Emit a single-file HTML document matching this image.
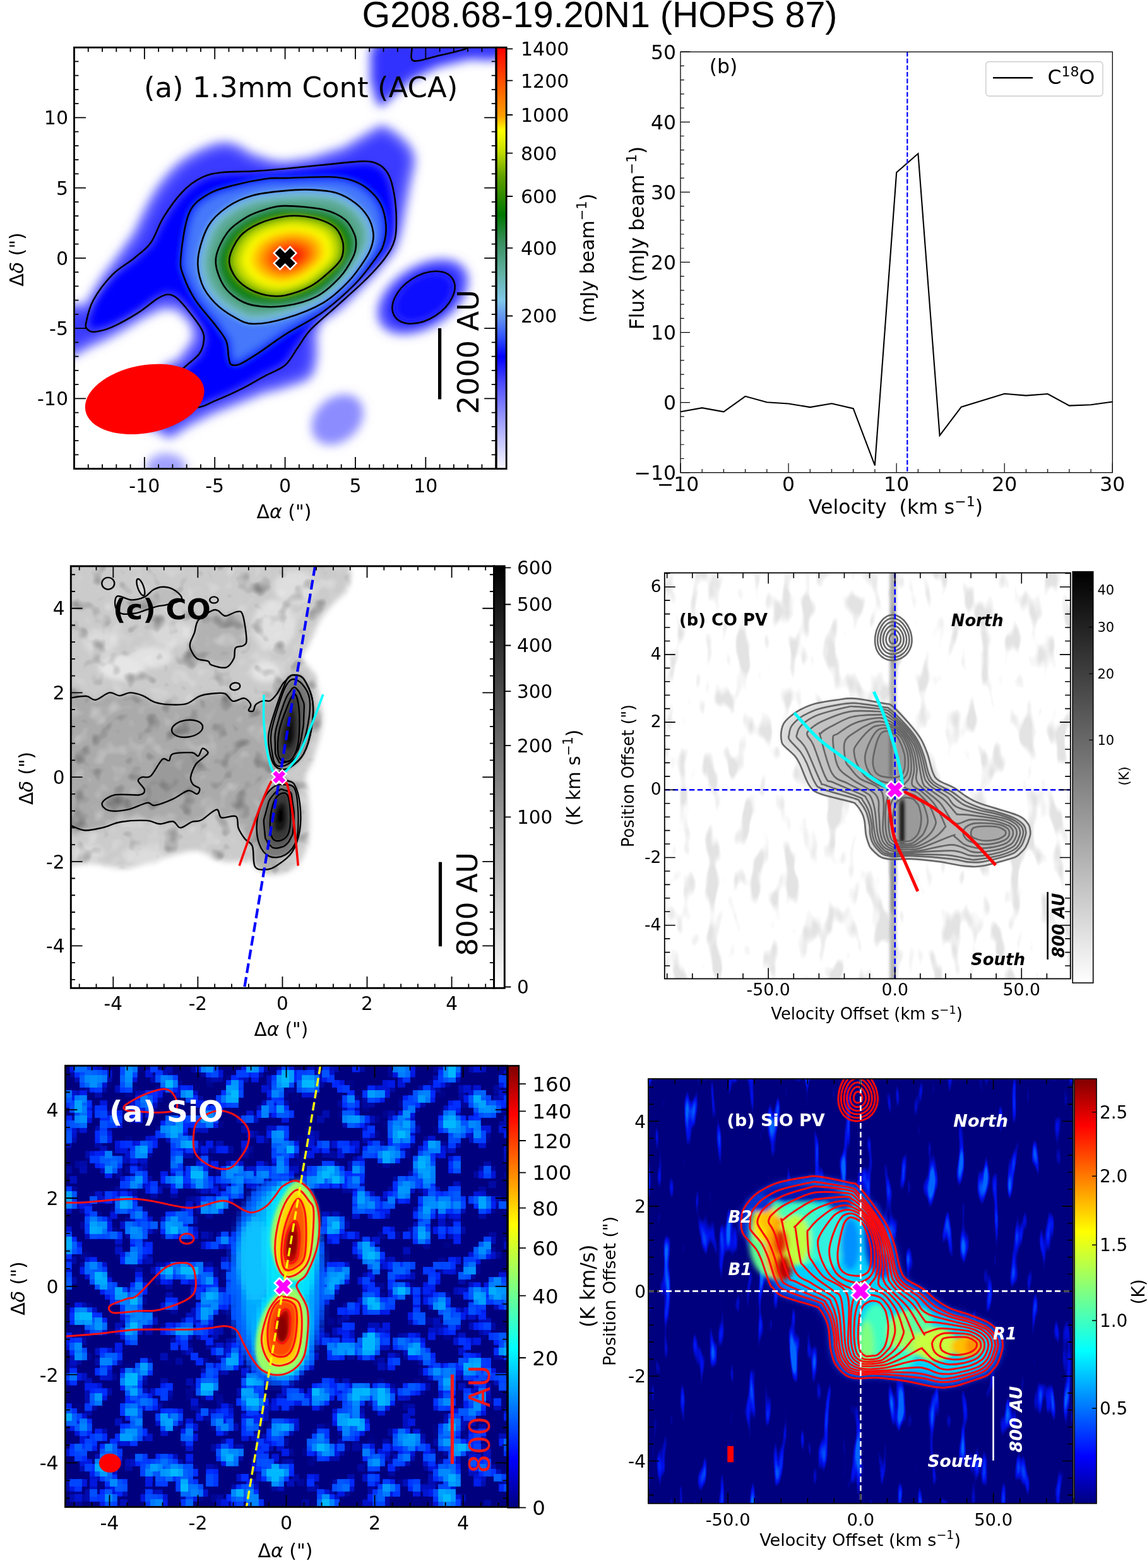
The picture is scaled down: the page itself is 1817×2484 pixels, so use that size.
<!DOCTYPE html>
<html><head><meta charset="utf-8"><title>G208.68-19.20N1 (HOPS 87)</title>
<style>html,body{margin:0;padding:0;background:#fff;} svg{display:block;}</style></head>
<body><svg width="1817" height="2484" viewBox="0 0 1817 2484">
<defs><linearGradient id="cmapA" x1="0" y1="0" x2="0" y2="1"><stop offset="0" stop-color="#ff0000"/><stop offset="0.08" stop-color="#ff5000"/><stop offset="0.163" stop-color="#ffa000"/><stop offset="0.197" stop-color="#ffff00"/><stop offset="0.244" stop-color="#c8e000"/><stop offset="0.307" stop-color="#60a000"/><stop offset="0.397" stop-color="#007800"/><stop offset="0.464" stop-color="#3a9060"/><stop offset="0.532" stop-color="#60b0a0"/><stop offset="0.6" stop-color="#80c8e8"/><stop offset="0.644" stop-color="#6090f0"/><stop offset="0.689" stop-color="#3050ff"/><stop offset="0.734" stop-color="#0000ff"/><stop offset="0.8" stop-color="#5050ff"/><stop offset="0.87" stop-color="#9090ff"/><stop offset="0.937" stop-color="#c8c8ff"/><stop offset="1" stop-color="#f8f8ff"/></linearGradient><linearGradient id="cmapC" x1="0" y1="0" x2="0" y2="1"><stop offset="0" stop-color="#000000"/><stop offset="1" stop-color="#ffffff"/></linearGradient><linearGradient id="cmapD" x1="0" y1="0" x2="0" y2="1"><stop offset="0" stop-color="#000000"/><stop offset="1" stop-color="#ffffff"/></linearGradient><linearGradient id="jet" x1="0" y1="0" x2="0" y2="1"><stop offset="0" stop-color="#7f0000"/><stop offset="0.11" stop-color="#ff0000"/><stop offset="0.36" stop-color="#ffff00"/><stop offset="0.5" stop-color="#7fff7f"/><stop offset="0.64" stop-color="#00ffff"/><stop offset="0.89" stop-color="#0000ff"/><stop offset="1" stop-color="#00007f"/></linearGradient><linearGradient id="jetF" x1="0" y1="0" x2="0" y2="1"><stop offset="0" stop-color="#800000"/><stop offset="0.11" stop-color="#ff0000"/><stop offset="0.36" stop-color="#ffff00"/><stop offset="0.5" stop-color="#80ff80"/><stop offset="0.64" stop-color="#00ffff"/><stop offset="0.89" stop-color="#0000ff"/><stop offset="1" stop-color="#000080"/></linearGradient><filter id="blurA" x="-10%" y="-10%" width="120%" height="120%"><feGaussianBlur stdDeviation="5.5"/></filter><filter id="blurA2" x="-10%" y="-10%" width="120%" height="120%"><feGaussianBlur stdDeviation="3.2"/></filter><clipPath id="clipA"><rect x="117.5" y="75.2" width="668.2" height="667.4"/></clipPath><filter id="blurA0" x="-10%" y="-10%" width="120%" height="120%"><feGaussianBlur stdDeviation="8"/></filter><clipPath id="clipB"><rect x="1078.0" y="82.2" width="684.3" height="666.5"/></clipPath><clipPath id="clipC"><rect x="112.3" y="896.9" width="670.3000000000001" height="668.4"/></clipPath><filter id="blurC" x="-10%" y="-10%" width="120%" height="120%"><feGaussianBlur stdDeviation="4"/></filter><filter id="blurC2" x="-20%" y="-20%" width="140%" height="140%"><feGaussianBlur stdDeviation="2.5"/></filter><filter id="mottleC" x="0" y="0" width="100%" height="100%" color-interpolation-filters="sRGB">
<feTurbulence type="fractalNoise" baseFrequency="0.035" numOctaves="2" seed="21" result="t"/>
<feColorMatrix in="t" type="matrix" values="0 0 0 0 1  0 0 0 0 1  0 0 0 0 1  1.0 0 0 0 -0.56" result="w"/>
<feColorMatrix in="t" type="matrix" values="0 0 0 0 0  0 0 0 0 0  0 0 0 0 0  -1.0 0 0 0 0.44" result="k"/>
<feMerge><feMergeNode in="w"/><feMergeNode in="k"/></feMerge>
</filter><mask id="maskC"><g filter="url(#blurC)"><path d="M72.1 856.8C112.3 816.7 233.0 856.8 313.4 856.8C393.8 856.8 514.5 853.5 554.7 856.8C594.9 860.1 555.3 864.8 554.7 876.8C554.1 888.9 556.0 915.5 551.3 929.0C546.7 942.5 533.9 948.8 526.5 957.7C519.2 966.6 513.6 971.4 507.1 982.5C500.6 993.5 492.6 1013.8 487.7 1023.9C482.8 1034.0 476.0 1035.9 477.6 1043.3C479.2 1050.6 491.7 1054.5 497.1 1068.0C502.4 1081.5 507.7 1110.0 509.8 1124.2C511.9 1138.3 512.2 1139.3 509.8 1152.9C507.3 1166.5 499.3 1192.7 495.0 1205.7C490.8 1218.7 485.3 1220.2 484.3 1231.1C483.3 1242.0 488.2 1255.6 489.0 1271.2C489.8 1286.8 490.9 1309.6 489.0 1324.7C487.1 1339.7 483.4 1352.0 477.6 1361.4C471.8 1370.9 463.6 1377.6 454.2 1381.5C444.7 1385.4 429.8 1387.6 420.6 1384.8C411.5 1382.0 410.4 1368.1 399.2 1364.8C388.0 1361.4 367.9 1367.6 353.6 1364.8C339.3 1362.0 326.8 1349.7 313.4 1348.1C300.0 1346.4 286.6 1351.4 273.2 1354.8C259.8 1358.1 246.4 1364.8 233.0 1368.1C219.5 1371.5 207.3 1374.8 192.7 1374.8C178.2 1374.8 159.2 1368.7 145.8 1368.1C132.4 1367.6 124.6 1370.9 112.3 1371.5C100.0 1372.0 78.8 1383.7 72.1 1371.5C65.4 1359.2 72.1 1343.6 72.1 1297.9C72.1 1252.3 72.1 1170.9 72.1 1097.4C72.1 1023.9 31.9 896.9 72.1 856.8Z" fill="#fff"/></g></mask><clipPath id="clipD"><rect x="1052.8" y="907.5" width="643.0" height="643.0"/></clipPath><filter id="noiseD" x="0" y="0" width="100%" height="100%" color-interpolation-filters="sRGB">
<feTurbulence type="fractalNoise" baseFrequency="0.042 0.016" numOctaves="2" seed="7" result="t"/>
<feColorMatrix in="t" type="matrix" values="0 0 0 0 0.89  0 0 0 0 0.89  0 0 0 0 0.89  7 0 0 0 -3.85"/>
</filter><filter id="blurD" x="-10%" y="-10%" width="120%" height="120%"><feGaussianBlur stdDeviation="2.5"/></filter><filter id="blurD2" x="-50%" y="-10%" width="200%" height="120%"><feGaussianBlur stdDeviation="2.2 5"/></filter><clipPath id="clipE"><rect x="103.5" y="1688.3" width="700.1" height="699.0000000000002"/></clipPath><filter id="noiseE" x="0" y="0" width="100%" height="100%" color-interpolation-filters="sRGB">
<feTurbulence type="fractalNoise" baseFrequency="0.026" numOctaves="3" seed="11" result="t"/>
<feColorMatrix in="t" type="matrix" values="0 0 0 0 0  0 0 0 0 0.12  0 0 0 0 1  14 0 0 0 -7.12" result="l1"/>
<feColorMatrix in="t" type="matrix" values="0 0 0 0 0  0 0 0 0 0.45  0 0 0 0 1  8 0 0 0 -4.5" result="l2"/>
<feColorMatrix in="t" type="matrix" values="0 0 0 0 0  0 0 0 0 0.72  0 0 0 0 1  8 0 0 0 -5.3" result="l3"/>
<feMerge result="m"><feMergeNode in="l1"/><feMergeNode in="l2"/><feMergeNode in="l3"/></feMerge>
<feFlood x="107.7" y="1692.5" width="1" height="1" flood-color="#000"/>
<feComposite x="103.5" y="1688.3" width="9.4" height="9.4"/>
<feTile result="grid"/>
<feComposite in="m" in2="grid" operator="in"/>
<feMorphology operator="dilate" radius="4.7"/>
</filter><filter id="blurE" filterUnits="userSpaceOnUse" x="103.5" y="1688.3" width="700.1" height="699.0000000000002">
<feGaussianBlur stdDeviation="4" result="b"/>
<feFlood x="107.7" y="1692.5" width="1" height="1" flood-color="#000"/>
<feComposite x="103.5" y="1688.3" width="9.4" height="9.4"/>
<feTile result="grid"/>
<feComposite in="b" in2="grid" operator="in"/>
<feMorphology operator="dilate" radius="4.7"/>
</filter><filter id="blurE2" x="-20%" y="-20%" width="140%" height="140%"><feGaussianBlur stdDeviation="2.6"/></filter><clipPath id="clipF"><rect x="1027" y="1709" width="672.8" height="672.8000000000002"/></clipPath><filter id="noiseF" x="0" y="0" width="100%" height="100%" color-interpolation-filters="sRGB">
<feTurbulence type="fractalNoise" baseFrequency="0.06 0.011" numOctaves="2" seed="5" result="t"/>
<feColorMatrix in="t" type="matrix" values="0 0 0 0 0  0 0 0 0 0.06  0 0 0 0 0.93  12 0 0 0 -7.5" result="l1"/>
<feColorMatrix in="t" type="matrix" values="0 0 0 0 0  0 0 0 0 0.4  0 0 0 0 1  12 0 0 0 -8.6" result="l2"/>
<feMerge><feMergeNode in="l1"/><feMergeNode in="l2"/></feMerge>
</filter><filter id="blurF" x="-20%" y="-20%" width="140%" height="140%"><feGaussianBlur stdDeviation="6 4"/></filter><filter id="blurF2" x="-20%" y="-20%" width="140%" height="140%"><feGaussianBlur stdDeviation="4 3"/></filter></defs>
<text x="950" y="42.6" font-size="57.4" text-anchor="middle" fill="#000" font-family="'Liberation Sans', Arial, sans-serif">G208.68-19.20N1 (HOPS 87)</text><g clip-path="url(#clipA)"><g filter="url(#blurA0)"><path d="M181.9 410.1C178.2 415.1 167.4 428.5 159.7 440.3C152.0 452.0 139.5 473.9 135.5 480.7C131.4 487.4 135.4 480.8 135.4 480.8C135.3 480.9 135.3 480.9 135.2 481.0C135.2 481.0 135.1 481.1 135.1 481.1C135.0 481.2 135.0 481.2 134.9 481.3C134.9 481.3 134.8 481.3 134.8 481.4C134.7 481.4 134.7 481.4 134.6 481.5C134.5 481.5 134.5 481.5 134.4 481.5C134.4 481.6 140.4 480.1 134.2 481.6C128.0 483.1 103.4 476.5 97.2 490.6C91.1 504.7 88.9 556.6 97.2 566.2C105.5 575.9 132.0 554.9 147.0 548.5C162.0 542.2 173.9 535.8 187.4 528.4C200.8 521.0 221.1 508.2 227.8 504.2C234.6 500.1 222.9 506.5 228.0 504.1C233.1 501.7 253.2 492.2 258.3 489.8C263.4 487.5 258.4 489.8 258.5 489.8C258.6 489.7 258.6 489.7 258.7 489.7C258.8 489.7 258.9 489.7 258.9 489.7C259.0 489.7 259.1 489.7 259.1 489.7C259.2 489.7 255.9 489.3 259.4 489.7C262.8 490.0 276.2 491.3 279.6 491.7C283.0 492.0 279.8 491.7 279.8 491.7C279.9 491.7 279.9 491.7 280.0 491.7C280.1 491.8 280.1 491.8 280.2 491.8C280.3 491.8 280.3 491.9 280.4 491.9C280.4 491.9 280.5 492.0 280.5 492.0C280.6 492.0 280.7 492.1 280.7 492.1C280.8 492.2 277.5 488.9 280.8 492.3C284.2 495.6 297.5 509.1 300.9 512.5C304.3 515.9 301.0 512.6 301.0 512.6C301.1 512.7 301.1 512.7 301.1 512.8C301.2 512.8 301.2 512.9 301.2 513.0C301.3 513.0 301.3 513.1 301.3 513.1C301.3 513.2 301.4 513.2 301.4 513.3C301.4 513.4 300.7 510.1 301.4 513.5C302.1 516.9 305.0 530.3 305.7 533.7C306.4 537.1 305.7 533.9 305.7 533.9C305.7 534.0 305.7 534.1 305.7 534.1C305.7 534.2 305.7 534.2 305.7 534.3C305.7 534.4 305.7 534.4 305.7 534.5C305.7 534.6 305.6 534.6 305.6 534.7C305.6 534.8 305.6 534.8 305.6 534.9C305.5 534.9 305.5 535.0 305.5 535.0C305.5 535.1 307.1 532.5 305.4 535.2C303.7 538.0 296.9 548.7 295.2 551.5C293.4 554.2 297.4 548.6 295.0 551.6C292.7 554.6 283.4 566.6 281.0 569.6C278.6 572.7 280.9 569.8 280.9 569.8C280.8 569.9 280.8 569.9 280.7 570.0C280.6 570.0 285.2 567.0 280.5 570.1C275.9 573.1 262.8 572.6 252.7 588.2C242.7 603.9 220.7 648.0 220.2 664.0C219.8 680.0 241.8 679.0 249.9 683.9C258.1 688.9 261.0 694.9 269.1 693.6C277.2 692.3 293.5 678.9 298.4 675.9C303.4 673.0 291.8 679.2 298.6 675.8C305.4 672.5 332.5 659.0 339.3 655.6C346.2 652.2 332.8 658.2 339.5 655.5C346.2 652.9 366.4 644.9 379.8 639.5C393.2 634.1 413.4 626.0 420.1 623.3C426.9 620.6 415.2 624.5 420.4 623.2C425.5 621.9 439.3 619.2 451.0 615.2C462.7 611.3 482.1 606.8 490.6 599.4C499.1 591.9 500.2 581.8 502.2 570.3C504.1 558.7 502.2 536.9 502.2 530.1C502.2 523.4 502.2 530.0 502.2 530.0C502.2 529.9 502.2 529.8 502.2 529.8C502.2 529.7 502.2 529.6 502.2 529.6C502.3 529.5 501.0 532.8 502.3 529.4C503.7 526.0 509.0 512.6 510.3 509.2C511.7 505.8 510.4 509.0 510.4 509.0C510.4 508.9 510.5 508.9 510.5 508.8C510.5 508.7 510.6 508.7 510.6 508.6C510.7 508.6 510.7 508.5 510.8 508.5C510.8 508.4 510.9 508.4 510.9 508.4C511.0 508.3 506.0 511.6 511.1 508.2C516.2 504.9 528.0 499.8 541.4 488.1C554.9 476.4 579.0 451.2 591.8 437.8C604.6 424.4 612.3 414.4 618.0 407.6C623.7 400.9 622.8 404.1 625.8 397.5C628.8 390.8 632.9 379.4 635.9 367.7C638.9 356.0 642.5 334.0 643.9 327.3C645.2 320.6 642.5 334.0 643.9 327.3C645.2 320.6 650.5 293.8 651.9 287.0C653.2 280.3 650.9 292.0 651.9 287.0C652.9 282.0 657.7 265.2 658.0 257.0C658.4 248.8 656.6 243.6 654.0 237.8C651.4 232.0 647.6 227.4 642.4 222.1C637.1 216.8 629.0 210.1 622.5 206.2C616.0 202.3 611.5 197.3 603.4 198.6C595.3 200.0 583.9 208.8 574.0 214.4C564.0 220.1 548.8 229.6 543.7 232.6C538.7 235.7 543.6 232.7 543.5 232.7C543.5 232.8 551.8 230.1 543.3 232.8C534.8 235.5 501.2 246.2 492.7 248.9C484.3 251.5 492.6 248.9 492.6 248.9C492.5 248.9 499.2 247.9 492.4 248.9C485.7 250.0 458.7 254.1 451.9 255.2C445.1 256.2 451.8 255.2 451.7 255.2C451.7 255.2 451.6 255.2 451.6 255.2C451.5 255.2 454.8 255.5 451.4 255.2C447.9 254.8 434.3 253.3 430.9 252.9C427.4 252.6 430.8 252.9 430.7 252.9C430.6 252.9 435.6 254.5 430.5 252.8C425.4 251.2 405.3 244.5 400.2 242.8C395.1 241.2 400.1 242.8 400.0 242.8C400.0 242.8 404.9 245.4 399.9 242.7C394.8 240.0 379.7 229.4 369.8 226.7C359.9 224.0 352.2 223.7 340.7 226.7C329.1 229.7 312.2 237.7 300.5 244.7C288.9 251.6 280.6 258.0 270.6 268.6C260.6 279.2 250.6 291.8 240.6 308.5C230.6 325.3 215.6 359.0 210.6 369.1C205.6 379.2 210.6 369.2 210.5 369.2C210.5 369.3 215.2 362.5 210.5 369.3C205.7 376.1 186.7 403.3 181.9 410.0C177.2 416.8 185.6 405.0 181.9 410.1Z" fill="#6a6aff"/><path d="M191.6 417.2C187.9 422.2 177.3 435.3 169.7 446.9C162.1 458.5 149.9 480.0 145.8 486.8C141.6 493.7 145.3 487.6 145.0 488.0C144.7 488.4 144.4 488.7 144.1 489.1C143.8 489.4 143.5 489.7 143.1 490.0C142.8 490.4 142.4 490.6 142.1 490.9C141.7 491.2 141.3 491.5 140.9 491.7C140.5 491.9 140.1 492.1 139.7 492.3C139.3 492.5 138.8 492.7 138.4 492.9C138.0 493.0 141.9 492.1 137.1 493.3C132.2 494.4 113.9 490.7 109.2 500.0C104.6 509.3 103.7 543.0 109.2 549.2C114.7 555.5 130.2 542.7 142.3 537.5C154.4 532.3 168.4 525.1 181.6 517.9C194.8 510.6 214.8 498.0 221.7 493.9C228.6 489.8 217.7 495.7 222.9 493.2C228.2 490.7 247.9 481.5 253.2 479.0C258.5 476.5 254.1 478.6 254.6 478.4C255.1 478.3 255.6 478.1 256.0 478.0C256.5 477.9 257.0 477.8 257.5 477.8C258.0 477.7 258.5 477.7 259.0 477.7C259.5 477.7 256.9 477.4 260.5 477.7C264.2 478.1 277.2 479.4 280.8 479.7C284.4 480.1 281.7 479.8 282.2 479.9C282.6 480.0 283.1 480.1 283.5 480.3C284.0 480.4 284.4 480.6 284.8 480.7C285.2 480.9 285.7 481.1 286.1 481.3C286.5 481.6 286.9 481.8 287.2 482.0C287.6 482.3 288.0 482.6 288.4 482.9C288.7 483.2 285.9 480.3 289.4 483.8C292.9 487.3 305.9 500.5 309.4 504.1C312.9 507.6 310.0 504.7 310.3 505.0C310.6 505.4 310.9 505.8 311.1 506.1C311.4 506.5 311.6 506.9 311.8 507.3C312.0 507.7 312.2 508.1 312.4 508.5C312.6 508.9 312.7 509.3 312.8 509.7C313.0 510.2 312.4 507.4 313.2 511.0C313.9 514.6 316.7 527.7 317.4 531.3C318.1 534.9 317.6 532.2 317.6 532.6C317.7 533.1 317.7 533.5 317.7 534.0C317.7 534.4 317.7 534.9 317.7 535.3C317.6 535.7 317.6 536.2 317.5 536.6C317.4 537.1 317.3 537.5 317.2 537.9C317.1 538.4 316.9 538.8 316.8 539.2C316.6 539.6 316.4 540.0 316.2 540.4C316.0 540.8 317.4 538.7 315.5 541.6C313.7 544.5 307.1 555.0 305.3 557.9C303.5 560.8 307.0 555.8 304.5 559.0C302.0 562.2 293.0 573.8 290.5 577.0C288.0 580.2 289.8 577.8 289.5 578.2C289.1 578.5 288.7 578.9 288.3 579.2C287.9 579.5 291.4 577.3 287.1 580.1C282.7 583.0 271.0 583.0 262.3 596.3C253.7 609.5 236.2 646.7 235.2 659.6C234.1 672.5 250.4 670.2 256.0 673.5C261.6 676.9 262.5 681.2 268.6 679.9C274.6 678.6 288.1 668.1 292.3 665.6C296.4 663.2 286.3 668.6 293.2 665.1C300.2 661.6 327.0 648.3 334.0 644.9C341.0 641.4 328.2 647.1 335.1 644.4C342.0 641.6 361.9 633.8 375.3 628.4C388.8 623.0 408.6 614.9 415.6 612.2C422.6 609.4 412.1 613.0 417.3 611.6C422.6 610.2 436.5 607.4 447.2 603.8C457.9 600.2 474.2 596.1 481.3 590.1C488.5 584.2 488.7 578.0 490.2 568.0C491.6 558.0 490.2 536.7 490.2 530.1C490.2 523.6 490.2 529.3 490.2 528.8C490.3 528.4 490.3 528.0 490.4 527.5C490.5 527.1 490.6 526.7 490.7 526.2C490.8 525.8 489.7 528.6 491.1 525.0C492.6 521.4 497.7 508.3 499.2 504.7C500.6 501.2 499.5 503.9 499.8 503.5C500.0 503.0 500.2 502.6 500.5 502.2C500.7 501.8 501.0 501.5 501.3 501.1C501.6 500.7 501.9 500.4 502.3 500.0C502.6 499.7 502.9 499.4 503.3 499.1C503.7 498.8 499.4 501.6 504.4 498.2C509.5 494.8 520.7 490.2 533.8 478.8C546.9 467.3 570.5 442.7 583.0 429.6C595.5 416.5 603.4 406.3 608.7 400.0C614.0 393.7 612.4 397.7 615.0 391.8C617.6 385.8 621.4 375.7 624.3 364.6C627.1 353.4 630.8 331.6 632.1 325.0C633.4 318.4 630.8 331.7 632.1 325.0C633.4 318.3 638.8 291.4 640.1 284.7C641.5 278.0 639.2 289.2 640.1 284.6C641.1 280.0 645.3 264.0 645.8 257.0C646.2 250.0 644.8 247.2 642.8 242.8C640.8 238.4 638.0 234.8 633.6 230.5C629.3 226.1 621.4 219.8 616.4 216.7C611.5 213.6 610.3 210.5 604.2 211.9C598.1 213.2 589.0 219.7 579.9 224.9C570.9 230.0 555.2 239.8 549.9 242.9C544.7 246.1 549.0 243.5 548.5 243.7C548.0 243.9 555.6 241.5 546.9 244.3C538.2 247.0 505.0 257.6 496.4 260.3C487.8 263.0 495.7 260.5 495.3 260.6C495.0 260.7 501.2 259.7 494.3 260.8C487.3 261.9 460.7 266.0 453.7 267.0C446.8 268.1 452.9 267.1 452.5 267.1C452.1 267.2 451.7 267.2 451.3 267.2C450.9 267.2 453.7 267.5 450.1 267.1C446.5 266.7 433.3 265.3 429.6 264.9C425.9 264.5 428.6 264.7 428.1 264.6C427.7 264.5 432.0 266.0 426.7 264.2C421.4 262.5 401.7 256.0 396.4 254.2C391.2 252.5 395.7 254.0 395.3 253.8C394.9 253.7 399.0 255.8 394.2 253.3C389.5 250.8 375.3 241.1 366.8 238.7C358.3 236.3 353.2 236.0 343.2 238.7C333.2 241.4 317.5 248.6 306.8 255.0C296.2 261.4 288.6 267.0 279.3 277.0C270.0 287.0 260.5 298.6 250.9 314.8C241.2 331.1 226.4 364.3 221.4 374.4C216.4 384.5 221.0 375.0 220.9 375.3C220.7 375.6 225.1 369.3 220.3 376.2C215.4 383.2 196.6 410.1 191.8 416.9C187.0 423.8 195.3 412.2 191.6 417.2Z" fill="#3a3aff"/><path d="M586.0 120.2C582.1 131.8 584.4 118.6 586.0 125.3C587.7 132.0 592.7 153.1 595.9 160.3C599.1 167.4 601.0 169.3 605.2 168.2C609.5 167.1 618.8 156.1 621.6 153.7C624.3 151.3 616.5 158.1 621.6 153.7C626.6 149.3 646.8 131.8 651.9 127.4C657.0 123.0 652.0 127.3 652.1 127.3C652.1 127.2 652.2 127.2 652.3 127.1C652.4 127.1 645.7 130.4 652.5 127.0C659.3 123.6 686.2 110.2 693.0 106.8C699.8 103.4 693.2 106.7 693.4 106.6C693.5 106.6 685.2 108.6 693.7 106.5C702.2 104.5 735.8 96.5 744.2 94.5C752.7 92.5 744.4 94.5 744.5 94.5C744.6 94.5 736.6 94.8 744.8 94.4C753.0 94.1 785.7 99.0 793.8 92.6C802.0 86.1 824.5 62.1 793.8 56.0C763.1 49.9 644.2 45.2 609.6 56.0C575.0 66.7 589.9 108.7 586.0 120.2Z" fill="#4a4aff"/><path d="M595.0 121.8C591.5 131.7 593.5 118.5 595.0 124.0C596.5 129.6 602.1 149.8 603.8 155.2C605.5 160.6 603.2 157.7 605.1 156.3C607.1 154.9 613.8 148.6 615.6 147.0C617.3 145.4 610.6 151.3 615.7 146.9C620.8 142.5 640.8 125.1 646.0 120.6C651.2 116.2 646.5 120.2 646.8 120.0C647.0 119.8 647.3 119.6 647.6 119.5C647.9 119.3 641.6 122.4 648.5 119.0C655.4 115.5 682.1 102.2 689.0 98.7C696.0 95.3 689.9 98.3 690.3 98.2C690.7 98.0 683.0 99.9 691.6 97.8C700.3 95.7 733.5 87.8 742.2 85.8C750.8 83.7 742.9 85.6 743.3 85.6C743.7 85.5 737.6 85.7 744.5 85.5C751.4 85.2 778.1 87.3 784.8 83.9C791.6 80.5 813.0 68.1 784.8 65.0C756.7 61.8 647.5 55.5 615.9 65.0C584.3 74.4 598.5 112.0 595.0 121.8Z" fill="#3030ff"/><ellipse cx="669.9" cy="470.1" rx="80.2" ry="49.0" transform="rotate(-33 669.9 470.1)" fill="#5a5aff"/><ellipse cx="669.9" cy="470.1" rx="66.8" ry="40.1" transform="rotate(-33 669.9 470.1)" fill="#2a2aff"/><ellipse cx="534.5" cy="664.7" rx="45.7" ry="34.5" transform="rotate(-42 534.5 664.7)" fill="#8c8cff"/><ellipse cx="263.2" cy="742.6" rx="32.3" ry="24.5" transform="rotate(0 263.2 742.6)" fill="#a0a0ff"/></g><g filter="url(#blurA)"><path d="M216.2 413.7C210.5 418.0 192.9 428.6 182.4 439.4C171.9 450.2 159.8 466.6 153.2 478.4C146.6 490.3 144.4 504.2 142.8 510.6C141.1 516.9 142.1 515.3 143.4 516.8C144.6 518.2 144.7 520.1 150.1 519.4C155.5 518.6 164.9 517.1 175.8 512.3C186.7 507.5 203.8 497.9 215.4 490.6C227.0 483.3 240.3 472.3 245.4 468.6C250.5 464.8 245.7 468.3 245.9 468.2C246.1 468.1 243.8 469.1 246.6 467.9C249.4 466.7 260.0 462.2 262.8 461.0C265.6 459.8 263.2 460.9 263.4 460.8C263.5 460.7 263.7 460.7 263.9 460.7C264.1 460.6 264.3 460.6 264.4 460.6C264.6 460.5 264.8 460.5 265.0 460.5C265.2 460.5 265.4 460.5 265.6 460.5C265.7 460.5 265.9 460.6 266.1 460.6C266.3 460.6 266.5 460.7 266.7 460.7C266.8 460.8 264.7 460.0 267.2 460.9C269.7 461.8 279.0 465.1 281.5 466.0C283.9 466.9 281.8 466.1 282.0 466.2C282.2 466.3 282.3 466.4 282.5 466.5C282.7 466.6 282.8 466.7 283.0 466.8C283.2 466.9 283.3 467.1 283.4 467.2C283.6 467.3 280.5 463.9 283.9 467.6C287.3 471.3 300.5 485.9 303.9 489.6C307.3 493.4 300.9 485.3 304.4 490.2C307.8 495.0 321.2 513.8 324.6 518.7C328.1 523.5 324.8 519.0 324.9 519.1C325.0 519.3 325.1 519.4 325.2 519.6C325.2 519.7 325.3 519.9 325.4 520.1C325.4 520.2 325.5 520.4 325.5 520.6C325.6 520.8 325.1 518.0 325.7 521.1C326.2 524.2 328.2 536.0 328.8 539.1C329.3 542.2 328.8 539.5 328.8 539.7C328.9 539.9 328.9 540.1 328.9 540.4C328.9 540.6 328.8 540.8 328.8 541.0C328.8 541.2 328.7 541.4 328.7 541.6C328.6 541.8 329.7 538.7 328.5 542.1C327.3 545.6 322.6 558.9 321.4 562.4C320.2 565.9 321.3 562.8 321.2 562.9C321.1 563.1 321.0 563.3 320.9 563.5C320.8 563.6 320.7 563.8 320.6 564.0C320.4 564.1 320.3 564.3 320.2 564.4C320.1 564.6 323.5 561.4 319.8 564.8C316.0 568.3 305.0 578.0 297.6 585.0C290.2 592.0 278.5 599.2 275.3 606.8C272.2 614.5 272.8 625.6 278.8 631.0C284.8 636.4 301.5 639.4 311.4 639.1C321.3 638.9 326.9 634.1 338.0 629.6C349.1 625.0 364.5 618.4 377.9 611.8C391.2 605.1 411.3 593.3 418.0 589.6C424.7 585.9 413.1 592.2 418.1 589.6C423.0 587.0 439.4 581.1 447.5 574.0C455.7 566.9 460.4 556.1 467.0 546.9C473.6 537.7 483.8 523.4 487.3 518.6C490.7 513.8 487.5 518.3 487.7 518.1C487.8 518.0 481.3 523.8 488.1 517.7C494.9 511.5 514.3 494.0 528.4 481.2C542.5 468.4 560.0 453.5 572.7 440.9C585.5 428.3 597.0 416.2 604.8 405.5C612.6 394.7 616.8 387.8 619.6 376.6C622.4 365.4 622.1 351.1 621.5 338.2C621.0 325.2 618.8 309.1 616.6 298.9C614.4 288.6 612.1 282.4 608.4 276.7C604.8 271.1 600.6 267.4 594.7 264.9C588.7 262.4 586.5 261.3 572.8 261.7C559.2 262.0 532.9 265.2 512.8 267.2C492.6 269.1 462.3 272.2 452.2 273.2C442.1 274.2 460.6 272.5 452.1 273.2C443.6 273.8 409.8 276.5 401.3 277.2C392.8 277.8 409.4 276.9 401.1 277.2C392.7 277.5 364.3 277.6 351.1 279.2C338.0 280.8 331.9 282.0 322.4 286.7C312.8 291.5 303.4 297.7 293.7 307.8C284.0 317.8 272.5 333.9 264.3 347.1C256.0 360.3 247.6 380.4 244.3 387.1C240.9 393.9 244.1 387.4 244.0 387.6C243.9 387.7 243.8 387.9 243.7 388.0C243.6 388.2 243.5 388.3 243.4 388.4C243.2 388.6 247.4 384.7 243.0 388.8C238.5 393.0 221.2 409.1 216.7 413.3C212.2 417.4 222.0 409.3 216.2 413.7Z" fill="#0000ff"/><ellipse cx="671.0" cy="471.2" rx="49.0" ry="30.1" transform="rotate(-33 671.0 471.2)" fill="#0808ff"/><path d="M287.3 408.9C286.0 425.7 288.5 427.8 292.4 438.8C296.3 449.9 302.5 462.7 310.6 475.1C318.7 487.5 335.9 506.9 341.0 513.3C346.1 519.7 338.0 509.0 341.1 513.3C344.1 517.7 356.1 535.2 359.1 539.6C362.1 544.0 359.1 539.6 359.1 539.7C359.2 539.7 359.2 539.7 359.2 539.7C359.2 539.8 359.2 539.8 359.2 539.8C359.2 539.9 359.2 539.9 359.2 539.9C359.3 539.9 358.6 535.6 359.3 540.0C359.9 544.4 362.0 560.1 363.3 566.2C364.5 572.2 364.1 574.9 367.0 576.5C369.8 578.1 373.0 578.8 380.2 575.7C387.5 572.5 398.5 565.3 410.3 557.6C422.1 549.8 444.2 534.0 451.0 529.3C457.8 524.6 441.0 535.4 451.1 529.3C461.2 523.2 493.1 506.3 511.6 492.8C530.1 479.4 548.4 462.8 562.2 448.7C576.0 434.6 587.1 418.4 594.4 408.3C601.8 398.2 603.6 396.4 606.3 388.1C609.0 379.7 611.2 368.9 610.5 358.2C609.8 347.6 607.1 333.8 602.4 324.2C597.7 314.5 590.0 306.5 582.4 300.2C574.7 293.9 566.4 289.5 556.4 286.4C546.4 283.2 539.8 281.9 522.4 281.3C504.9 280.8 468.5 282.6 451.6 283.1C434.7 283.6 434.5 282.3 421.0 284.2C407.5 286.1 385.6 290.4 370.6 294.4C355.5 298.4 342.2 301.0 330.5 308.3C318.8 315.6 307.6 321.4 300.4 338.2C293.2 355.0 288.7 392.1 287.3 408.9Z" fill="#2048ff"/><path d="M295.5 409.0C294.2 424.7 296.5 426.0 300.1 436.3C303.7 446.6 309.5 458.8 317.3 470.8C325.2 482.8 342.2 502.0 347.3 508.3C352.3 514.6 344.6 504.3 347.7 508.8C350.7 513.3 362.6 530.6 365.7 535.1C368.8 539.5 366.0 535.5 366.1 535.7C366.3 536.0 366.4 536.2 366.5 536.5C366.6 536.7 366.7 537.0 366.8 537.2C366.9 537.5 366.9 537.7 367.0 538.0C367.1 538.3 366.5 534.4 367.2 538.8C367.8 543.2 370.2 559.3 371.0 564.2C371.9 569.1 371.3 567.5 372.5 568.1C373.6 568.7 372.2 570.7 377.8 567.8C383.4 564.9 394.5 558.3 405.9 550.8C417.4 543.3 439.6 527.5 446.5 522.7C453.3 518.0 436.9 528.5 447.0 522.4C457.0 516.4 488.6 499.6 506.9 486.4C525.1 473.1 542.9 456.9 556.4 443.1C569.9 429.4 580.8 413.4 587.8 403.8C594.9 394.2 596.2 392.9 598.6 385.4C601.0 377.9 603.0 368.2 602.4 358.6C601.8 349.0 599.2 336.5 595.0 327.8C590.8 319.2 584.1 312.2 577.2 306.6C570.4 300.9 563.1 297.0 553.9 294.1C544.6 291.2 538.9 289.8 521.9 289.3C504.9 288.8 468.5 290.6 451.9 291.1C435.2 291.6 435.1 290.3 421.9 292.2C408.7 294.0 387.2 298.3 372.7 302.1C358.2 306.0 345.7 308.6 334.9 315.3C324.1 321.9 314.4 326.5 307.8 342.1C301.2 357.7 296.8 393.3 295.5 409.0Z" fill="#4478fa"/><path d="M314.8 409.0C313.1 424.1 316.3 437.4 320.7 449.0C325.1 460.7 332.6 470.3 341.0 478.9C349.3 487.6 360.8 495.5 370.8 501.0C380.8 506.5 387.5 511.6 400.9 512.0C414.3 512.4 432.9 509.1 451.3 503.6C469.8 498.1 494.9 488.6 511.7 478.8C528.4 468.9 540.8 456.2 552.0 444.5C563.2 432.7 572.8 417.8 578.8 408.4C584.9 399.0 586.4 394.8 588.3 388.2C590.2 381.5 591.3 375.6 590.2 368.3C589.2 361.0 586.8 352.1 582.1 344.5C577.5 336.8 570.7 328.8 562.3 322.5C554.0 316.2 543.9 309.9 532.1 306.4C520.4 302.9 505.5 302.1 492.1 301.6C478.7 301.0 466.9 301.6 451.7 303.1C436.5 304.6 416.2 306.2 401.1 310.4C386.0 314.7 372.6 320.5 360.9 328.5C349.2 336.5 338.6 345.1 330.9 358.5C323.2 371.9 316.4 393.9 314.8 409.0Z" fill="#78bce8"/><path d="M320.9 409.5C319.3 423.7 322.4 435.9 326.4 446.8C330.5 457.7 337.5 466.6 345.4 474.7C353.2 482.9 364.3 490.5 373.7 495.7C383.0 500.8 388.8 505.5 401.5 505.8C414.2 506.2 431.8 503.2 449.7 497.8C467.5 492.4 492.2 483.2 508.5 473.6C524.8 464.0 536.7 451.7 547.6 440.3C558.4 429.0 567.8 414.3 573.6 405.3C579.4 396.3 580.7 392.6 582.4 386.6C584.2 380.5 585.1 375.5 584.1 369.0C583.2 362.5 581.1 354.5 576.8 347.6C572.6 340.6 566.3 333.2 558.6 327.3C550.8 321.4 541.4 315.5 530.3 312.2C519.2 309.0 504.9 308.1 491.8 307.6C478.8 307.1 467.1 307.7 452.2 309.1C437.4 310.5 417.4 312.2 402.8 316.2C388.1 320.3 375.4 326.0 364.3 333.6C353.2 341.1 343.4 349.1 336.1 361.7C328.9 374.4 322.5 395.3 320.9 409.5Z" fill="#74bcc8"/><path d="M327.0 410.0C325.5 423.2 328.4 434.5 332.2 444.6C336.0 454.6 342.4 462.9 349.8 470.5C357.1 478.1 367.8 485.5 376.5 490.3C385.2 495.2 390.1 499.4 402.1 499.6C414.0 499.9 430.8 497.2 448.0 492.0C465.2 486.8 489.5 477.7 505.3 468.4C521.2 459.1 532.6 447.3 543.2 436.2C553.7 425.2 562.9 410.7 568.5 402.2C574.0 393.7 574.9 390.4 576.5 384.9C578.1 379.5 578.9 375.4 578.0 369.7C577.2 364.0 575.4 356.9 571.6 350.7C567.7 344.4 562.0 337.5 554.8 332.1C547.7 326.7 539.0 321.2 528.5 318.1C517.9 315.0 504.2 314.1 491.6 313.6C479.0 313.1 467.3 313.7 452.8 315.1C438.3 316.5 418.7 318.1 404.5 322.1C390.3 326.0 378.3 331.4 367.8 338.6C357.3 345.7 348.2 353.0 341.4 364.9C334.6 376.8 328.6 396.7 327.0 410.0Z" fill="#58a890"/><path d="M343.1 409.0C341.4 421.7 346.5 434.8 351.2 444.7C355.8 454.6 362.6 462.3 370.9 468.6C379.2 474.9 387.6 480.2 401.0 482.7C414.5 485.1 434.7 485.9 451.5 483.5C468.2 481.2 487.3 476.0 501.7 468.5C516.1 461.0 528.4 448.5 537.7 438.5C547.0 428.5 553.4 416.5 557.6 408.5C561.8 400.5 562.3 396.3 562.8 390.3C563.4 384.4 563.7 379.5 560.9 372.5C558.1 365.6 554.2 355.3 546.0 348.7C537.9 342.1 527.6 336.5 511.9 332.9C496.2 329.3 466.8 327.2 451.6 327.2C436.5 327.1 431.2 329.7 421.1 332.7C411.0 335.6 401.1 338.8 391.1 344.8C381.1 350.8 369.1 358.1 361.1 368.8C353.1 379.5 344.7 396.4 343.1 409.0Z" fill="#248a3c"/><path d="M349.4 409.6C347.8 421.2 352.5 433.0 356.7 442.0C360.9 451.0 367.1 458.0 374.7 463.7C382.3 469.5 389.8 474.4 402.4 476.7C415.1 479.0 434.6 479.8 450.6 477.5C466.7 475.3 485.0 470.3 498.8 463.1C512.5 455.9 524.3 444.0 533.2 434.4C542.1 424.9 548.2 413.4 552.1 405.9C556.0 398.5 556.3 395.1 556.7 389.8C557.2 384.6 557.5 380.6 555.1 374.5C552.6 368.5 549.3 359.4 541.9 353.4C534.4 347.5 525.3 342.2 510.3 338.8C495.3 335.4 466.5 333.3 451.9 333.2C437.3 333.1 432.4 335.7 422.8 338.5C413.2 341.3 403.6 344.4 394.1 350.0C384.7 355.7 373.4 362.7 366.0 372.6C358.5 382.5 350.9 398.1 349.4 409.6Z" fill="#0a800c"/><path d="M364.5 409.0C362.8 419.0 366.8 427.0 371.2 434.6C375.6 442.2 382.8 449.2 391.1 454.5C399.4 459.8 411.0 464.4 421.1 466.4C431.1 468.5 439.7 469.2 451.4 466.9C463.2 464.5 479.9 458.8 491.7 452.5C503.4 446.2 514.1 435.9 521.8 429.3C529.4 422.7 534.2 417.7 537.6 412.8C541.0 407.9 541.7 404.9 542.4 399.8C543.0 394.8 543.5 388.6 541.7 382.5C539.9 376.3 536.7 368.2 531.7 362.9C526.7 357.6 520.1 354.1 511.8 350.9C503.5 347.7 491.8 345.0 481.8 343.8C471.8 342.7 463.5 342.0 451.7 343.8C440.0 345.7 423.0 349.7 411.3 354.9C399.5 360.0 389.1 365.9 381.3 374.9C373.5 383.9 366.1 399.0 364.5 409.0Z" fill="#88bc00"/><path d="M373.0 408.8C374.5 399.6 381.3 385.8 388.4 377.6C395.5 369.3 405.0 364.0 415.7 359.3C426.4 354.6 441.7 351.0 452.4 349.3C463.0 347.7 470.6 348.3 479.6 349.3C488.7 350.4 499.3 352.8 506.9 355.7C514.5 358.6 520.6 361.9 525.1 366.7C529.7 371.6 532.7 379.1 534.4 384.8C536.0 390.4 535.6 396.1 535.0 400.8C534.3 405.5 533.7 408.3 530.6 412.8C527.4 417.3 523.1 421.8 516.1 427.8C509.2 433.8 499.5 443.2 488.9 448.8C478.2 454.5 463.1 459.7 452.4 461.8C441.7 463.9 433.9 463.3 424.7 461.4C415.6 459.6 405.0 455.5 397.5 450.6C389.9 445.8 383.3 439.4 379.2 432.4C375.1 425.4 371.5 417.9 373.0 408.8Z" fill="#c4dc00"/><path d="M384.5 408.7C385.8 400.7 391.7 388.7 397.9 381.6C404.1 374.4 412.3 369.9 421.5 365.8C430.8 361.7 444.1 358.6 453.3 357.1C462.6 355.7 469.1 356.2 476.9 357.1C484.8 358.0 494.0 360.2 500.6 362.7C507.1 365.2 512.4 368.0 516.4 372.2C520.3 376.4 523.0 382.9 524.4 387.8C525.8 392.7 525.4 397.7 524.9 401.7C524.3 405.8 523.8 408.2 521.1 412.1C518.3 416.0 514.6 419.9 508.6 425.1C502.5 430.3 494.1 438.4 484.9 443.4C475.7 448.3 462.6 452.8 453.3 454.6C444.0 456.5 437.3 455.9 429.3 454.3C421.4 452.7 412.3 449.1 405.7 444.9C399.1 440.7 393.4 435.2 389.9 429.1C386.4 423.1 383.2 416.6 384.5 408.7Z" fill="#fafa00"/><path d="M398.0 408.5C399.0 402.0 403.9 392.1 408.9 386.3C414.0 380.4 420.7 376.7 428.3 373.3C435.9 370.0 446.8 367.4 454.4 366.2C462.0 365.0 467.3 365.5 473.8 366.2C480.3 367.0 487.8 368.7 493.2 370.8C498.6 372.8 502.9 375.2 506.2 378.6C509.4 382.0 511.5 387.4 512.7 391.4C513.9 395.4 513.6 399.5 513.1 402.8C512.7 406.1 512.2 408.1 510.0 411.3C507.8 414.6 504.7 417.8 499.7 422.0C494.8 426.3 487.9 432.9 480.4 437.0C472.8 441.0 462.0 444.7 454.4 446.2C446.8 447.7 441.2 447.3 434.7 445.9C428.2 444.6 420.7 441.7 415.3 438.3C410.0 434.8 405.3 430.3 402.4 425.3C399.5 420.3 396.9 415.0 398.0 408.5Z" fill="#ffcc00"/><path d="M409.5 408.4C410.4 403.1 414.3 395.1 418.4 390.3C422.5 385.6 428.0 382.5 434.1 379.8C440.3 377.1 449.2 375.0 455.3 374.0C461.5 373.0 465.8 373.4 471.1 374.0C476.3 374.6 482.5 376.0 486.8 377.7C491.2 379.4 494.7 381.3 497.4 384.1C500.0 386.9 501.8 391.2 502.7 394.5C503.7 397.8 503.4 401.0 503.1 403.7C502.7 406.4 502.3 408.1 500.5 410.7C498.7 413.3 496.2 415.9 492.2 419.4C488.2 422.8 482.6 428.2 476.4 431.5C470.3 434.8 461.5 437.8 455.3 439.0C449.2 440.2 444.6 439.9 439.4 438.8C434.1 437.7 428.0 435.3 423.6 432.5C419.2 429.7 415.4 426.0 413.1 422.0C410.7 418.0 408.6 413.6 409.5 408.4Z" fill="#ff9600"/><path d="M421.0 408.2C421.7 404.2 424.7 398.0 427.9 394.4C431.0 390.7 435.2 388.3 440.0 386.3C444.7 384.2 451.5 382.5 456.3 381.8C461.0 381.1 464.4 381.3 468.4 381.8C472.4 382.3 477.1 383.4 480.5 384.7C483.9 385.9 486.6 387.4 488.6 389.5C490.7 391.7 492.0 395.0 492.7 397.6C493.4 400.1 493.3 402.6 493.0 404.7C492.7 406.7 492.4 408.0 491.0 410.0C489.6 412.0 487.7 414.0 484.6 416.7C481.5 419.4 477.2 423.5 472.5 426.0C467.8 428.6 461.0 430.9 456.3 431.8C451.5 432.7 448.1 432.5 444.0 431.6C439.9 430.8 435.2 429.0 431.9 426.8C428.5 424.7 425.6 421.8 423.8 418.7C421.9 415.6 420.3 412.3 421.0 408.2Z" fill="#ff6000"/><path d="M432.5 408.1C433.0 405.3 435.1 400.9 437.3 398.4C439.5 395.8 442.5 394.2 445.8 392.7C449.1 391.2 453.9 390.1 457.2 389.6C460.5 389.1 462.9 389.3 465.7 389.6C468.5 389.9 471.8 390.7 474.2 391.6C476.5 392.5 478.4 393.5 479.9 395.0C481.3 396.5 482.2 398.9 482.7 400.6C483.2 402.4 483.1 404.2 482.9 405.6C482.7 407.1 482.5 407.9 481.5 409.3C480.6 410.7 479.2 412.1 477.0 414.0C474.9 415.9 471.9 418.8 468.6 420.6C465.3 422.3 460.5 424.0 457.2 424.6C453.9 425.3 451.5 425.1 448.6 424.5C445.8 423.9 442.5 422.6 440.1 421.1C437.8 419.6 435.7 417.6 434.4 415.4C433.2 413.3 432.0 410.9 432.5 408.1Z" fill="#ff3000"/><path d="M444.0 408.0C444.3 406.3 445.5 403.9 446.8 402.4C448.0 400.9 449.7 400.0 451.6 399.2C453.5 398.3 456.3 397.7 458.1 397.4C460.0 397.1 461.4 397.2 463.0 397.4C464.6 397.6 466.5 398.0 467.8 398.5C469.2 399.0 470.3 399.6 471.1 400.5C471.9 401.4 472.4 402.7 472.7 403.7C473.0 404.7 472.9 405.7 472.8 406.5C472.7 407.4 472.6 407.9 472.0 408.7C471.5 409.5 470.7 410.3 469.5 411.3C468.2 412.4 466.5 414.1 464.6 415.1C462.7 416.1 460.0 417.0 458.1 417.4C456.2 417.8 454.9 417.7 453.2 417.3C451.6 417.0 449.7 416.3 448.4 415.4C447.0 414.5 445.9 413.4 445.1 412.2C444.4 410.9 443.8 409.6 444.0 408.0Z" fill="#ff0800"/></g><g fill="none" stroke="#000" stroke-width="2.6"><path d="M212.6 408.9C222.7 400.4 231.1 395.3 238.9 384.4C246.6 373.6 250.7 357.4 259.2 343.9C267.6 330.4 279.4 313.9 289.5 303.5C299.5 293.0 309.6 286.2 319.7 281.2C329.9 276.2 336.7 274.9 350.3 273.2C363.8 271.5 383.9 272.2 400.8 271.2C417.7 270.2 433.0 268.9 451.6 267.2C470.2 265.5 492.0 263.1 512.2 261.2C532.4 259.3 558.8 256.0 573.0 255.6C587.2 255.3 590.5 256.3 597.3 259.2C604.0 262.1 609.3 266.8 613.5 273.2C617.7 279.6 620.1 286.7 622.4 297.4C624.8 308.2 627.0 324.5 627.6 337.9C628.1 351.4 628.5 366.4 625.6 378.2C622.6 390.0 617.8 397.7 609.7 408.9C601.6 420.1 589.9 432.4 577.0 445.2C564.1 458.0 546.6 472.8 532.5 485.7C518.3 498.5 502.2 511.3 492.1 522.1C482.0 532.9 478.6 541.0 471.9 550.4C465.1 559.8 460.1 571.2 451.6 578.6C443.1 586.1 432.7 588.5 420.9 594.9C409.0 601.3 394.0 610.4 380.5 617.1C367.1 623.8 351.7 630.4 340.2 635.1C328.8 639.9 322.9 645.3 311.7 645.4C300.6 645.5 280.5 642.6 273.4 635.8C266.3 629.0 265.6 613.9 269.0 604.7C272.3 595.5 285.7 588.0 293.5 580.6C301.3 573.3 310.8 567.1 315.7 560.4C320.6 553.7 322.2 546.5 322.9 540.2C323.5 533.8 323.6 529.9 319.7 522.1C315.8 514.4 306.2 502.1 299.5 493.7C292.8 485.2 285.1 476.2 279.4 471.6C273.7 467.1 270.3 466.2 265.2 466.5C260.1 466.8 256.7 468.6 248.9 473.4C241.2 478.3 230.4 488.2 218.6 495.7C206.8 503.1 189.6 512.9 178.1 517.9C166.6 522.9 156.5 525.2 149.8 525.7C143.1 526.2 140.0 523.7 137.8 521.0C135.6 518.4 135.0 517.5 136.7 509.9C138.3 502.3 140.9 488.1 147.8 475.6C154.7 463.2 167.3 446.3 178.1 435.2C188.9 424.0 202.5 417.4 212.6 408.9Z"/><path d="M286.3 408.9C287.7 392.0 292.2 354.6 299.5 337.7C306.7 320.8 318.2 314.8 330.0 307.5C341.8 300.1 355.2 297.5 370.3 293.4C385.4 289.4 407.3 285.1 420.9 283.2C434.4 281.3 434.7 282.6 451.6 282.1C468.5 281.6 504.9 279.8 522.4 280.3C540.0 280.9 546.6 282.2 556.7 285.4C566.8 288.6 575.3 293.1 583.0 299.4C590.8 305.8 598.5 313.9 603.3 323.7C608.0 333.5 610.9 347.4 611.5 358.2C612.2 369.0 610.0 380.0 607.3 388.4C604.6 396.9 602.7 398.7 595.3 408.9C587.9 419.1 576.8 435.3 563.0 449.4C549.1 463.5 530.7 480.2 512.2 493.7C493.6 507.1 468.5 519.4 451.6 530.1C434.7 540.9 422.7 550.6 410.8 558.4C399.0 566.1 388.0 573.5 380.5 576.6C373.1 579.8 369.3 579.2 366.3 577.5C363.2 575.8 363.6 572.6 362.3 566.4C360.9 560.2 361.9 548.9 358.3 540.2C354.6 531.4 348.3 524.7 340.2 513.9C332.1 503.2 317.8 488.1 309.7 475.6C301.6 463.2 295.4 450.3 291.5 439.2C287.6 428.0 285.0 425.8 286.3 408.9Z"/><path d="M313.7 408.9C315.4 393.7 322.2 371.5 330.0 358.0C337.7 344.4 348.5 335.8 360.3 327.7C372.1 319.6 385.6 313.7 400.8 309.5C416.0 305.2 436.4 303.6 451.6 302.1C466.8 300.6 478.7 300.0 492.1 300.6C505.6 301.1 520.6 301.9 532.5 305.5C544.3 309.0 554.5 315.3 563.0 321.7C571.4 328.1 578.3 336.2 583.0 343.9C587.7 351.7 590.2 360.8 591.3 368.2C592.3 375.6 591.2 381.6 589.2 388.4C587.3 395.2 585.8 399.4 579.7 408.9C573.6 418.4 564.0 433.4 552.7 445.2C541.5 457.0 529.0 469.7 512.2 479.6C495.3 489.5 470.2 499.0 451.6 504.6C433.0 510.1 414.4 513.5 400.8 513.0C387.3 512.6 380.4 507.5 370.3 501.9C360.2 496.3 348.7 488.4 340.2 479.6C331.8 470.9 324.2 461.2 319.7 449.4C315.3 437.6 312.0 424.1 313.7 408.9Z"/><path d="M342.0 408.9C343.7 396.1 352.2 379.0 360.3 368.2C368.4 357.4 380.5 350.0 390.6 343.9C400.7 337.9 410.7 334.7 420.9 331.7C431.0 328.7 436.4 326.1 451.6 326.1C466.8 326.2 496.3 328.3 512.2 331.9C528.0 335.6 538.4 341.2 546.7 347.9C555.0 354.7 559.0 365.1 561.9 372.2C564.7 379.3 564.4 384.3 563.9 390.4C563.3 396.6 562.7 400.8 558.5 408.9C554.3 417.0 547.9 429.1 538.5 439.2C529.1 449.2 516.6 461.8 502.2 469.4C487.7 477.0 468.5 482.2 451.6 484.5C434.7 486.9 414.4 486.2 400.8 483.6C387.3 481.1 378.7 475.8 370.3 469.4C361.9 463.0 355.0 455.2 350.3 445.2C345.5 435.1 340.3 421.7 342.0 408.9Z"/><path d="M363.4 408.9C365.1 398.7 372.6 383.4 380.5 374.2C388.5 365.0 399.0 359.2 410.8 354.0C422.7 348.7 439.8 344.7 451.6 342.8C463.4 341.0 471.8 341.6 481.9 342.8C492.0 344.0 503.8 346.7 512.2 349.9C520.6 353.2 527.4 356.8 532.5 362.2C537.5 367.6 540.9 375.9 542.7 382.2C544.5 388.5 544.1 394.8 543.4 400.0C542.7 405.2 542.0 408.3 538.5 413.3C535.0 418.4 530.2 423.4 522.4 430.0C514.7 436.7 503.9 447.1 492.1 453.4C480.3 459.7 463.5 465.5 451.6 467.9C439.7 470.2 431.0 469.5 420.9 467.4C410.7 465.3 399.0 460.8 390.6 455.4C382.1 450.0 374.8 442.9 370.3 435.2C365.8 427.4 361.7 419.1 363.4 408.9Z"/><ellipse cx="671.0" cy="471.2" rx="54.6" ry="34.5" transform="rotate(-33 671.0 471.2)" fill="none"/><path d="M653.8 68.5C653.5 72.5 650.5 87.7 651.8 92.3C653.2 97.0 655.0 97.0 662.1 96.3C669.2 95.7 682.2 91.3 694.4 88.3C706.5 85.3 725.3 81.6 734.9 78.3C744.6 75.0 749.4 70.2 752.3 68.5"/></g><ellipse cx="229.2" cy="632.4" rx="95.6" ry="53.6" transform="rotate(-11 229.2 632.4)" fill="#ff0000"/></g><path d="M443.6 392.9 451.6 400.9 459.6 392.9 467.6 400.9 459.6 408.9 467.6 416.9 459.6 424.9 451.6 416.9 443.6 424.9 435.6 416.9 443.6 408.9 435.6 400.9Z" fill="#000" stroke="#fff" stroke-width="5" paint-order="stroke" stroke-linejoin="miter"/><text x="476.6" y="153.5" font-size="45" text-anchor="middle" fill="#000" font-family="'DejaVu Sans', 'Liberation Sans', sans-serif">(a) 1.3mm Cont (ACA)</text><rect x="694" y="520" width="5.2" height="112.5" fill="#000"/><text x="758.4" y="557.6" font-size="46" text-anchor="middle" fill="#000" transform="rotate(-90 758.4 557.6)" font-family="'DejaVu Sans', 'Liberation Sans', sans-serif">2000 AU</text><rect x="117.5" y="75.2" width="668.2" height="667.4" fill="none" stroke="#000" stroke-width="2.8"/><path d="M139.77 742.6v-7M162.05 742.6v-7M184.32 742.6v-7M206.59 742.6v-7M251.14 742.6v-7M273.41 742.6v-7M295.69 742.6v-7M317.96 742.6v-7M362.51 742.6v-7M384.78 742.6v-7M407.05 742.6v-7M429.33 742.6v-7M473.87 742.6v-7M496.15 742.6v-7M518.42 742.6v-7M540.69 742.6v-7M585.24 742.6v-7M607.51 742.6v-7M629.79 742.6v-7M652.06 742.6v-7M696.61 742.6v-7M718.88 742.6v-7M741.15 742.6v-7M763.43 742.6v-7" stroke="#000" stroke-width="1.8" fill="none"/><path d="M117.5 742.6v-18.5M228.87 742.6v-18.5M340.23 742.6v-18.5M451.6 742.6v-18.5M562.97 742.6v-18.5M674.33 742.6v-18.5M785.7 742.6v-18.5" stroke="#000" stroke-width="1.8" fill="none"/><path d="M117.5 720.35h7M117.5 698.11h7M117.5 675.86h7M117.5 653.61h7M117.5 609.12h7M117.5 586.87h7M117.5 564.63h7M117.5 542.38h7M117.5 497.89h7M117.5 475.64h7M117.5 453.39h7M117.5 431.15h7M117.5 386.65h7M117.5 364.41h7M117.5 342.16h7M117.5 319.91h7M117.5 275.42h7M117.5 253.17h7M117.5 230.93h7M117.5 208.68h7M117.5 164.19h7M117.5 141.94h7M117.5 119.69h7M117.5 97.45h7" stroke="#000" stroke-width="1.8" fill="none"/><path d="M117.5 742.6h18.5M117.5 631.37h18.5M117.5 520.13h18.5M117.5 408.9h18.5M117.5 297.67h18.5M117.5 186.43h18.5M117.5 75.2h18.5" stroke="#000" stroke-width="1.8" fill="none"/><path d="M139.77 75.2v7M162.05 75.2v7M184.32 75.2v7M206.59 75.2v7M251.14 75.2v7M273.41 75.2v7M295.69 75.2v7M317.96 75.2v7M362.51 75.2v7M384.78 75.2v7M407.05 75.2v7M429.33 75.2v7M473.87 75.2v7M496.15 75.2v7M518.42 75.2v7M540.69 75.2v7M585.24 75.2v7M607.51 75.2v7M629.79 75.2v7M652.06 75.2v7M696.61 75.2v7M718.88 75.2v7M741.15 75.2v7M763.43 75.2v7" stroke="#000" stroke-width="1.8" fill="none"/><path d="M117.5 75.2v18.5M228.87 75.2v18.5M340.23 75.2v18.5M451.6 75.2v18.5M562.97 75.2v18.5M674.33 75.2v18.5M785.7 75.2v18.5" stroke="#000" stroke-width="1.8" fill="none"/><path d="M785.7 720.35h-7M785.7 698.11h-7M785.7 675.86h-7M785.7 653.61h-7M785.7 609.12h-7M785.7 586.87h-7M785.7 564.63h-7M785.7 542.38h-7M785.7 497.89h-7M785.7 475.64h-7M785.7 453.39h-7M785.7 431.15h-7M785.7 386.65h-7M785.7 364.41h-7M785.7 342.16h-7M785.7 319.91h-7M785.7 275.42h-7M785.7 253.17h-7M785.7 230.93h-7M785.7 208.68h-7M785.7 164.19h-7M785.7 141.94h-7M785.7 119.69h-7M785.7 97.45h-7" stroke="#000" stroke-width="1.8" fill="none"/><path d="M785.7 742.6h-18.5M785.7 631.37h-18.5M785.7 520.13h-18.5M785.7 408.9h-18.5M785.7 297.67h-18.5M785.7 186.43h-18.5M785.7 75.2h-18.5" stroke="#000" stroke-width="1.8" fill="none"/><text x="228.87" y="780.4" font-size="30" text-anchor="middle" fill="#000" font-family="'DejaVu Sans', 'Liberation Sans', sans-serif">-10</text><text x="108" y="642.27" font-size="30" text-anchor="end" fill="#000" font-family="'DejaVu Sans', 'Liberation Sans', sans-serif">-10</text><text x="340.23" y="780.4" font-size="30" text-anchor="middle" fill="#000" font-family="'DejaVu Sans', 'Liberation Sans', sans-serif">-5</text><text x="108" y="531.03" font-size="30" text-anchor="end" fill="#000" font-family="'DejaVu Sans', 'Liberation Sans', sans-serif">-5</text><text x="451.6" y="780.4" font-size="30" text-anchor="middle" fill="#000" font-family="'DejaVu Sans', 'Liberation Sans', sans-serif">0</text><text x="108" y="419.8" font-size="30" text-anchor="end" fill="#000" font-family="'DejaVu Sans', 'Liberation Sans', sans-serif">0</text><text x="562.97" y="780.4" font-size="30" text-anchor="middle" fill="#000" font-family="'DejaVu Sans', 'Liberation Sans', sans-serif">5</text><text x="108" y="308.57" font-size="30" text-anchor="end" fill="#000" font-family="'DejaVu Sans', 'Liberation Sans', sans-serif">5</text><text x="674.33" y="780.4" font-size="30" text-anchor="middle" fill="#000" font-family="'DejaVu Sans', 'Liberation Sans', sans-serif">10</text><text x="108" y="197.33" font-size="30" text-anchor="end" fill="#000" font-family="'DejaVu Sans', 'Liberation Sans', sans-serif">10</text><text x="450" y="821" font-size="30" text-anchor="middle" fill="#000" font-family="'DejaVu Sans', 'Liberation Sans', sans-serif">Δ<tspan font-style="italic">α</tspan> (")</text><text x="37.4" y="411" font-size="30" text-anchor="middle" fill="#000" transform="rotate(-90 37.4 411)" font-family="'DejaVu Sans', 'Liberation Sans', sans-serif">Δ<tspan font-style="italic">δ</tspan> (")</text><rect x="786.3" y="75.2" width="15.9" height="667.4" fill="url(#cmapA)" stroke="#000" stroke-width="2.8"/><path d="M802.2 77.4h10M802.2 127.6h10M802.2 182h10M802.2 242.6h10M802.2 311h10M802.2 392.8h10M802.2 500.5h10" stroke="#000" stroke-width="1.8"/><text x="825" y="88.3" font-size="30" text-anchor="start" fill="#000" font-family="'DejaVu Sans', 'Liberation Sans', sans-serif">1400</text><text x="825" y="138.5" font-size="30" text-anchor="start" fill="#000" font-family="'DejaVu Sans', 'Liberation Sans', sans-serif">1200</text><text x="825" y="192.9" font-size="30" text-anchor="start" fill="#000" font-family="'DejaVu Sans', 'Liberation Sans', sans-serif">1000</text><text x="825" y="253.5" font-size="30" text-anchor="start" fill="#000" font-family="'DejaVu Sans', 'Liberation Sans', sans-serif">800</text><text x="825" y="321.9" font-size="30" text-anchor="start" fill="#000" font-family="'DejaVu Sans', 'Liberation Sans', sans-serif">600</text><text x="825" y="403.7" font-size="30" text-anchor="start" fill="#000" font-family="'DejaVu Sans', 'Liberation Sans', sans-serif">400</text><text x="825" y="511.4" font-size="30" text-anchor="start" fill="#000" font-family="'DejaVu Sans', 'Liberation Sans', sans-serif">200</text><text x="941" y="409" font-size="30" text-anchor="middle" fill="#000" transform="rotate(-90 941 409)" font-family="'DejaVu Sans', 'Liberation Sans', sans-serif">(mJy beam<tspan font-size="21" dy="-11.6">−1</tspan><tspan dy="11.6">)</tspan></text><g clip-path="url(#clipB)"><path d="M1078.0 652.3 1112.2 646.1 1146.4 652.3 1180.6 627.8 1214.9 637.2 1249.1 639.5 1283.3 645.1 1317.5 639.3 1351.7 647.2 1385.9 737.3 1420.2 273.3 1454.4 243.3 1488.6 689.8 1522.8 644.7 1557.0 634.3 1591.2 623.7 1625.4 626.6 1659.7 624.0 1693.9 642.6 1728.1 641.3 1762.3 636.5" fill="none" stroke="#000" stroke-width="2.1" stroke-linejoin="miter"/><path d="M1437.3 82.2V748.7" stroke="#0000ff" stroke-width="2.2" stroke-dasharray="7.4 3.2"/></g><text x="1146" y="115.5" font-size="31.5" text-anchor="middle" fill="#000" font-family="'DejaVu Sans', 'Liberation Sans', sans-serif">(b)</text><rect x="1561.8" y="97.7" width="185.2" height="54.5" rx="5" fill="#fff" fill-opacity="0.8" stroke="#cccccc" stroke-width="1.4"/><path d="M1573 123.3H1636" stroke="#000" stroke-width="2.5"/><text x="1659.5" y="132.6" font-size="31.5" text-anchor="start" fill="#000" font-family="'DejaVu Sans', 'Liberation Sans', sans-serif">C<tspan font-size="22" dy="-12">18</tspan><tspan dy="12">O</tspan></text><text x="1419" y="814" font-size="31.5" text-anchor="middle" fill="#000" font-family="'DejaVu Sans', 'Liberation Sans', sans-serif" xml:space="preserve">Velocity  (km s<tspan font-size="22" dy="-12">−1</tspan><tspan dy="12">)</tspan></text><text x="1020" y="377" font-size="31.5" text-anchor="middle" fill="#000" transform="rotate(-90 1020 377)" font-family="'DejaVu Sans', 'Liberation Sans', sans-serif">Flux (mJy beam<tspan font-size="22" dy="-12">−1</tspan><tspan dy="12">)</tspan></text><rect x="1078" y="82.2" width="684.3" height="666.5" fill="none" stroke="#000" stroke-width="1.3"/><path d="M1078 726.48h5.8M1078 704.27h5.8M1078 682.05h5.8M1078 659.83h5.8M1078 615.4h5.8M1078 593.18h5.8M1078 570.97h5.8M1078 548.75h5.8M1078 504.32h5.8M1078 482.1h5.8M1078 459.88h5.8M1078 437.67h5.8M1078 393.23h5.8M1078 371.02h5.8M1078 348.8h5.8M1078 326.58h5.8M1078 282.15h5.8M1078 259.93h5.8M1078 237.72h5.8M1078 215.5h5.8M1078 171.07h5.8M1078 148.85h5.8M1078 126.63h5.8M1078 104.42h5.8" stroke="#000" stroke-width="1.2" fill="none"/><path d="M1078 748.7h15M1078 637.62h15M1078 526.53h15M1078 415.45h15M1078 304.37h15M1078 193.28h15M1078 82.2h15" stroke="#000" stroke-width="1.2" fill="none"/><path d="M1112.21 748.7v-5.8M1146.43 748.7v-5.8M1180.64 748.7v-5.8M1214.86 748.7v-5.8M1283.29 748.7v-5.8M1317.5 748.7v-5.8M1351.72 748.7v-5.8M1385.93 748.7v-5.8M1454.37 748.7v-5.8M1488.58 748.7v-5.8M1522.8 748.7v-5.8M1557.01 748.7v-5.8M1625.44 748.7v-5.8M1659.65 748.7v-5.8M1693.87 748.7v-5.8M1728.09 748.7v-5.8" stroke="#000" stroke-width="1.2" fill="none"/><path d="M1078 748.7v-15M1249.08 748.7v-15M1420.15 748.7v-15M1591.22 748.7v-15M1762.3 748.7v-15" stroke="#000" stroke-width="1.2" fill="none"/><text x="1071" y="93.6" font-size="31.5" text-anchor="end" fill="#000" font-family="'DejaVu Sans', 'Liberation Sans', sans-serif">50</text><text x="1071" y="204.68" font-size="31.5" text-anchor="end" fill="#000" font-family="'DejaVu Sans', 'Liberation Sans', sans-serif">40</text><text x="1071" y="315.77" font-size="31.5" text-anchor="end" fill="#000" font-family="'DejaVu Sans', 'Liberation Sans', sans-serif">30</text><text x="1071" y="426.85" font-size="31.5" text-anchor="end" fill="#000" font-family="'DejaVu Sans', 'Liberation Sans', sans-serif">20</text><text x="1071" y="537.93" font-size="31.5" text-anchor="end" fill="#000" font-family="'DejaVu Sans', 'Liberation Sans', sans-serif">10</text><text x="1071" y="649.02" font-size="31.5" text-anchor="end" fill="#000" font-family="'DejaVu Sans', 'Liberation Sans', sans-serif">0</text><text x="1071" y="760.1" font-size="31.5" text-anchor="end" fill="#000" font-family="'DejaVu Sans', 'Liberation Sans', sans-serif">−10</text><text x="1074" y="778.2" font-size="31.5" text-anchor="middle" fill="#000" font-family="'DejaVu Sans', 'Liberation Sans', sans-serif">−10</text><text x="1249.08" y="778.2" font-size="31.5" text-anchor="middle" fill="#000" font-family="'DejaVu Sans', 'Liberation Sans', sans-serif">0</text><text x="1420.15" y="778.2" font-size="31.5" text-anchor="middle" fill="#000" font-family="'DejaVu Sans', 'Liberation Sans', sans-serif">10</text><text x="1591.22" y="778.2" font-size="31.5" text-anchor="middle" fill="#000" font-family="'DejaVu Sans', 'Liberation Sans', sans-serif">20</text><text x="1762.3" y="778.2" font-size="31.5" text-anchor="middle" fill="#000" font-family="'DejaVu Sans', 'Liberation Sans', sans-serif">30</text><g clip-path="url(#clipC)"><g filter="url(#blurC)"><path d="M72.1 856.8C112.3 816.7 233.0 856.8 313.4 856.8C393.8 856.8 514.5 853.5 554.7 856.8C594.9 860.1 555.3 864.8 554.7 876.8C554.1 888.9 556.0 915.5 551.3 929.0C546.7 942.5 533.9 948.8 526.5 957.7C519.2 966.6 513.6 971.4 507.1 982.5C500.6 993.5 492.6 1013.8 487.7 1023.9C482.8 1034.0 476.0 1035.9 477.6 1043.3C479.2 1050.6 491.7 1054.5 497.1 1068.0C502.4 1081.5 507.7 1110.0 509.8 1124.2C511.9 1138.3 512.2 1139.3 509.8 1152.9C507.3 1166.5 499.3 1192.7 495.0 1205.7C490.8 1218.7 485.3 1220.2 484.3 1231.1C483.3 1242.0 488.2 1255.6 489.0 1271.2C489.8 1286.8 490.9 1309.6 489.0 1324.7C487.1 1339.7 483.4 1352.0 477.6 1361.4C471.8 1370.9 463.6 1377.6 454.2 1381.5C444.7 1385.4 429.8 1387.6 420.6 1384.8C411.5 1382.0 410.4 1368.1 399.2 1364.8C388.0 1361.4 367.9 1367.6 353.6 1364.8C339.3 1362.0 326.8 1349.7 313.4 1348.1C300.0 1346.4 286.6 1351.4 273.2 1354.8C259.8 1358.1 246.4 1364.8 233.0 1368.1C219.5 1371.5 207.3 1374.8 192.7 1374.8C178.2 1374.8 159.2 1368.7 145.8 1368.1C132.4 1367.6 124.6 1370.9 112.3 1371.5C100.0 1372.0 78.8 1383.7 72.1 1371.5C65.4 1359.2 72.1 1343.6 72.1 1297.9C72.1 1252.3 72.1 1170.9 72.1 1097.4C72.1 1023.9 31.9 896.9 72.1 856.8Z" fill="#cbcbcb"/><ellipse cx="192.7" cy="1057.3" rx="36.7" ry="20.0" fill="#e6e6e6"/><ellipse cx="239.7" cy="1040.6" rx="33.4" ry="16.7" fill="#e2e2e2"/><ellipse cx="159.2" cy="1017.2" rx="26.7" ry="20.0" fill="#dadada"/><ellipse cx="273.2" cy="1003.8" rx="33.4" ry="20.0" fill="#d8d8d8"/><ellipse cx="434.0" cy="990.5" rx="33.4" ry="40.1" fill="#e0e0e0"/><ellipse cx="467.6" cy="930.3" rx="33.4" ry="26.7" fill="#dedede"/><ellipse cx="420.6" cy="1064.0" rx="23.4" ry="16.7" fill="#e4e4e4"/><ellipse cx="139.1" cy="1351.4" rx="26.7" ry="13.4" fill="#dadada"/><ellipse cx="226.3" cy="1354.8" rx="33.4" ry="13.4" fill="#dcdcdc"/><path d="M314.1 982.5C318.5 976.7 329.7 970.3 334.8 967.8C340.0 965.2 341.2 965.7 344.9 967.1C348.6 968.4 351.9 975.4 357.0 975.8C362.0 976.1 370.5 969.4 375.1 969.1C379.6 968.8 381.9 966.5 384.4 973.8C387.0 981.0 390.3 1004.4 390.5 1012.5C390.7 1020.7 388.7 1020.2 385.8 1022.6C382.9 1024.9 375.6 1023.1 373.0 1026.6C370.5 1030.0 372.8 1038.2 370.4 1043.3C367.9 1048.4 364.2 1055.6 358.3 1057.3C352.4 1059.0 339.6 1055.0 334.8 1053.3C330.0 1051.6 333.3 1049.0 329.5 1047.3C325.7 1045.6 316.6 1046.4 312.0 1043.3C307.5 1040.2 303.8 1032.7 302.0 1028.6C300.2 1024.5 300.3 1022.9 301.3 1018.5C302.3 1014.2 305.9 1008.5 308.0 1002.5C310.2 996.5 309.6 988.2 314.1 982.5Z" fill="#b2b2b2"/><path d="M186.0 944.4C190.4 942.7 201.7 950.1 208.8 950.4C216.0 950.6 223.2 948.4 228.9 945.7C234.6 943.0 238.0 937.0 243.0 934.3C248.0 931.7 253.3 929.4 259.1 929.7C264.9 929.9 273.1 932.3 277.9 935.7C282.7 939.0 289.9 946.0 287.9 949.7C285.9 953.4 272.2 955.9 265.8 957.7C259.4 959.5 255.2 959.1 249.7 960.4C244.2 961.7 239.1 963.9 233.0 965.7C226.8 967.6 219.7 970.8 212.8 971.8C206.0 972.8 197.1 973.7 192.1 971.8C187.0 969.9 183.7 965.0 182.7 960.4C181.7 955.8 181.7 946.0 186.0 944.4Z" fill="#bdbdbd"/><path d="M108.9 1106.1C113.5 1072.2 129.4 1102.3 136.4 1102.8C143.5 1103.2 145.0 1109.7 151.2 1108.8C157.3 1107.9 166.9 1098.5 173.3 1097.4C179.7 1096.3 183.9 1102.1 189.4 1102.1C194.9 1102.1 200.0 1097.4 206.1 1097.4C212.3 1097.4 219.9 1099.6 226.3 1102.1C232.6 1104.5 237.5 1109.8 244.3 1112.1C251.2 1114.5 258.6 1115.7 267.1 1116.1C275.6 1116.6 287.1 1117.0 295.3 1114.8C303.4 1112.6 309.3 1105.4 316.1 1102.8C322.9 1100.1 329.5 1099.4 336.2 1098.8C342.9 1098.1 350.8 1096.8 356.3 1098.8C361.8 1100.8 363.9 1109.6 369.0 1110.8C374.2 1112.0 382.4 1105.2 387.1 1106.1C391.8 1107.0 396.1 1112.9 397.2 1116.1C398.3 1119.4 393.2 1123.8 393.8 1125.5C394.5 1127.2 399.3 1127.7 401.2 1126.2C403.1 1124.6 402.5 1118.8 405.2 1116.1C407.9 1113.5 413.5 1111.1 417.3 1110.1C421.1 1109.1 424.5 1111.8 428.0 1110.1C431.5 1108.4 434.8 1104.4 438.1 1100.1C441.3 1095.7 444.9 1087.8 447.5 1084.1C450.0 1080.3 451.5 1079.5 453.5 1077.4C455.5 1075.3 457.4 1072.7 459.5 1071.4C461.6 1070.0 462.6 1068.7 466.2 1069.3C469.8 1070.0 476.2 1068.7 481.0 1075.4C485.8 1082.0 492.9 1096.6 495.0 1109.5C497.2 1122.3 496.0 1138.1 493.7 1152.2C491.4 1166.4 486.7 1183.8 481.0 1194.3C475.3 1204.9 466.0 1210.9 459.5 1215.7C453.0 1220.5 443.1 1219.7 442.1 1223.1C441.1 1226.4 449.5 1232.5 453.5 1235.8C457.5 1239.0 462.6 1236.3 466.2 1242.5C469.8 1248.6 473.5 1260.4 474.9 1272.5C476.4 1284.7 477.1 1302.3 474.9 1315.3C472.8 1328.4 468.3 1341.4 462.2 1350.7C456.1 1360.1 444.8 1367.0 438.1 1371.5C431.4 1375.9 427.7 1377.3 422.0 1377.5C416.3 1377.7 407.6 1378.9 403.9 1372.8C400.2 1366.7 402.5 1348.1 399.9 1340.7C397.2 1333.4 391.5 1333.5 387.8 1328.7C384.1 1323.9 380.1 1317.9 377.7 1312.0C375.4 1306.1 378.2 1296.0 373.7 1293.3C369.2 1290.5 356.1 1297.0 350.9 1295.3C345.8 1293.5 348.2 1281.9 342.9 1282.6C337.5 1283.2 325.2 1296.0 318.8 1299.3C312.3 1302.5 309.5 1299.9 304.0 1302.0C298.5 1304.0 290.9 1311.4 285.9 1311.3C280.9 1311.2 279.3 1302.3 273.8 1301.3C268.4 1300.3 259.9 1305.5 253.1 1305.3C246.2 1305.1 243.1 1300.5 233.0 1299.9C222.8 1299.4 203.9 1300.1 192.1 1302.0C180.2 1303.8 171.7 1309.1 161.9 1311.3C152.1 1313.5 141.9 1316.2 133.1 1315.3C124.3 1314.4 113.0 1340.8 108.9 1306.0C104.9 1271.1 104.4 1140.0 108.9 1106.1Z" fill="#aaaaaa"/><path d="M161.9 1271.9C163.6 1267.8 172.2 1261.3 182.0 1259.2C191.8 1257.1 213.1 1260.5 220.9 1259.2C228.7 1257.8 229.3 1254.8 228.9 1251.2C228.6 1247.5 219.5 1240.5 218.9 1237.1C218.2 1233.8 221.6 1232.4 224.9 1231.1C228.3 1229.8 233.6 1233.8 239.0 1229.1C244.3 1224.4 252.3 1207.0 257.1 1203.0C261.9 1199.0 265.0 1206.5 267.8 1205.0C270.6 1203.6 267.8 1196.5 273.8 1194.3C279.9 1192.2 297.3 1191.8 304.0 1192.3C310.7 1192.9 311.3 1198.8 314.1 1197.7C316.9 1196.6 318.2 1186.5 320.8 1185.6C323.3 1184.8 329.1 1190.0 329.5 1192.3C329.8 1194.7 326.0 1196.6 322.8 1199.7C319.5 1202.8 313.5 1205.8 310.0 1211.0C306.6 1216.3 302.7 1225.8 302.0 1231.1C301.3 1236.4 303.7 1240.1 306.0 1243.1C308.4 1246.1 315.1 1246.7 316.1 1249.1C317.1 1251.6 315.1 1257.3 312.0 1257.8C309.0 1258.4 304.3 1251.2 298.0 1252.5C291.6 1253.8 282.7 1262.0 273.8 1265.9C265.0 1269.8 251.8 1274.9 245.0 1275.9C238.2 1276.9 240.1 1270.8 233.0 1271.9C225.8 1273.0 212.3 1280.6 202.1 1282.6C192.0 1284.6 178.7 1285.7 172.0 1283.9C165.3 1282.1 160.2 1276.0 161.9 1271.9Z" fill="#9a9a9a"/><ellipse cx="296.6" cy="1154.2" rx="24.7" ry="13.4" transform="rotate(-8 296.6 1154.2)" fill="#9c9c9c"/></g><g mask="url(#maskC)"><rect x="112.3" y="896.9" width="670.3000000000001" height="668.4" filter="url(#mottleC)"/></g><g filter="url(#blurC2)"><path d="M466.2 1069.3C469.9 1070.0 476.2 1068.7 481.0 1075.4C485.8 1082.0 492.9 1096.6 495.0 1109.5C497.2 1122.3 496.0 1138.1 493.7 1152.2C491.4 1166.4 486.7 1183.8 481.0 1194.3C475.3 1204.9 466.0 1211.8 459.5 1215.7C453.0 1219.6 446.9 1219.6 442.1 1217.7C437.3 1215.8 433.5 1212.9 430.7 1204.4C427.9 1195.8 424.5 1179.2 425.3 1166.3C426.1 1153.3 430.9 1141.0 435.4 1126.8C439.9 1112.7 448.2 1090.6 452.1 1081.4C456.1 1072.1 456.5 1073.4 458.8 1071.4C461.2 1069.3 462.5 1068.7 466.2 1069.3Z" fill="#929292"/><path d="M463.5 1076.0C468.0 1075.4 474.5 1078.9 479.0 1084.1C483.4 1089.2 488.8 1096.6 490.3 1106.8C491.9 1116.9 490.8 1131.1 488.3 1144.9C485.9 1158.7 481.0 1178.7 475.6 1189.7C470.2 1200.6 462.4 1206.6 456.2 1210.4C449.9 1214.2 442.2 1215.1 438.1 1212.4C433.9 1209.7 432.8 1202.7 431.4 1194.3C429.9 1186.0 428.0 1174.1 429.4 1162.3C430.7 1150.4 435.6 1135.9 439.4 1123.5C443.2 1111.1 448.1 1096.0 452.1 1088.1C456.2 1080.2 459.1 1076.7 463.5 1076.0Z" fill="#787878"/><path d="M463.7 1089.9C465.0 1089.0 466.5 1088.7 467.8 1089.3C469.1 1089.8 470.4 1091.7 471.5 1093.1C472.6 1094.5 473.7 1095.9 474.6 1097.6C475.5 1099.2 476.1 1101.1 476.8 1102.9C477.5 1104.6 478.3 1106.4 479.0 1108.2C479.7 1109.9 480.7 1111.7 481.2 1113.5C481.7 1115.3 481.8 1117.2 481.8 1119.1C481.9 1121.0 481.7 1122.9 481.6 1124.8C481.6 1126.8 481.5 1128.7 481.4 1130.6C481.4 1132.5 481.3 1134.4 481.2 1136.4C481.1 1138.3 481.1 1140.2 481.0 1142.1C480.9 1144.0 481.0 1146.0 480.8 1147.9C480.6 1149.8 480.3 1151.7 480.0 1153.5C479.7 1155.4 479.3 1157.3 479.0 1159.2C478.7 1161.1 478.4 1162.9 478.1 1164.8C477.8 1166.7 477.5 1168.6 477.1 1170.5C476.8 1172.3 476.3 1174.2 475.8 1176.0C475.2 1177.9 474.6 1179.7 474.0 1181.5C473.5 1183.4 473.1 1185.3 472.3 1187.0C471.5 1188.7 470.4 1190.3 469.4 1191.9C468.4 1193.4 467.3 1195.0 466.3 1196.6C465.3 1198.2 464.3 1199.8 463.2 1201.3C462.0 1202.8 460.9 1204.3 459.4 1205.3C457.9 1206.3 456.0 1206.7 454.2 1207.2C452.4 1207.6 450.4 1208.0 448.5 1208.2C446.7 1208.4 444.5 1209.2 443.2 1208.4C441.8 1207.7 441.3 1205.4 440.4 1203.7C439.5 1202.1 438.6 1200.3 437.9 1198.6C437.2 1196.8 436.5 1195.0 436.1 1193.2C435.8 1191.3 436.0 1189.4 436.0 1187.4C435.9 1185.5 435.9 1183.6 435.9 1181.7C435.8 1179.8 435.8 1177.8 435.8 1175.9C435.7 1174.0 435.7 1172.1 435.6 1170.2C435.6 1168.2 435.5 1166.3 435.7 1164.4C435.8 1162.5 436.3 1160.6 436.6 1158.8C436.9 1156.9 437.2 1155.0 437.7 1153.1C438.1 1151.3 438.7 1149.4 439.3 1147.6C439.8 1145.7 440.3 1143.9 440.9 1142.0C441.4 1140.2 441.9 1138.3 442.4 1136.5C443.0 1134.7 443.5 1132.8 444.1 1131.0C444.6 1129.1 445.3 1127.3 445.9 1125.5C446.6 1123.7 447.2 1121.9 447.8 1120.1C448.4 1118.2 449.0 1116.4 449.7 1114.6C450.3 1112.8 451.0 1111.0 451.8 1109.3C452.5 1107.5 453.2 1105.7 454.0 1104.0C454.9 1102.3 455.8 1100.6 456.9 1099.0C457.9 1097.4 459.2 1096.0 460.3 1094.5C461.5 1092.9 462.5 1090.7 463.7 1089.9Z" fill="#5a5a5a"/><path d="M466.2 1099.4C469.6 1099.4 472.5 1111.1 473.6 1123.5C474.7 1135.9 474.7 1160.6 472.9 1173.6C471.1 1186.7 467.0 1196.3 462.9 1201.7C458.7 1207.0 451.8 1206.9 448.1 1205.7C444.4 1204.5 441.8 1202.1 440.7 1194.3C439.7 1186.5 440.0 1170.7 442.1 1158.9C444.2 1147.1 449.5 1133.4 453.5 1123.5C457.5 1113.6 462.9 1099.4 466.2 1099.4Z" fill="#3a3a3a"/><path d="M463.3 1122.7C465.3 1122.7 467.0 1129.7 467.7 1137.1C468.4 1144.5 468.4 1159.4 467.3 1167.2C466.2 1175.0 463.7 1180.8 461.3 1184.0C458.8 1187.3 454.6 1187.2 452.4 1186.5C450.2 1185.7 448.6 1184.3 448.0 1179.6C447.4 1175.0 447.5 1165.5 448.8 1158.4C450.1 1151.3 453.2 1143.1 455.6 1137.1C458.0 1131.2 461.3 1122.7 463.3 1122.7Z" fill="#1a1a1a"/><path d="M461.5 1144.8C462.5 1144.8 463.4 1148.3 463.7 1152.0C464.1 1155.7 464.1 1163.2 463.5 1167.1C463.0 1171.0 461.8 1173.9 460.5 1175.5C459.3 1177.1 457.2 1177.1 456.1 1176.7C455.0 1176.3 454.2 1175.6 453.9 1173.3C453.6 1170.9 453.7 1166.2 454.3 1162.7C454.9 1159.1 456.5 1155.0 457.7 1152.0C458.9 1149.1 460.5 1144.8 461.5 1144.8Z" fill="#080808"/><path d="M445.4 1243.1C451.0 1243.4 461.7 1241.2 466.2 1248.5C470.7 1255.7 471.7 1272.9 472.3 1286.6C472.8 1300.3 472.9 1319.4 469.6 1330.7C466.2 1341.9 459.2 1349.7 452.1 1354.1C445.1 1358.4 434.3 1359.7 427.3 1356.8C420.4 1353.9 413.9 1346.1 410.6 1336.7C407.2 1327.3 405.9 1312.6 407.2 1300.6C408.6 1288.6 414.4 1273.4 418.6 1264.5C422.9 1255.6 428.2 1250.7 432.7 1247.1C437.2 1243.6 439.9 1242.9 445.4 1243.1Z" fill="#7a7a7a"/><path d="M445.4 1250.1C446.9 1250.0 448.6 1251.1 450.1 1251.6C451.7 1252.0 453.3 1252.5 454.8 1253.0C456.4 1253.4 458.4 1253.5 459.5 1254.4C460.7 1255.2 461.2 1256.6 461.6 1258.0C462.1 1259.4 462.1 1261.2 462.3 1262.8C462.6 1264.5 462.8 1266.1 463.0 1267.7C463.3 1269.3 463.5 1270.9 463.7 1272.5C464.0 1274.2 464.2 1275.8 464.4 1277.4C464.7 1279.0 464.9 1280.6 465.2 1282.3C465.4 1283.9 465.6 1285.5 465.7 1287.1C465.8 1288.8 465.7 1290.4 465.8 1292.0C465.8 1293.6 465.9 1295.3 465.8 1296.9C465.7 1298.5 465.5 1300.2 465.4 1301.8C465.2 1303.4 465.1 1305.0 464.9 1306.7C464.8 1308.3 464.6 1309.9 464.5 1311.6C464.3 1313.2 464.2 1314.8 464.0 1316.4C463.9 1318.1 464.0 1319.8 463.6 1321.3C463.2 1322.9 462.2 1324.2 461.5 1325.6C460.8 1327.0 460.1 1328.5 459.4 1329.9C458.7 1331.3 458.0 1332.7 457.0 1334.0C456.0 1335.3 454.8 1336.4 453.7 1337.5C452.5 1338.6 451.4 1339.8 450.0 1340.5C448.7 1341.3 447.0 1341.5 445.5 1341.9C444.0 1342.4 442.5 1343.0 440.9 1343.3C439.4 1343.6 437.8 1343.8 436.3 1343.6C434.8 1343.5 433.2 1343.3 431.8 1342.6C430.5 1341.9 429.4 1340.5 428.2 1339.4C427.1 1338.4 425.7 1337.4 424.7 1336.2C423.8 1334.9 423.3 1333.4 422.6 1332.0C421.9 1330.6 420.9 1329.3 420.4 1327.8C419.9 1326.3 420.0 1324.6 419.8 1323.0C419.6 1321.4 419.5 1319.7 419.3 1318.1C419.2 1316.5 419.0 1314.8 418.8 1313.2C418.7 1311.6 418.5 1309.9 418.4 1308.3C418.2 1306.7 418.0 1305.1 418.0 1303.4C417.9 1301.8 417.8 1300.2 418.0 1298.6C418.2 1297.0 418.9 1295.4 419.3 1293.8C419.7 1292.3 420.2 1290.7 420.6 1289.1C421.0 1287.5 421.4 1286.0 421.9 1284.4C422.3 1282.8 422.7 1281.2 423.1 1279.6C423.6 1278.1 424.0 1276.5 424.4 1274.9C424.8 1273.3 425.1 1271.7 425.7 1270.2C426.3 1268.7 427.0 1267.3 427.8 1265.9C428.6 1264.5 429.6 1263.3 430.6 1262.0C431.6 1260.7 432.7 1259.4 433.8 1258.2C434.9 1257.0 435.9 1255.7 437.1 1254.7C438.4 1253.8 439.9 1253.2 441.3 1252.4C442.7 1251.7 444.0 1250.3 445.4 1250.1Z" fill="#585858"/><path d="M445.4 1257.2C449.1 1255.7 453.7 1255.1 456.2 1261.2C458.6 1267.3 460.2 1283.8 460.2 1293.9C460.2 1304.1 459.2 1315.7 456.2 1322.0C453.1 1328.4 446.3 1331.4 442.1 1332.0C437.8 1332.7 433.0 1331.2 430.7 1326.0C428.3 1320.8 427.5 1310.0 428.0 1300.6C428.6 1291.3 431.1 1277.1 434.0 1269.9C436.9 1262.6 441.8 1258.6 445.4 1257.2Z" fill="#383838"/><path d="M444.9 1272.1C447.1 1271.3 449.9 1270.9 451.3 1274.5C452.8 1278.2 453.8 1288.1 453.8 1294.2C453.8 1300.3 453.1 1307.2 451.3 1311.0C449.5 1314.9 445.4 1316.7 442.9 1317.1C440.3 1317.5 437.5 1316.6 436.1 1313.4C434.6 1310.3 434.1 1303.8 434.4 1298.2C434.8 1292.6 436.3 1284.1 438.1 1279.8C439.8 1275.4 442.7 1273.0 444.9 1272.1Z" fill="#151515"/><path d="M444.5 1281.0C445.6 1280.6 447.0 1280.4 447.7 1282.2C448.5 1284.1 448.9 1289.0 448.9 1292.1C448.9 1295.1 448.6 1298.6 447.7 1300.5C446.8 1302.4 444.8 1303.3 443.5 1303.5C442.2 1303.7 440.8 1303.3 440.1 1301.7C439.4 1300.1 439.1 1296.9 439.3 1294.1C439.4 1291.3 440.2 1287.0 441.1 1284.8C442.0 1282.7 443.4 1281.5 444.5 1281.0Z" fill="#050505"/></g><g fill="none" stroke="#000" stroke-width="2.4"><path d="M108.9 1106.1C113.5 1105.6 129.4 1102.3 136.4 1102.8C143.5 1103.2 145.0 1109.7 151.2 1108.8C157.3 1107.9 166.9 1098.5 173.3 1097.4C179.7 1096.3 183.9 1102.1 189.4 1102.1C194.9 1102.1 200.0 1097.4 206.1 1097.4C212.3 1097.4 219.9 1099.6 226.3 1102.1C232.6 1104.5 237.5 1109.8 244.3 1112.1C251.2 1114.5 258.6 1115.7 267.1 1116.1C275.6 1116.6 287.1 1117.0 295.3 1114.8C303.4 1112.6 309.3 1105.4 316.1 1102.8C322.9 1100.1 329.5 1099.4 336.2 1098.8C342.9 1098.1 350.8 1096.8 356.3 1098.8C361.8 1100.8 363.9 1109.6 369.0 1110.8C374.2 1112.0 382.4 1105.2 387.1 1106.1C391.8 1107.0 396.1 1112.9 397.2 1116.1C398.3 1119.4 393.2 1123.8 393.8 1125.5C394.5 1127.2 399.3 1127.7 401.2 1126.2C403.1 1124.6 402.5 1118.8 405.2 1116.1C407.9 1113.5 413.5 1111.1 417.3 1110.1C421.1 1109.1 424.5 1111.8 428.0 1110.1C431.5 1108.4 434.8 1104.4 438.1 1100.1C441.3 1095.7 444.9 1087.8 447.5 1084.1C450.0 1080.3 451.5 1079.5 453.5 1077.4C455.5 1075.3 457.4 1072.7 459.5 1071.4C461.6 1070.0 462.6 1068.7 466.2 1069.3C469.8 1070.0 476.2 1068.7 481.0 1075.4C485.8 1082.0 492.9 1096.6 495.0 1109.5C497.2 1122.3 496.0 1138.1 493.7 1152.2C491.4 1166.4 486.7 1183.8 481.0 1194.3C475.3 1204.9 466.0 1210.9 459.5 1215.7C453.0 1220.5 443.1 1219.7 442.1 1223.1C441.1 1226.4 449.5 1232.5 453.5 1235.8C457.5 1239.0 462.6 1236.3 466.2 1242.5C469.8 1248.6 473.5 1260.4 474.9 1272.5C476.4 1284.7 477.1 1302.3 474.9 1315.3C472.8 1328.4 468.3 1341.4 462.2 1350.7C456.1 1360.1 444.8 1367.0 438.1 1371.5C431.4 1375.9 427.7 1377.3 422.0 1377.5C416.3 1377.7 407.6 1378.9 403.9 1372.8C400.2 1366.7 402.5 1348.1 399.9 1340.7C397.2 1333.4 391.5 1333.5 387.8 1328.7C384.1 1323.9 380.1 1317.9 377.7 1312.0C375.4 1306.1 378.2 1296.0 373.7 1293.3C369.2 1290.5 356.1 1297.0 350.9 1295.3C345.8 1293.5 348.2 1281.9 342.9 1282.6C337.5 1283.2 325.2 1296.0 318.8 1299.3C312.3 1302.5 309.5 1299.9 304.0 1302.0C298.5 1304.0 290.9 1311.4 285.9 1311.3C280.9 1311.2 279.3 1302.3 273.8 1301.3C268.4 1300.3 259.9 1305.5 253.1 1305.3C246.2 1305.1 243.1 1300.5 233.0 1299.9C222.8 1299.4 203.9 1300.1 192.1 1302.0C180.2 1303.8 171.7 1309.1 161.9 1311.3C152.1 1313.5 141.9 1316.2 133.1 1315.3C124.3 1314.4 113.0 1307.5 108.9 1306.0"/><path d="M161.9 1271.9C163.6 1267.8 172.2 1261.3 182.0 1259.2C191.8 1257.1 213.1 1260.5 220.9 1259.2C228.7 1257.8 229.3 1254.8 228.9 1251.2C228.6 1247.5 219.5 1240.5 218.9 1237.1C218.2 1233.8 221.6 1232.4 224.9 1231.1C228.3 1229.8 233.6 1233.8 239.0 1229.1C244.3 1224.4 252.3 1207.0 257.1 1203.0C261.9 1199.0 265.0 1206.5 267.8 1205.0C270.6 1203.6 267.8 1196.5 273.8 1194.3C279.9 1192.2 297.3 1191.8 304.0 1192.3C310.7 1192.9 311.3 1198.8 314.1 1197.7C316.9 1196.6 318.2 1186.5 320.8 1185.6C323.3 1184.8 329.1 1190.0 329.5 1192.3C329.8 1194.7 326.0 1196.6 322.8 1199.7C319.5 1202.8 313.5 1205.8 310.0 1211.0C306.6 1216.3 302.7 1225.8 302.0 1231.1C301.3 1236.4 303.7 1240.1 306.0 1243.1C308.4 1246.1 315.1 1246.7 316.1 1249.1C317.1 1251.6 315.1 1257.3 312.0 1257.8C309.0 1258.4 304.3 1251.2 298.0 1252.5C291.6 1253.8 282.7 1262.0 273.8 1265.9C265.0 1269.8 251.8 1274.9 245.0 1275.9C238.2 1276.9 240.1 1270.8 233.0 1271.9C225.8 1273.0 212.3 1280.6 202.1 1282.6C192.0 1284.6 178.7 1285.7 172.0 1283.9C165.3 1282.1 160.2 1276.0 161.9 1271.9Z"/><path d="M314.1 982.5C318.5 976.7 329.7 970.3 334.8 967.8C340.0 965.2 341.2 965.7 344.9 967.1C348.6 968.4 351.9 975.4 357.0 975.8C362.0 976.1 370.5 969.4 375.1 969.1C379.6 968.8 381.9 966.5 384.4 973.8C387.0 981.0 390.3 1004.4 390.5 1012.5C390.7 1020.7 388.7 1020.2 385.8 1022.6C382.9 1024.9 375.6 1023.1 373.0 1026.6C370.5 1030.0 372.8 1038.2 370.4 1043.3C367.9 1048.4 364.2 1055.6 358.3 1057.3C352.4 1059.0 339.6 1055.0 334.8 1053.3C330.0 1051.6 333.3 1049.0 329.5 1047.3C325.7 1045.6 316.6 1046.4 312.0 1043.3C307.5 1040.2 303.8 1032.7 302.0 1028.6C300.2 1024.5 300.3 1022.9 301.3 1018.5C302.3 1014.2 305.9 1008.5 308.0 1002.5C310.2 996.5 309.6 988.2 314.1 982.5Z"/><path d="M186.0 944.4C190.4 942.7 201.7 950.1 208.8 950.4C216.0 950.6 223.2 948.4 228.9 945.7C234.6 943.0 238.0 937.0 243.0 934.3C248.0 931.7 253.3 929.4 259.1 929.7C264.9 929.9 273.1 932.3 277.9 935.7C282.7 939.0 289.9 946.0 287.9 949.7C285.9 953.4 272.2 955.9 265.8 957.7C259.4 959.5 255.2 959.1 249.7 960.4C244.2 961.7 239.1 963.9 233.0 965.7C226.8 967.6 219.7 970.8 212.8 971.8C206.0 972.8 197.1 973.7 192.1 971.8C187.0 969.9 183.7 965.0 182.7 960.4C181.7 955.8 181.7 946.0 186.0 944.4Z"/><path d="M466.2 1069.3C469.9 1070.0 476.2 1068.7 481.0 1075.4C485.8 1082.0 492.9 1096.6 495.0 1109.5C497.2 1122.3 496.0 1138.1 493.7 1152.2C491.4 1166.4 486.7 1183.8 481.0 1194.3C475.3 1204.9 466.0 1211.8 459.5 1215.7C453.0 1219.6 446.9 1219.6 442.1 1217.7C437.3 1215.8 433.5 1212.9 430.7 1204.4C427.9 1195.8 424.5 1179.2 425.3 1166.3C426.1 1153.3 430.9 1141.0 435.4 1126.8C439.9 1112.7 448.2 1090.6 452.1 1081.4C456.1 1072.1 456.5 1073.4 458.8 1071.4C461.2 1069.3 462.5 1068.7 466.2 1069.3Z"/><path d="M463.5 1076.0C468.0 1075.4 474.5 1078.9 479.0 1084.1C483.4 1089.2 488.8 1096.6 490.3 1106.8C491.9 1116.9 490.8 1131.1 488.3 1144.9C485.9 1158.7 481.0 1178.7 475.6 1189.7C470.2 1200.6 462.4 1206.6 456.2 1210.4C449.9 1214.2 442.2 1215.1 438.1 1212.4C433.9 1209.7 432.8 1202.7 431.4 1194.3C429.9 1186.0 428.0 1174.1 429.4 1162.3C430.7 1150.4 435.6 1135.9 439.4 1123.5C443.2 1111.1 448.1 1096.0 452.1 1088.1C456.2 1080.2 459.1 1076.7 463.5 1076.0Z"/><path d="M466.2 1099.4C469.6 1099.4 472.5 1111.1 473.6 1123.5C474.7 1135.9 474.7 1160.6 472.9 1173.6C471.1 1186.7 467.0 1196.3 462.9 1201.7C458.7 1207.0 451.8 1206.9 448.1 1205.7C444.4 1204.5 441.8 1202.1 440.7 1194.3C439.7 1186.5 440.0 1170.7 442.1 1158.9C444.2 1147.1 449.5 1133.4 453.5 1123.5C457.5 1113.6 462.9 1099.4 466.2 1099.4Z"/><path d="M445.4 1243.1C451.0 1243.4 461.7 1241.2 466.2 1248.5C470.7 1255.7 471.7 1272.9 472.3 1286.6C472.8 1300.3 472.9 1319.4 469.6 1330.7C466.2 1341.9 459.2 1349.7 452.1 1354.1C445.1 1358.4 434.3 1359.7 427.3 1356.8C420.4 1353.9 413.9 1346.1 410.6 1336.7C407.2 1327.3 405.9 1312.6 407.2 1300.6C408.6 1288.6 414.4 1273.4 418.6 1264.5C422.9 1255.6 428.2 1250.7 432.7 1247.1C437.2 1243.6 439.9 1242.9 445.4 1243.1Z"/><path d="M445.4 1257.2C449.1 1255.7 453.7 1255.1 456.2 1261.2C458.6 1267.3 460.2 1283.8 460.2 1293.9C460.2 1304.1 459.2 1315.7 456.2 1322.0C453.1 1328.4 446.3 1331.4 442.1 1332.0C437.8 1332.7 433.0 1331.2 430.7 1326.0C428.3 1320.8 427.5 1310.0 428.0 1300.6C428.6 1291.3 431.1 1277.1 434.0 1269.9C436.9 1262.6 441.8 1258.6 445.4 1257.2Z"/><path d="M463.7 1089.9C465.0 1089.0 466.5 1088.7 467.8 1089.3C469.1 1089.8 470.4 1091.7 471.5 1093.1C472.6 1094.5 473.7 1095.9 474.6 1097.6C475.5 1099.2 476.1 1101.1 476.8 1102.9C477.5 1104.6 478.3 1106.4 479.0 1108.2C479.7 1109.9 480.7 1111.7 481.2 1113.5C481.7 1115.3 481.8 1117.2 481.8 1119.1C481.9 1121.0 481.7 1122.9 481.6 1124.8C481.6 1126.8 481.5 1128.7 481.4 1130.6C481.4 1132.5 481.3 1134.4 481.2 1136.4C481.1 1138.3 481.1 1140.2 481.0 1142.1C480.9 1144.0 481.0 1146.0 480.8 1147.9C480.6 1149.8 480.3 1151.7 480.0 1153.5C479.7 1155.4 479.3 1157.3 479.0 1159.2C478.7 1161.1 478.4 1162.9 478.1 1164.8C477.8 1166.7 477.5 1168.6 477.1 1170.5C476.8 1172.3 476.3 1174.2 475.8 1176.0C475.2 1177.9 474.6 1179.7 474.0 1181.5C473.5 1183.4 473.1 1185.3 472.3 1187.0C471.5 1188.7 470.4 1190.3 469.4 1191.9C468.4 1193.4 467.3 1195.0 466.3 1196.6C465.3 1198.2 464.3 1199.8 463.2 1201.3C462.0 1202.8 460.9 1204.3 459.4 1205.3C457.9 1206.3 456.0 1206.7 454.2 1207.2C452.4 1207.6 450.4 1208.0 448.5 1208.2C446.7 1208.4 444.5 1209.2 443.2 1208.4C441.8 1207.7 441.3 1205.4 440.4 1203.7C439.5 1202.1 438.6 1200.3 437.9 1198.6C437.2 1196.8 436.5 1195.0 436.1 1193.2C435.8 1191.3 436.0 1189.4 436.0 1187.4C435.9 1185.5 435.9 1183.6 435.9 1181.7C435.8 1179.8 435.8 1177.8 435.8 1175.9C435.7 1174.0 435.7 1172.1 435.6 1170.2C435.6 1168.2 435.5 1166.3 435.7 1164.4C435.8 1162.5 436.3 1160.6 436.6 1158.8C436.9 1156.9 437.2 1155.0 437.7 1153.1C438.1 1151.3 438.7 1149.4 439.3 1147.6C439.8 1145.7 440.3 1143.9 440.9 1142.0C441.4 1140.2 441.9 1138.3 442.4 1136.5C443.0 1134.7 443.5 1132.8 444.1 1131.0C444.6 1129.1 445.3 1127.3 445.9 1125.5C446.6 1123.7 447.2 1121.9 447.8 1120.1C448.4 1118.2 449.0 1116.4 449.7 1114.6C450.3 1112.8 451.0 1111.0 451.8 1109.3C452.5 1107.5 453.2 1105.7 454.0 1104.0C454.9 1102.3 455.8 1100.6 456.9 1099.0C457.9 1097.4 459.2 1096.0 460.3 1094.5C461.5 1092.9 462.5 1090.7 463.7 1089.9Z"/><path d="M445.4 1250.1C446.9 1250.0 448.6 1251.1 450.1 1251.6C451.7 1252.0 453.3 1252.5 454.8 1253.0C456.4 1253.4 458.4 1253.5 459.5 1254.4C460.7 1255.2 461.2 1256.6 461.6 1258.0C462.1 1259.4 462.1 1261.2 462.3 1262.8C462.6 1264.5 462.8 1266.1 463.0 1267.7C463.3 1269.3 463.5 1270.9 463.7 1272.5C464.0 1274.2 464.2 1275.8 464.4 1277.4C464.7 1279.0 464.9 1280.6 465.2 1282.3C465.4 1283.9 465.6 1285.5 465.7 1287.1C465.8 1288.8 465.7 1290.4 465.8 1292.0C465.8 1293.6 465.9 1295.3 465.8 1296.9C465.7 1298.5 465.5 1300.2 465.4 1301.8C465.2 1303.4 465.1 1305.0 464.9 1306.7C464.8 1308.3 464.6 1309.9 464.5 1311.6C464.3 1313.2 464.2 1314.8 464.0 1316.4C463.9 1318.1 464.0 1319.8 463.6 1321.3C463.2 1322.9 462.2 1324.2 461.5 1325.6C460.8 1327.0 460.1 1328.5 459.4 1329.9C458.7 1331.3 458.0 1332.7 457.0 1334.0C456.0 1335.3 454.8 1336.4 453.7 1337.5C452.5 1338.6 451.4 1339.8 450.0 1340.5C448.7 1341.3 447.0 1341.5 445.5 1341.9C444.0 1342.4 442.5 1343.0 440.9 1343.3C439.4 1343.6 437.8 1343.8 436.3 1343.6C434.8 1343.5 433.2 1343.3 431.8 1342.6C430.5 1341.9 429.4 1340.5 428.2 1339.4C427.1 1338.4 425.7 1337.4 424.7 1336.2C423.8 1334.9 423.3 1333.4 422.6 1332.0C421.9 1330.6 420.9 1329.3 420.4 1327.8C419.9 1326.3 420.0 1324.6 419.8 1323.0C419.6 1321.4 419.5 1319.7 419.3 1318.1C419.2 1316.5 419.0 1314.8 418.8 1313.2C418.7 1311.6 418.5 1309.9 418.4 1308.3C418.2 1306.7 418.0 1305.1 418.0 1303.4C417.9 1301.8 417.8 1300.2 418.0 1298.6C418.2 1297.0 418.9 1295.4 419.3 1293.8C419.7 1292.3 420.2 1290.7 420.6 1289.1C421.0 1287.5 421.4 1286.0 421.9 1284.4C422.3 1282.8 422.7 1281.2 423.1 1279.6C423.6 1278.1 424.0 1276.5 424.4 1274.9C424.8 1273.3 425.1 1271.7 425.7 1270.2C426.3 1268.7 427.0 1267.3 427.8 1265.9C428.6 1264.5 429.6 1263.3 430.6 1262.0C431.6 1260.7 432.7 1259.4 433.8 1258.2C434.9 1257.0 435.9 1255.7 437.1 1254.7C438.4 1253.8 439.9 1253.2 441.3 1252.4C442.7 1251.7 444.0 1250.3 445.4 1250.1Z"/><ellipse cx="296.6" cy="1154.2" rx="24.7" ry="13.4" transform="rotate(-8 296.6 1154.2)"/><ellipse cx="171.3" cy="924.3" rx="10.0" ry="9.4" transform="rotate(0 171.3 924.3)"/><ellipse cx="222.9" cy="930.3" rx="4.7" ry="14.0" transform="rotate(-20 222.9 930.3)"/><ellipse cx="338.9" cy="950.4" rx="6.7" ry="5.0" transform="rotate(0 338.9 950.4)"/><ellipse cx="372.4" cy="1087.4" rx="8.0" ry="5.7" transform="rotate(-10 372.4 1087.4)"/></g><path d="M499.1 896.9L387.1 1565.3" stroke="#0000ff" stroke-width="4.2" stroke-dasharray="15.5 6.5"/><path d="M418.0 1100.8C418.0 1108.1 417.2 1130.4 418.0 1144.9C418.7 1159.4 420.5 1175.4 422.6 1187.7C424.8 1199.9 428.3 1211.8 430.7 1218.4C433.0 1225.0 435.7 1225.6 436.7 1227.1" fill="none" stroke="#00ffff" stroke-width="3.6"/><path d="M511.8 1100.1C509.0 1107.6 501.4 1129.2 495.0 1144.9C488.7 1160.6 480.1 1182.1 473.6 1194.3C467.1 1206.6 460.5 1213.2 456.2 1218.4C451.8 1223.6 448.9 1224.5 447.5 1225.8" fill="none" stroke="#00ffff" stroke-width="3.6"/><path d="M379.1 1371.5C382.0 1363.2 390.8 1338.0 396.5 1322.0C402.2 1306.0 407.9 1288.9 413.3 1275.2C418.6 1261.5 425.2 1246.4 428.7 1239.8C432.1 1233.2 433.2 1236.4 434.0 1235.8" fill="none" stroke="#ff0000" stroke-width="3.6"/><path d="M472.3 1371.5C471.6 1364.4 469.9 1344.7 468.2 1329.4C466.6 1314.0 464.3 1293.4 462.2 1279.2C460.1 1265.1 457.3 1250.9 455.5 1244.5C453.7 1238.0 452.1 1241.1 451.5 1240.5" fill="none" stroke="#ff0000" stroke-width="3.6"/></g><path d="M437.1 1221.1 442.1 1226.1 447.1 1221.1 452.1 1226.1 447.1 1231.1 452.1 1236.1 447.1 1241.1 442.1 1236.1 437.1 1241.1 432.1 1236.1 437.1 1231.1 432.1 1226.1Z" fill="#ff00ff" stroke="#fff" stroke-width="4.5" paint-order="stroke" stroke-linejoin="miter"/><text x="179" y="980.9" font-size="45" text-anchor="start" font-weight="bold" fill="#000" font-family="'DejaVu Sans', 'Liberation Sans', sans-serif">(c) CO</text><rect x="694.9" y="1365.6" width="5.2" height="133.6" fill="#000"/><text x="755.5" y="1432.5" font-size="45.2" text-anchor="middle" fill="#000" transform="rotate(-90 755.5 1432.5)" font-family="'DejaVu Sans', 'Liberation Sans', sans-serif">800 AU</text><rect x="112.3" y="896.9" width="670.3" height="668.4" fill="none" stroke="#000" stroke-width="2.9"/><path d="M125.71 1565.3v-6.7M152.52 1565.3v-6.7M206.14 1565.3v-6.7M232.95 1565.3v-6.7M259.77 1565.3v-6.7M286.58 1565.3v-6.7M340.2 1565.3v-6.7M367.01 1565.3v-6.7M393.83 1565.3v-6.7M420.64 1565.3v-6.7M474.26 1565.3v-6.7M501.07 1565.3v-6.7M527.89 1565.3v-6.7M554.7 1565.3v-6.7M608.32 1565.3v-6.7M635.13 1565.3v-6.7M661.95 1565.3v-6.7M688.76 1565.3v-6.7M742.38 1565.3v-6.7M769.19 1565.3v-6.7" stroke="#000" stroke-width="1.8" fill="none"/><path d="M179.33 1565.3v-18.3M313.39 1565.3v-18.3M447.45 1565.3v-18.3M581.51 1565.3v-18.3M715.57 1565.3v-18.3" stroke="#000" stroke-width="1.8" fill="none"/><path d="M112.3 1551.93h6.7M112.3 1525.2h6.7M112.3 1471.72h6.7M112.3 1444.99h6.7M112.3 1418.25h6.7M112.3 1391.52h6.7M112.3 1338.04h6.7M112.3 1311.31h6.7M112.3 1284.57h6.7M112.3 1257.84h6.7M112.3 1204.36h6.7M112.3 1177.63h6.7M112.3 1150.89h6.7M112.3 1124.16h6.7M112.3 1070.68h6.7M112.3 1043.95h6.7M112.3 1017.21h6.7M112.3 990.48h6.7M112.3 937h6.7M112.3 910.27h6.7" stroke="#000" stroke-width="1.8" fill="none"/><path d="M112.3 1498.46h18.3M112.3 1364.78h18.3M112.3 1231.1h18.3M112.3 1097.42h18.3M112.3 963.74h18.3" stroke="#000" stroke-width="1.8" fill="none"/><path d="M125.71 896.9v6.7M152.52 896.9v6.7M206.14 896.9v6.7M232.95 896.9v6.7M259.77 896.9v6.7M286.58 896.9v6.7M340.2 896.9v6.7M367.01 896.9v6.7M393.83 896.9v6.7M420.64 896.9v6.7M474.26 896.9v6.7M501.07 896.9v6.7M527.89 896.9v6.7M554.7 896.9v6.7M608.32 896.9v6.7M635.13 896.9v6.7M661.95 896.9v6.7M688.76 896.9v6.7M742.38 896.9v6.7M769.19 896.9v6.7" stroke="#000" stroke-width="1.8" fill="none"/><path d="M179.33 896.9v18.3M313.39 896.9v18.3M447.45 896.9v18.3M581.51 896.9v18.3M715.57 896.9v18.3" stroke="#000" stroke-width="1.8" fill="none"/><path d="M782.6 1551.93h-6.7M782.6 1525.2h-6.7M782.6 1471.72h-6.7M782.6 1444.99h-6.7M782.6 1418.25h-6.7M782.6 1391.52h-6.7M782.6 1338.04h-6.7M782.6 1311.31h-6.7M782.6 1284.57h-6.7M782.6 1257.84h-6.7M782.6 1204.36h-6.7M782.6 1177.63h-6.7M782.6 1150.89h-6.7M782.6 1124.16h-6.7M782.6 1070.68h-6.7M782.6 1043.95h-6.7M782.6 1017.21h-6.7M782.6 990.48h-6.7M782.6 937h-6.7M782.6 910.27h-6.7" stroke="#000" stroke-width="1.8" fill="none"/><path d="M782.6 1498.46h-18.3M782.6 1364.78h-18.3M782.6 1231.1h-18.3M782.6 1097.42h-18.3M782.6 963.74h-18.3" stroke="#000" stroke-width="1.8" fill="none"/><text x="179.33" y="1599.8" font-size="29.5" text-anchor="middle" fill="#000" font-family="'DejaVu Sans', 'Liberation Sans', sans-serif">-4</text><text x="102.5" y="1509.21" font-size="29.5" text-anchor="end" fill="#000" font-family="'DejaVu Sans', 'Liberation Sans', sans-serif">-4</text><text x="313.39" y="1599.8" font-size="29.5" text-anchor="middle" fill="#000" font-family="'DejaVu Sans', 'Liberation Sans', sans-serif">-2</text><text x="102.5" y="1375.53" font-size="29.5" text-anchor="end" fill="#000" font-family="'DejaVu Sans', 'Liberation Sans', sans-serif">-2</text><text x="447.45" y="1599.8" font-size="29.5" text-anchor="middle" fill="#000" font-family="'DejaVu Sans', 'Liberation Sans', sans-serif">0</text><text x="102.5" y="1241.85" font-size="29.5" text-anchor="end" fill="#000" font-family="'DejaVu Sans', 'Liberation Sans', sans-serif">0</text><text x="581.51" y="1599.8" font-size="29.5" text-anchor="middle" fill="#000" font-family="'DejaVu Sans', 'Liberation Sans', sans-serif">2</text><text x="102.5" y="1108.17" font-size="29.5" text-anchor="end" fill="#000" font-family="'DejaVu Sans', 'Liberation Sans', sans-serif">2</text><text x="715.57" y="1599.8" font-size="29.5" text-anchor="middle" fill="#000" font-family="'DejaVu Sans', 'Liberation Sans', sans-serif">4</text><text x="102.5" y="974.49" font-size="29.5" text-anchor="end" fill="#000" font-family="'DejaVu Sans', 'Liberation Sans', sans-serif">4</text><text x="445.4" y="1641.2" font-size="29.5" text-anchor="middle" fill="#000" font-family="'DejaVu Sans', 'Liberation Sans', sans-serif">Δ<tspan font-style="italic">α</tspan> (")</text><text x="51.8" y="1233" font-size="29.5" text-anchor="middle" fill="#000" transform="rotate(-90 51.8 1233)" font-family="'DejaVu Sans', 'Liberation Sans', sans-serif">Δ<tspan font-style="italic">δ</tspan> (")</text><rect x="782.6" y="896.9" width="16.7" height="668.4" fill="url(#cmapC)" stroke="#000" stroke-width="2.9"/><path d="M799.3 899.3h10M799.3 957.5h10M799.3 1022.5h10M799.3 1095.1h10M799.3 1181.2h10M799.3 1294.3h10M799.3 1563.5h10" stroke="#000" stroke-width="1.8"/><text x="819" y="910.05" font-size="29.5" text-anchor="start" fill="#000" font-family="'DejaVu Sans', 'Liberation Sans', sans-serif">600</text><text x="819" y="968.25" font-size="29.5" text-anchor="start" fill="#000" font-family="'DejaVu Sans', 'Liberation Sans', sans-serif">500</text><text x="819" y="1033.25" font-size="29.5" text-anchor="start" fill="#000" font-family="'DejaVu Sans', 'Liberation Sans', sans-serif">400</text><text x="819" y="1105.85" font-size="29.5" text-anchor="start" fill="#000" font-family="'DejaVu Sans', 'Liberation Sans', sans-serif">300</text><text x="819" y="1191.95" font-size="29.5" text-anchor="start" fill="#000" font-family="'DejaVu Sans', 'Liberation Sans', sans-serif">200</text><text x="819" y="1305.05" font-size="29.5" text-anchor="start" fill="#000" font-family="'DejaVu Sans', 'Liberation Sans', sans-serif">100</text><text x="819" y="1574.25" font-size="29.5" text-anchor="start" fill="#000" font-family="'DejaVu Sans', 'Liberation Sans', sans-serif">0</text><text x="918.5" y="1232" font-size="29.5" text-anchor="middle" fill="#000" transform="rotate(-90 918.5 1232)" font-family="'DejaVu Sans', 'Liberation Sans', sans-serif">(K km s<tspan font-size="20.5" dy="-11.3">−1</tspan><tspan dy="11.3">)</tspan></text><g clip-path="url(#clipD)"><rect x="1052.8" y="907.5" width="643.0" height="643.0" fill="#fff"/><rect x="1052.8" y="907.5" width="643.0" height="643.0" filter="url(#noiseD)"/><g filter="url(#blurD)"><path d="M1558.1 1371.5C1546.4 1373.5 1541.9 1373.3 1530.0 1372.2C1518.1 1371.1 1501.6 1366.9 1486.9 1364.9C1472.2 1363.0 1454.0 1361.2 1441.8 1360.6C1429.6 1360.1 1420.7 1361.8 1413.7 1361.6C1406.7 1361.4 1403.3 1360.5 1399.7 1359.4C1396.0 1358.4 1394.9 1357.8 1391.6 1355.3C1388.3 1352.7 1382.5 1347.0 1379.9 1344.0C1377.4 1341.1 1377.7 1341.1 1376.4 1337.6C1375.1 1334.1 1373.1 1329.3 1372.0 1323.1C1370.8 1316.9 1370.6 1306.4 1369.6 1300.5C1368.5 1294.7 1367.9 1292.6 1365.6 1288.1C1363.2 1283.7 1358.6 1276.9 1355.5 1273.9C1352.5 1270.9 1356.7 1272.8 1347.4 1270.1C1338.0 1267.3 1310.3 1261.9 1299.4 1257.6C1288.5 1253.3 1287.4 1252.1 1282.1 1244.3C1276.7 1236.6 1271.1 1218.7 1267.3 1211.0C1263.5 1203.2 1263.4 1202.6 1259.3 1197.7C1255.1 1192.9 1245.7 1185.4 1242.2 1181.6C1238.7 1177.9 1239.2 1178.7 1238.4 1175.2C1237.6 1171.7 1237.0 1165.5 1237.5 1160.7C1238.0 1155.9 1239.2 1150.5 1241.6 1146.2C1244.0 1142.0 1247.7 1138.6 1252.0 1135.0C1256.3 1131.4 1260.7 1127.9 1267.3 1124.5C1273.8 1121.2 1281.7 1117.4 1291.4 1114.8C1301.0 1112.2 1315.1 1110.2 1325.4 1108.8C1335.8 1107.5 1340.8 1105.6 1353.5 1106.6C1366.2 1107.5 1391.6 1112.6 1401.7 1114.6C1411.7 1116.6 1407.3 1113.3 1413.7 1118.6C1420.1 1123.8 1432.6 1137.6 1440.1 1146.2C1447.6 1154.9 1453.8 1162.3 1458.6 1170.4C1463.5 1178.4 1466.0 1185.5 1469.3 1194.5C1472.5 1203.5 1474.9 1217.4 1477.9 1224.3C1480.8 1231.3 1481.3 1232.3 1487.0 1236.3C1492.6 1240.3 1504.6 1244.2 1512.0 1248.5C1519.3 1252.8 1524.1 1257.9 1531.0 1262.0C1538.0 1266.1 1540.1 1268.3 1553.7 1273.3C1567.2 1278.2 1599.7 1286.4 1612.2 1291.8C1624.7 1297.2 1625.5 1301.6 1628.7 1305.4C1632.0 1309.3 1631.4 1311.9 1631.9 1315.1C1632.4 1318.3 1632.8 1320.2 1631.6 1324.7C1630.4 1329.3 1627.2 1337.9 1624.6 1342.4C1622.0 1347.0 1618.2 1349.7 1615.8 1352.1C1613.4 1354.5 1612.8 1355.3 1610.2 1356.7C1607.6 1358.1 1608.9 1358.0 1600.2 1360.5C1591.5 1363.0 1569.8 1369.6 1558.1 1371.5Z" fill="#dcdcdc"/><path d="M1556.1 1365.3C1547.1 1366.6 1542.0 1366.5 1534.0 1365.7C1526.0 1364.9 1523.0 1362.4 1507.9 1360.8C1492.9 1359.1 1458.8 1356.5 1443.8 1355.9C1428.7 1355.3 1424.4 1357.2 1417.7 1357.1C1411.0 1356.9 1407.3 1355.8 1403.7 1354.9C1400.0 1353.9 1399.1 1354.4 1395.6 1351.3C1392.2 1348.1 1385.7 1340.9 1382.8 1336.0C1379.9 1331.0 1379.3 1326.2 1378.4 1321.5C1377.5 1316.8 1378.6 1313.8 1377.6 1307.9C1376.5 1302.0 1374.8 1292.5 1372.1 1286.1C1369.4 1279.8 1364.5 1273.0 1361.5 1269.6C1358.6 1266.1 1364.2 1268.5 1354.5 1265.2C1344.8 1262.0 1314.0 1254.3 1303.4 1250.0C1292.8 1245.7 1295.0 1246.4 1290.8 1239.5C1286.5 1232.7 1281.7 1217.0 1278.0 1209.0C1274.2 1200.9 1272.6 1197.4 1268.1 1191.3C1263.6 1185.1 1253.8 1176.5 1250.8 1172.0C1247.8 1167.4 1249.6 1167.4 1250.0 1163.9C1250.4 1160.4 1251.2 1155.0 1253.4 1151.1C1255.6 1147.1 1260.0 1143.1 1263.3 1140.2C1266.6 1137.2 1268.0 1136.1 1273.3 1133.3C1278.7 1130.5 1286.3 1126.3 1295.4 1123.5C1304.4 1120.7 1317.8 1118.2 1327.5 1116.6C1337.1 1115.0 1341.5 1113.3 1353.5 1113.9C1365.6 1114.5 1390.3 1118.7 1399.7 1120.3C1409.0 1121.9 1403.7 1118.7 1409.7 1123.5C1415.7 1128.4 1428.6 1141.4 1435.8 1149.5C1443.0 1157.5 1448.3 1164.2 1452.9 1172.0C1457.5 1179.7 1460.1 1187.0 1463.2 1196.1C1466.4 1205.2 1468.5 1219.2 1471.6 1226.6C1474.7 1234.1 1475.9 1236.2 1481.9 1240.8C1487.8 1245.3 1499.3 1249.1 1507.4 1254.0C1515.4 1258.9 1521.8 1265.5 1530.1 1270.1C1538.4 1274.6 1549.2 1278.7 1557.2 1281.3C1565.2 1284.0 1570.0 1283.7 1578.1 1286.0C1586.3 1288.4 1599.0 1292.1 1606.2 1295.6C1613.5 1299.1 1618.5 1303.5 1621.6 1307.0C1624.7 1310.6 1624.5 1314.0 1625.0 1316.7C1625.5 1319.4 1625.8 1319.4 1624.6 1323.1C1623.5 1326.9 1620.8 1335.0 1618.4 1339.2C1615.9 1343.4 1612.6 1346.0 1610.2 1348.2C1607.9 1350.3 1607.9 1350.7 1604.2 1352.3C1600.5 1353.9 1596.2 1355.6 1588.2 1357.8C1580.1 1360.0 1565.1 1364.0 1556.1 1365.3Z" fill="#d2d2d2"/><path d="M1548.1 1361.7C1539.7 1362.7 1541.7 1362.0 1534.0 1360.9C1526.3 1359.7 1517.3 1356.0 1501.9 1354.8C1486.6 1353.6 1455.8 1353.5 1441.8 1353.4C1427.7 1353.4 1424.1 1354.9 1417.7 1354.6C1411.3 1354.4 1407.0 1353.0 1403.7 1352.0C1400.3 1351.0 1400.4 1351.8 1397.4 1348.9C1394.5 1345.9 1388.5 1339.2 1385.9 1334.4C1383.2 1329.6 1382.5 1324.5 1381.7 1319.9C1380.9 1315.4 1381.9 1312.9 1381.0 1307.0C1380.0 1301.1 1378.2 1291.0 1375.9 1284.5C1373.5 1278.1 1369.8 1272.2 1367.0 1268.5C1364.2 1264.7 1368.9 1266.1 1358.9 1262.0C1349.0 1257.9 1317.3 1248.0 1307.4 1243.8C1297.5 1239.7 1304.5 1246.7 1299.4 1237.1C1294.3 1227.6 1283.0 1197.8 1276.9 1186.4C1270.8 1175.0 1265.1 1172.5 1262.7 1168.8C1260.3 1165.0 1262.0 1166.3 1262.4 1163.9C1262.9 1161.5 1263.5 1157.6 1265.6 1154.3C1267.8 1150.9 1270.0 1147.6 1275.3 1143.9C1280.6 1140.2 1286.3 1136.0 1297.4 1132.1C1308.4 1128.2 1332.1 1122.4 1341.5 1120.3C1350.8 1118.2 1345.5 1119.0 1353.5 1119.4C1361.5 1119.7 1381.3 1121.6 1389.6 1122.5C1398.0 1123.4 1400.3 1123.9 1403.7 1124.8C1407.0 1125.7 1404.7 1123.6 1409.7 1127.9C1414.7 1132.3 1426.9 1143.3 1433.7 1150.9C1440.6 1158.5 1446.3 1165.8 1450.8 1173.6C1455.2 1181.4 1457.7 1188.6 1460.5 1197.7C1463.4 1206.8 1465.2 1220.7 1468.1 1228.3C1471.0 1235.8 1472.1 1237.9 1478.1 1242.7C1484.1 1247.6 1496.0 1252.2 1503.9 1257.5C1511.9 1262.8 1517.6 1270.0 1526.0 1274.5C1534.4 1278.9 1545.4 1281.7 1554.1 1284.2C1562.8 1286.7 1569.8 1287.1 1578.1 1289.4C1586.5 1291.7 1597.5 1294.9 1604.2 1298.2C1610.9 1301.5 1615.5 1305.9 1618.2 1309.2C1621.0 1312.6 1620.7 1315.7 1621.0 1318.3C1621.2 1320.9 1620.9 1321.5 1619.9 1324.7C1618.8 1327.9 1616.7 1334.0 1614.5 1337.6C1612.2 1341.2 1611.3 1343.3 1606.2 1346.2C1601.2 1349.1 1593.8 1352.4 1584.2 1355.0C1574.5 1357.5 1556.4 1360.7 1548.1 1361.7Z" fill="#c9c9c9"/><path d="M1556.1 1355.6C1548.1 1356.4 1544.4 1356.5 1536.0 1355.1C1527.7 1353.8 1525.3 1348.1 1505.9 1347.6C1486.6 1347.1 1436.4 1351.7 1419.7 1352.0C1403.0 1352.3 1409.0 1350.3 1405.7 1349.3C1402.3 1348.4 1402.4 1349.1 1399.7 1346.3C1396.9 1343.5 1391.7 1337.4 1389.3 1332.8C1386.9 1328.1 1386.9 1326.6 1385.4 1318.3C1383.9 1310.0 1382.6 1291.8 1380.4 1282.9C1378.2 1274.1 1375.0 1269.3 1372.5 1265.2C1369.9 1261.2 1373.7 1263.1 1365.0 1258.8C1356.3 1254.5 1329.7 1244.1 1320.2 1239.5C1310.7 1235.0 1313.2 1241.4 1307.9 1231.5C1302.6 1221.6 1293.1 1191.0 1288.4 1180.0C1283.6 1169.0 1280.4 1169.3 1279.2 1165.5C1278.0 1161.8 1277.4 1161.3 1281.1 1157.5C1284.8 1153.7 1290.8 1148.1 1301.5 1143.0C1312.3 1138.0 1330.8 1130.0 1345.5 1127.3C1360.2 1124.6 1380.3 1126.8 1389.6 1127.0C1399.0 1127.2 1398.6 1127.8 1401.7 1128.6C1404.7 1129.4 1402.9 1127.8 1407.7 1131.5C1412.5 1135.3 1423.9 1144.1 1430.5 1151.1C1437.2 1158.1 1443.2 1166.1 1447.6 1173.6C1451.9 1181.1 1453.8 1186.4 1456.6 1196.1C1459.4 1205.7 1462.3 1224.2 1464.4 1231.5C1466.4 1238.7 1466.8 1236.9 1468.7 1239.5C1470.7 1242.1 1470.6 1243.2 1475.9 1246.9C1481.1 1250.7 1492.7 1256.5 1500.0 1262.0C1507.4 1267.6 1505.3 1274.7 1520.0 1280.3C1534.7 1286.0 1574.1 1292.3 1588.2 1295.9C1602.2 1299.6 1600.1 1299.8 1604.3 1302.2C1608.6 1304.6 1611.5 1307.6 1613.5 1310.3C1615.4 1312.9 1615.8 1315.9 1616.1 1318.3C1616.3 1320.7 1616.0 1321.8 1614.9 1324.7C1613.9 1327.7 1611.7 1333.0 1609.7 1336.0C1607.8 1338.9 1607.6 1340.0 1603.3 1342.4C1599.0 1344.8 1592.0 1348.1 1584.2 1350.2C1576.3 1352.4 1564.1 1354.8 1556.1 1355.6Z" fill="#c2c2c2"/><path d="M1562.1 1349.0C1556.4 1349.9 1554.1 1350.4 1550.1 1350.3C1546.1 1350.3 1545.0 1350.9 1538.0 1348.9C1531.0 1346.8 1522.0 1338.4 1507.9 1338.3C1493.9 1338.2 1468.5 1346.4 1453.8 1348.2C1439.1 1350.1 1428.2 1349.9 1419.7 1349.2C1411.2 1348.5 1406.8 1346.2 1402.7 1344.0C1398.7 1341.8 1397.0 1338.4 1395.4 1336.0C1393.7 1333.6 1393.6 1332.8 1392.6 1329.6C1391.6 1326.3 1390.6 1324.5 1389.5 1316.7C1388.3 1308.9 1387.4 1291.8 1385.8 1282.9C1384.2 1274.1 1382.4 1268.2 1380.1 1263.6C1377.7 1259.1 1377.8 1259.3 1371.6 1255.6C1365.4 1251.8 1351.9 1246.2 1343.0 1241.1C1334.0 1236.0 1325.2 1237.4 1318.0 1225.0C1310.8 1212.7 1302.7 1177.6 1299.7 1167.1C1296.7 1156.7 1298.6 1164.2 1299.9 1162.3C1301.2 1160.5 1303.7 1158.4 1307.4 1156.0C1311.1 1153.6 1314.8 1151.3 1322.2 1147.9C1329.5 1144.4 1339.3 1137.9 1351.5 1135.3C1363.8 1132.7 1386.9 1132.3 1395.6 1132.2C1404.3 1132.0 1400.3 1132.8 1403.7 1134.4C1407.0 1136.0 1411.3 1138.7 1415.7 1142.0C1420.1 1145.3 1424.7 1148.2 1429.9 1154.3C1435.1 1160.4 1442.9 1171.2 1446.9 1178.4C1450.8 1185.6 1451.0 1187.5 1453.5 1197.7C1456.0 1207.9 1458.4 1230.7 1461.6 1239.5C1464.8 1248.4 1466.9 1246.1 1472.7 1250.8C1478.4 1255.4 1489.0 1261.3 1495.9 1267.5C1502.8 1273.8 1510.3 1284.3 1514.0 1288.1C1517.6 1291.9 1514.3 1289.7 1518.0 1290.2C1521.7 1290.7 1525.3 1289.9 1536.0 1291.2C1546.7 1292.5 1571.5 1295.8 1582.2 1298.0C1592.8 1300.3 1595.8 1302.3 1600.2 1304.6C1604.6 1306.9 1606.9 1309.6 1608.7 1311.9C1610.4 1314.2 1610.5 1316.2 1610.7 1318.3C1610.9 1320.4 1610.5 1322.3 1609.7 1324.7C1608.8 1327.1 1607.3 1330.5 1605.7 1332.8C1604.1 1335.0 1603.8 1336.2 1600.2 1338.2C1596.6 1340.3 1590.5 1343.3 1584.2 1345.1C1577.8 1346.9 1567.8 1348.2 1562.1 1349.0Z" fill="#bcbcbc"/><path d="M1437.8 1345.8C1431.1 1346.1 1422.7 1346.4 1417.7 1345.8C1412.7 1345.3 1410.3 1343.8 1407.7 1342.4C1405.0 1341.0 1403.5 1339.5 1401.8 1337.6C1400.2 1335.7 1399.0 1334.6 1397.7 1331.2C1396.4 1327.7 1395.1 1323.9 1394.1 1316.7C1393.2 1309.5 1393.3 1297.3 1392.2 1287.7C1391.1 1278.2 1394.7 1268.3 1387.6 1259.4C1380.5 1250.6 1359.8 1242.3 1349.7 1234.7C1339.7 1227.1 1332.3 1224.5 1327.2 1213.8C1322.2 1203.1 1319.4 1178.9 1319.4 1170.3C1319.4 1161.8 1322.2 1166.1 1327.2 1162.3C1332.2 1158.6 1341.8 1151.5 1349.5 1147.7C1357.2 1144.0 1365.9 1141.6 1373.6 1139.9C1381.3 1138.2 1389.3 1136.8 1395.6 1137.4C1402.0 1138.0 1406.6 1140.9 1411.7 1143.8C1416.8 1146.6 1421.6 1149.8 1426.1 1154.3C1430.7 1158.7 1435.3 1164.2 1439.0 1170.4C1442.7 1176.5 1445.9 1183.5 1448.2 1191.3C1450.4 1199.0 1451.5 1208.7 1452.5 1217.0C1453.5 1225.3 1448.1 1232.0 1454.2 1241.1C1460.2 1250.2 1479.2 1261.3 1488.9 1271.7C1498.5 1282.1 1503.8 1299.2 1512.0 1303.6C1520.1 1308.1 1527.7 1298.9 1538.0 1298.4C1548.4 1297.9 1564.4 1299.2 1574.1 1300.7C1583.8 1302.2 1591.5 1305.5 1596.2 1307.3C1600.9 1309.2 1600.8 1310.2 1602.2 1311.8C1603.6 1313.3 1604.4 1314.5 1604.7 1316.7C1605.0 1318.9 1605.0 1322.1 1603.9 1324.7C1602.8 1327.4 1600.5 1330.5 1598.2 1332.7C1595.9 1334.8 1594.2 1336.1 1590.2 1337.6C1586.2 1339.1 1580.5 1340.8 1574.1 1341.9C1567.8 1342.9 1558.1 1343.9 1552.1 1343.9C1546.1 1343.8 1542.4 1342.6 1538.0 1341.4C1533.7 1340.3 1530.3 1339.5 1526.0 1336.8C1521.7 1334.1 1515.0 1327.2 1512.0 1325.1C1509.0 1323.0 1517.0 1321.0 1507.9 1324.0C1498.9 1327.1 1469.5 1340.0 1457.8 1343.6C1446.1 1347.2 1444.4 1345.4 1437.8 1345.8Z" fill="#b6b6b6"/><path d="M1441.8 1342.5C1435.7 1343.0 1425.0 1343.6 1419.7 1343.1C1414.4 1342.5 1412.4 1340.6 1409.9 1339.2C1407.3 1337.8 1406.4 1338.4 1404.6 1334.4C1402.7 1330.4 1399.8 1328.2 1398.6 1315.1C1397.4 1302.0 1403.4 1269.3 1397.3 1255.6C1391.1 1241.9 1370.3 1239.8 1361.8 1233.1C1353.2 1226.4 1349.6 1219.9 1345.9 1215.4C1342.2 1210.8 1341.0 1212.4 1339.7 1205.7C1338.4 1199.0 1335.5 1183.0 1338.2 1175.2C1340.8 1167.4 1348.8 1164.0 1355.7 1159.1C1362.6 1154.2 1373.3 1148.4 1379.6 1145.7C1385.9 1143.0 1388.6 1142.7 1393.6 1142.9C1398.6 1143.1 1404.7 1144.7 1409.7 1146.9C1414.7 1149.0 1419.7 1152.4 1423.7 1155.8C1427.7 1159.2 1430.7 1162.8 1433.6 1167.1C1436.5 1171.4 1439.1 1176.3 1441.2 1181.6C1443.3 1187.0 1445.0 1192.9 1446.2 1199.3C1447.3 1205.7 1448.3 1213.0 1448.1 1220.2C1447.9 1227.4 1442.9 1237.1 1444.8 1242.7C1446.8 1248.3 1454.0 1248.7 1459.8 1253.7C1465.6 1258.8 1473.7 1264.7 1479.8 1273.3C1485.9 1281.9 1493.7 1299.0 1496.4 1305.4C1499.1 1311.9 1498.4 1308.4 1495.8 1311.9C1493.3 1315.4 1487.7 1321.7 1481.0 1326.3C1474.3 1331.0 1462.3 1337.2 1455.8 1339.9C1449.3 1342.6 1447.8 1342.0 1441.8 1342.5Z" fill="#b0b0b0"/><path d="M1558.1 1337.6C1552.7 1337.4 1546.6 1336.4 1542.0 1335.0C1537.5 1333.7 1533.7 1332.1 1531.0 1329.6C1528.3 1327.0 1526.1 1322.9 1525.7 1319.9C1525.3 1317.0 1526.2 1314.3 1528.6 1311.9C1530.9 1309.4 1535.1 1306.4 1540.0 1305.1C1545.0 1303.8 1551.1 1303.8 1558.1 1304.0C1565.1 1304.1 1576.4 1305.1 1582.2 1306.1C1587.9 1307.2 1590.1 1308.8 1592.8 1310.3C1595.4 1311.8 1597.3 1312.7 1598.2 1315.1C1599.0 1317.5 1599.3 1322.0 1597.9 1324.7C1596.6 1327.5 1594.1 1329.5 1590.2 1331.5C1586.2 1333.4 1579.5 1335.4 1574.1 1336.4C1568.8 1337.4 1563.4 1337.8 1558.1 1337.6Z" fill="#b0b0b0"/><path d="M1443.8 1339.4C1438.4 1340.1 1427.0 1340.9 1421.7 1340.3C1416.4 1339.8 1414.4 1337.5 1412.0 1336.0C1409.7 1334.5 1408.9 1334.6 1407.4 1331.2C1406.0 1327.7 1404.0 1323.4 1403.2 1315.1C1402.5 1306.8 1402.5 1289.6 1402.9 1281.3C1403.3 1273.0 1404.3 1270.1 1405.7 1265.2C1407.0 1260.4 1410.8 1255.1 1411.0 1252.4C1411.1 1249.7 1410.3 1250.7 1406.7 1249.2C1403.1 1247.6 1395.1 1245.6 1389.6 1242.9C1384.1 1240.3 1377.8 1236.3 1373.8 1233.1C1369.7 1229.8 1368.2 1227.7 1365.3 1223.4C1362.4 1219.1 1358.6 1212.7 1356.5 1207.3C1354.4 1202.0 1353.1 1195.5 1352.9 1191.3C1352.8 1187.0 1352.5 1186.5 1355.5 1181.7C1358.5 1176.9 1366.5 1167.1 1370.8 1162.3C1375.2 1157.5 1378.8 1154.8 1381.6 1152.8C1384.4 1150.8 1384.6 1150.8 1387.6 1150.1C1390.6 1149.4 1395.6 1148.3 1399.7 1148.5C1403.7 1148.8 1408.0 1150.1 1411.7 1151.6C1415.4 1153.1 1418.2 1154.6 1421.7 1157.8C1425.2 1160.9 1429.3 1164.5 1432.6 1170.4C1435.9 1176.2 1439.6 1185.1 1441.5 1192.9C1443.3 1200.6 1443.8 1210.3 1443.6 1217.0C1443.4 1223.7 1442.4 1228.3 1440.3 1233.1C1438.3 1237.9 1429.5 1242.3 1431.4 1245.9C1433.3 1249.5 1447.2 1252.2 1451.8 1254.6C1456.4 1257.1 1455.6 1257.0 1458.9 1260.4C1462.3 1263.8 1468.0 1269.0 1471.6 1274.9C1475.3 1280.8 1479.0 1290.7 1480.7 1295.8C1482.5 1300.9 1483.5 1301.1 1482.2 1305.4C1480.9 1309.7 1477.6 1316.4 1472.9 1321.5C1468.1 1326.6 1458.8 1333.0 1453.9 1336.0C1449.1 1339.0 1449.1 1338.7 1443.8 1339.4Z" fill="#aaaaaa"/><path d="M1570.1 1331.3C1565.8 1331.8 1560.8 1332.2 1556.1 1331.5C1551.4 1330.8 1545.0 1328.5 1542.0 1327.1C1539.1 1325.7 1538.9 1325.1 1538.4 1323.1C1537.9 1321.1 1538.2 1317.1 1539.1 1315.1C1540.0 1313.0 1540.5 1311.8 1544.0 1310.8C1547.5 1309.8 1554.1 1309.0 1560.1 1308.9C1566.1 1308.7 1574.8 1308.8 1580.1 1310.0C1585.5 1311.1 1590.0 1314.0 1592.2 1315.9C1594.3 1317.8 1593.3 1320.0 1592.9 1321.5C1592.6 1323.0 1591.9 1323.5 1590.1 1324.7C1588.3 1326.0 1585.5 1327.8 1582.2 1328.9C1578.8 1330.0 1574.5 1330.9 1570.1 1331.3Z" fill="#aaaaaa"/><path d="M1417.7 1240.0C1414.3 1241.0 1413.4 1241.0 1409.7 1240.5C1406.0 1240.1 1399.9 1238.9 1395.6 1237.4C1391.4 1235.9 1387.4 1233.8 1384.3 1231.5C1381.1 1229.1 1379.1 1227.2 1376.8 1223.4C1374.6 1219.7 1372.0 1213.8 1371.0 1209.0C1370.1 1204.1 1369.5 1200.6 1370.9 1194.5C1372.3 1188.3 1376.4 1178.1 1379.5 1172.0C1382.6 1165.8 1386.1 1160.6 1389.5 1157.5C1392.8 1154.4 1396.3 1153.9 1399.7 1153.5C1403.0 1153.0 1406.0 1153.2 1409.7 1154.7C1413.4 1156.1 1418.3 1159.2 1421.7 1162.1C1425.1 1165.0 1427.2 1166.6 1429.9 1172.0C1432.6 1177.3 1436.3 1186.8 1437.8 1194.1C1439.3 1201.3 1439.1 1210.0 1438.9 1215.4C1438.7 1220.8 1438.0 1223.4 1436.5 1226.6C1435.0 1229.9 1432.9 1232.4 1429.8 1234.7C1426.6 1236.9 1421.1 1239.1 1417.7 1240.0Z" fill="#a2a2a2"/><path d="M1429.7 1337.6C1425.4 1337.7 1422.7 1337.4 1419.7 1336.0C1416.7 1334.5 1413.6 1332.8 1411.7 1329.0C1409.8 1325.3 1408.8 1318.7 1408.1 1313.5C1407.5 1308.2 1407.6 1302.8 1407.8 1297.4C1408.0 1292.0 1408.3 1286.4 1409.3 1281.3C1410.3 1276.2 1411.9 1270.6 1414.0 1266.8C1416.1 1263.1 1418.8 1260.9 1421.7 1259.1C1424.7 1257.3 1427.4 1256.0 1431.7 1256.1C1436.1 1256.1 1443.4 1257.4 1447.8 1259.5C1452.2 1261.5 1455.3 1265.3 1458.0 1268.5C1460.8 1271.6 1462.4 1272.7 1464.3 1278.1C1466.3 1283.5 1469.8 1293.9 1469.8 1300.6C1469.7 1307.3 1465.9 1314.3 1464.1 1318.3C1462.4 1322.3 1462.5 1321.9 1459.4 1324.7C1456.4 1327.6 1450.7 1333.3 1445.8 1335.4C1440.8 1337.6 1434.1 1337.5 1429.7 1337.6Z" fill="#a2a2a2"/><path d="M1417.7 1231.9C1412.6 1232.2 1401.6 1231.1 1396.6 1229.9C1391.6 1228.6 1389.7 1226.3 1387.6 1224.2C1385.6 1222.0 1385.1 1219.5 1384.3 1217.0C1383.5 1214.5 1382.9 1212.2 1382.8 1209.0C1382.7 1205.7 1382.6 1203.3 1383.6 1197.7C1384.7 1192.1 1387.1 1181.1 1389.1 1175.2C1391.0 1169.3 1393.2 1165.1 1395.3 1162.3C1397.4 1159.5 1399.6 1159.1 1401.7 1158.5C1403.7 1157.9 1405.3 1158.0 1407.7 1158.7C1410.0 1159.3 1413.0 1160.3 1415.7 1162.3C1418.3 1164.3 1420.9 1165.3 1423.7 1170.6C1426.5 1176.0 1431.0 1187.3 1432.7 1194.5C1434.3 1201.7 1433.6 1209.0 1433.4 1213.8C1433.1 1218.6 1432.0 1221.0 1431.0 1223.4C1430.0 1225.8 1429.6 1226.8 1427.3 1228.3C1425.1 1229.7 1422.8 1231.6 1417.7 1231.9Z" fill="#9a9a9a"/><path d="M1435.7 1332.9C1432.7 1333.2 1428.5 1333.9 1425.7 1333.4C1422.9 1332.8 1420.6 1331.0 1419.0 1329.6C1417.4 1328.1 1417.0 1327.9 1416.2 1324.7C1415.3 1321.5 1413.8 1317.0 1413.7 1310.3C1413.6 1303.6 1414.6 1290.8 1415.6 1284.5C1416.6 1278.3 1418.3 1275.5 1419.7 1272.8C1421.1 1270.0 1421.4 1269.4 1423.7 1267.9C1426.1 1266.4 1430.1 1264.1 1433.7 1263.7C1437.4 1263.3 1442.8 1264.2 1445.8 1265.6C1448.8 1266.9 1450.2 1269.6 1451.9 1271.7C1453.6 1273.8 1454.7 1273.8 1456.0 1278.1C1457.2 1282.4 1459.6 1290.4 1459.4 1297.4C1459.2 1304.4 1457.3 1314.3 1454.7 1319.9C1452.1 1325.5 1447.1 1329.0 1443.9 1331.2C1440.8 1333.3 1438.8 1332.5 1435.7 1332.9Z" fill="#9a9a9a"/></g><g filter="url(#blurD2)"><rect x="1409.5" y="887.5" width="10" height="683.0" fill="#b4b4b4"/><rect x="1424.9" y="1267.4" width="8" height="69.7" fill="#1a1a1a"/><rect x="1408.7" y="1149.5" width="7" height="85.8" fill="#707070"/><rect x="1410.7" y="1358.5" width="6" height="85.8" fill="#8a8a8a"/><rect x="1411.5" y="961.9" width="6" height="96.5" fill="#9a9a9a"/></g><g fill="none" stroke="#666666" stroke-width="2.7"><path d="M1558.1 1371.5C1546.4 1373.5 1541.9 1373.3 1530.0 1372.2C1518.1 1371.1 1501.6 1366.9 1486.9 1364.9C1472.2 1363.0 1454.0 1361.2 1441.8 1360.6C1429.6 1360.1 1420.7 1361.8 1413.7 1361.6C1406.7 1361.4 1403.3 1360.5 1399.7 1359.4C1396.0 1358.4 1394.9 1357.8 1391.6 1355.3C1388.3 1352.7 1382.5 1347.0 1379.9 1344.0C1377.4 1341.1 1377.7 1341.1 1376.4 1337.6C1375.1 1334.1 1373.1 1329.3 1372.0 1323.1C1370.8 1316.9 1370.6 1306.4 1369.6 1300.5C1368.5 1294.7 1367.9 1292.6 1365.6 1288.1C1363.2 1283.7 1358.6 1276.9 1355.5 1273.9C1352.5 1270.9 1356.7 1272.8 1347.4 1270.1C1338.0 1267.3 1310.3 1261.9 1299.4 1257.6C1288.5 1253.3 1287.4 1252.1 1282.1 1244.3C1276.7 1236.6 1271.1 1218.7 1267.3 1211.0C1263.5 1203.2 1263.4 1202.6 1259.3 1197.7C1255.1 1192.9 1245.7 1185.4 1242.2 1181.6C1238.7 1177.9 1239.2 1178.7 1238.4 1175.2C1237.6 1171.7 1237.0 1165.5 1237.5 1160.7C1238.0 1155.9 1239.2 1150.5 1241.6 1146.2C1244.0 1142.0 1247.7 1138.6 1252.0 1135.0C1256.3 1131.4 1260.7 1127.9 1267.3 1124.5C1273.8 1121.2 1281.7 1117.4 1291.4 1114.8C1301.0 1112.2 1315.1 1110.2 1325.4 1108.8C1335.8 1107.5 1340.8 1105.6 1353.5 1106.6C1366.2 1107.5 1391.6 1112.6 1401.7 1114.6C1411.7 1116.6 1407.3 1113.3 1413.7 1118.6C1420.1 1123.8 1432.6 1137.6 1440.1 1146.2C1447.6 1154.9 1453.8 1162.3 1458.6 1170.4C1463.5 1178.4 1466.0 1185.5 1469.3 1194.5C1472.5 1203.5 1474.9 1217.4 1477.9 1224.3C1480.8 1231.3 1481.3 1232.3 1487.0 1236.3C1492.6 1240.3 1504.6 1244.2 1512.0 1248.5C1519.3 1252.8 1524.1 1257.9 1531.0 1262.0C1538.0 1266.1 1540.1 1268.3 1553.7 1273.3C1567.2 1278.2 1599.7 1286.4 1612.2 1291.8C1624.7 1297.2 1625.5 1301.6 1628.7 1305.4C1632.0 1309.3 1631.4 1311.9 1631.9 1315.1C1632.4 1318.3 1632.8 1320.2 1631.6 1324.7C1630.4 1329.3 1627.2 1337.9 1624.6 1342.4C1622.0 1347.0 1618.2 1349.7 1615.8 1352.1C1613.4 1354.5 1612.8 1355.3 1610.2 1356.7C1607.6 1358.1 1608.9 1358.0 1600.2 1360.5C1591.5 1363.0 1569.8 1369.6 1558.1 1371.5Z"/><path d="M1556.1 1365.3C1547.1 1366.6 1542.0 1366.5 1534.0 1365.7C1526.0 1364.9 1523.0 1362.4 1507.9 1360.8C1492.9 1359.1 1458.8 1356.5 1443.8 1355.9C1428.7 1355.3 1424.4 1357.2 1417.7 1357.1C1411.0 1356.9 1407.3 1355.8 1403.7 1354.9C1400.0 1353.9 1399.1 1354.4 1395.6 1351.3C1392.2 1348.1 1385.7 1340.9 1382.8 1336.0C1379.9 1331.0 1379.3 1326.2 1378.4 1321.5C1377.5 1316.8 1378.6 1313.8 1377.6 1307.9C1376.5 1302.0 1374.8 1292.5 1372.1 1286.1C1369.4 1279.8 1364.5 1273.0 1361.5 1269.6C1358.6 1266.1 1364.2 1268.5 1354.5 1265.2C1344.8 1262.0 1314.0 1254.3 1303.4 1250.0C1292.8 1245.7 1295.0 1246.4 1290.8 1239.5C1286.5 1232.7 1281.7 1217.0 1278.0 1209.0C1274.2 1200.9 1272.6 1197.4 1268.1 1191.3C1263.6 1185.1 1253.8 1176.5 1250.8 1172.0C1247.8 1167.4 1249.6 1167.4 1250.0 1163.9C1250.4 1160.4 1251.2 1155.0 1253.4 1151.1C1255.6 1147.1 1260.0 1143.1 1263.3 1140.2C1266.6 1137.2 1268.0 1136.1 1273.3 1133.3C1278.7 1130.5 1286.3 1126.3 1295.4 1123.5C1304.4 1120.7 1317.8 1118.2 1327.5 1116.6C1337.1 1115.0 1341.5 1113.3 1353.5 1113.9C1365.6 1114.5 1390.3 1118.7 1399.7 1120.3C1409.0 1121.9 1403.7 1118.7 1409.7 1123.5C1415.7 1128.4 1428.6 1141.4 1435.8 1149.5C1443.0 1157.5 1448.3 1164.2 1452.9 1172.0C1457.5 1179.7 1460.1 1187.0 1463.2 1196.1C1466.4 1205.2 1468.5 1219.2 1471.6 1226.6C1474.7 1234.1 1475.9 1236.2 1481.9 1240.8C1487.8 1245.3 1499.3 1249.1 1507.4 1254.0C1515.4 1258.9 1521.8 1265.5 1530.1 1270.1C1538.4 1274.6 1549.2 1278.7 1557.2 1281.3C1565.2 1284.0 1570.0 1283.7 1578.1 1286.0C1586.3 1288.4 1599.0 1292.1 1606.2 1295.6C1613.5 1299.1 1618.5 1303.5 1621.6 1307.0C1624.7 1310.6 1624.5 1314.0 1625.0 1316.7C1625.5 1319.4 1625.8 1319.4 1624.6 1323.1C1623.5 1326.9 1620.8 1335.0 1618.4 1339.2C1615.9 1343.4 1612.6 1346.0 1610.2 1348.2C1607.9 1350.3 1607.9 1350.7 1604.2 1352.3C1600.5 1353.9 1596.2 1355.6 1588.2 1357.8C1580.1 1360.0 1565.1 1364.0 1556.1 1365.3Z"/><path d="M1548.1 1361.7C1539.7 1362.7 1541.7 1362.0 1534.0 1360.9C1526.3 1359.7 1517.3 1356.0 1501.9 1354.8C1486.6 1353.6 1455.8 1353.5 1441.8 1353.4C1427.7 1353.4 1424.1 1354.9 1417.7 1354.6C1411.3 1354.4 1407.0 1353.0 1403.7 1352.0C1400.3 1351.0 1400.4 1351.8 1397.4 1348.9C1394.5 1345.9 1388.5 1339.2 1385.9 1334.4C1383.2 1329.6 1382.5 1324.5 1381.7 1319.9C1380.9 1315.4 1381.9 1312.9 1381.0 1307.0C1380.0 1301.1 1378.2 1291.0 1375.9 1284.5C1373.5 1278.1 1369.8 1272.2 1367.0 1268.5C1364.2 1264.7 1368.9 1266.1 1358.9 1262.0C1349.0 1257.9 1317.3 1248.0 1307.4 1243.8C1297.5 1239.7 1304.5 1246.7 1299.4 1237.1C1294.3 1227.6 1283.0 1197.8 1276.9 1186.4C1270.8 1175.0 1265.1 1172.5 1262.7 1168.8C1260.3 1165.0 1262.0 1166.3 1262.4 1163.9C1262.9 1161.5 1263.5 1157.6 1265.6 1154.3C1267.8 1150.9 1270.0 1147.6 1275.3 1143.9C1280.6 1140.2 1286.3 1136.0 1297.4 1132.1C1308.4 1128.2 1332.1 1122.4 1341.5 1120.3C1350.8 1118.2 1345.5 1119.0 1353.5 1119.4C1361.5 1119.7 1381.3 1121.6 1389.6 1122.5C1398.0 1123.4 1400.3 1123.9 1403.7 1124.8C1407.0 1125.7 1404.7 1123.6 1409.7 1127.9C1414.7 1132.3 1426.9 1143.3 1433.7 1150.9C1440.6 1158.5 1446.3 1165.8 1450.8 1173.6C1455.2 1181.4 1457.7 1188.6 1460.5 1197.7C1463.4 1206.8 1465.2 1220.7 1468.1 1228.3C1471.0 1235.8 1472.1 1237.9 1478.1 1242.7C1484.1 1247.6 1496.0 1252.2 1503.9 1257.5C1511.9 1262.8 1517.6 1270.0 1526.0 1274.5C1534.4 1278.9 1545.4 1281.7 1554.1 1284.2C1562.8 1286.7 1569.8 1287.1 1578.1 1289.4C1586.5 1291.7 1597.5 1294.9 1604.2 1298.2C1610.9 1301.5 1615.5 1305.9 1618.2 1309.2C1621.0 1312.6 1620.7 1315.7 1621.0 1318.3C1621.2 1320.9 1620.9 1321.5 1619.9 1324.7C1618.8 1327.9 1616.7 1334.0 1614.5 1337.6C1612.2 1341.2 1611.3 1343.3 1606.2 1346.2C1601.2 1349.1 1593.8 1352.4 1584.2 1355.0C1574.5 1357.5 1556.4 1360.7 1548.1 1361.7Z"/><path d="M1556.1 1355.6C1548.1 1356.4 1544.4 1356.5 1536.0 1355.1C1527.7 1353.8 1525.3 1348.1 1505.9 1347.6C1486.6 1347.1 1436.4 1351.7 1419.7 1352.0C1403.0 1352.3 1409.0 1350.3 1405.7 1349.3C1402.3 1348.4 1402.4 1349.1 1399.7 1346.3C1396.9 1343.5 1391.7 1337.4 1389.3 1332.8C1386.9 1328.1 1386.9 1326.6 1385.4 1318.3C1383.9 1310.0 1382.6 1291.8 1380.4 1282.9C1378.2 1274.1 1375.0 1269.3 1372.5 1265.2C1369.9 1261.2 1373.7 1263.1 1365.0 1258.8C1356.3 1254.5 1329.7 1244.1 1320.2 1239.5C1310.7 1235.0 1313.2 1241.4 1307.9 1231.5C1302.6 1221.6 1293.1 1191.0 1288.4 1180.0C1283.6 1169.0 1280.4 1169.3 1279.2 1165.5C1278.0 1161.8 1277.4 1161.3 1281.1 1157.5C1284.8 1153.7 1290.8 1148.1 1301.5 1143.0C1312.3 1138.0 1330.8 1130.0 1345.5 1127.3C1360.2 1124.6 1380.3 1126.8 1389.6 1127.0C1399.0 1127.2 1398.6 1127.8 1401.7 1128.6C1404.7 1129.4 1402.9 1127.8 1407.7 1131.5C1412.5 1135.3 1423.9 1144.1 1430.5 1151.1C1437.2 1158.1 1443.2 1166.1 1447.6 1173.6C1451.9 1181.1 1453.8 1186.4 1456.6 1196.1C1459.4 1205.7 1462.3 1224.2 1464.4 1231.5C1466.4 1238.7 1466.8 1236.9 1468.7 1239.5C1470.7 1242.1 1470.6 1243.2 1475.9 1246.9C1481.1 1250.7 1492.7 1256.5 1500.0 1262.0C1507.4 1267.6 1505.3 1274.7 1520.0 1280.3C1534.7 1286.0 1574.1 1292.3 1588.2 1295.9C1602.2 1299.6 1600.1 1299.8 1604.3 1302.2C1608.6 1304.6 1611.5 1307.6 1613.5 1310.3C1615.4 1312.9 1615.8 1315.9 1616.1 1318.3C1616.3 1320.7 1616.0 1321.8 1614.9 1324.7C1613.9 1327.7 1611.7 1333.0 1609.7 1336.0C1607.8 1338.9 1607.6 1340.0 1603.3 1342.4C1599.0 1344.8 1592.0 1348.1 1584.2 1350.2C1576.3 1352.4 1564.1 1354.8 1556.1 1355.6Z"/><path d="M1562.1 1349.0C1556.4 1349.9 1554.1 1350.4 1550.1 1350.3C1546.1 1350.3 1545.0 1350.9 1538.0 1348.9C1531.0 1346.8 1522.0 1338.4 1507.9 1338.3C1493.9 1338.2 1468.5 1346.4 1453.8 1348.2C1439.1 1350.1 1428.2 1349.9 1419.7 1349.2C1411.2 1348.5 1406.8 1346.2 1402.7 1344.0C1398.7 1341.8 1397.0 1338.4 1395.4 1336.0C1393.7 1333.6 1393.6 1332.8 1392.6 1329.6C1391.6 1326.3 1390.6 1324.5 1389.5 1316.7C1388.3 1308.9 1387.4 1291.8 1385.8 1282.9C1384.2 1274.1 1382.4 1268.2 1380.1 1263.6C1377.7 1259.1 1377.8 1259.3 1371.6 1255.6C1365.4 1251.8 1351.9 1246.2 1343.0 1241.1C1334.0 1236.0 1325.2 1237.4 1318.0 1225.0C1310.8 1212.7 1302.7 1177.6 1299.7 1167.1C1296.7 1156.7 1298.6 1164.2 1299.9 1162.3C1301.2 1160.5 1303.7 1158.4 1307.4 1156.0C1311.1 1153.6 1314.8 1151.3 1322.2 1147.9C1329.5 1144.4 1339.3 1137.9 1351.5 1135.3C1363.8 1132.7 1386.9 1132.3 1395.6 1132.2C1404.3 1132.0 1400.3 1132.8 1403.7 1134.4C1407.0 1136.0 1411.3 1138.7 1415.7 1142.0C1420.1 1145.3 1424.7 1148.2 1429.9 1154.3C1435.1 1160.4 1442.9 1171.2 1446.9 1178.4C1450.8 1185.6 1451.0 1187.5 1453.5 1197.7C1456.0 1207.9 1458.4 1230.7 1461.6 1239.5C1464.8 1248.4 1466.9 1246.1 1472.7 1250.8C1478.4 1255.4 1489.0 1261.3 1495.9 1267.5C1502.8 1273.8 1510.3 1284.3 1514.0 1288.1C1517.6 1291.9 1514.3 1289.7 1518.0 1290.2C1521.7 1290.7 1525.3 1289.9 1536.0 1291.2C1546.7 1292.5 1571.5 1295.8 1582.2 1298.0C1592.8 1300.3 1595.8 1302.3 1600.2 1304.6C1604.6 1306.9 1606.9 1309.6 1608.7 1311.9C1610.4 1314.2 1610.5 1316.2 1610.7 1318.3C1610.9 1320.4 1610.5 1322.3 1609.7 1324.7C1608.8 1327.1 1607.3 1330.5 1605.7 1332.8C1604.1 1335.0 1603.8 1336.2 1600.2 1338.2C1596.6 1340.3 1590.5 1343.3 1584.2 1345.1C1577.8 1346.9 1567.8 1348.2 1562.1 1349.0Z"/><path d="M1437.8 1345.8C1431.1 1346.1 1422.7 1346.4 1417.7 1345.8C1412.7 1345.3 1410.3 1343.8 1407.7 1342.4C1405.0 1341.0 1403.5 1339.5 1401.8 1337.6C1400.2 1335.7 1399.0 1334.6 1397.7 1331.2C1396.4 1327.7 1395.1 1323.9 1394.1 1316.7C1393.2 1309.5 1393.3 1297.3 1392.2 1287.7C1391.1 1278.2 1394.7 1268.3 1387.6 1259.4C1380.5 1250.6 1359.8 1242.3 1349.7 1234.7C1339.7 1227.1 1332.3 1224.5 1327.2 1213.8C1322.2 1203.1 1319.4 1178.9 1319.4 1170.3C1319.4 1161.8 1322.2 1166.1 1327.2 1162.3C1332.2 1158.6 1341.8 1151.5 1349.5 1147.7C1357.2 1144.0 1365.9 1141.6 1373.6 1139.9C1381.3 1138.2 1389.3 1136.8 1395.6 1137.4C1402.0 1138.0 1406.6 1140.9 1411.7 1143.8C1416.8 1146.6 1421.6 1149.8 1426.1 1154.3C1430.7 1158.7 1435.3 1164.2 1439.0 1170.4C1442.7 1176.5 1445.9 1183.5 1448.2 1191.3C1450.4 1199.0 1451.5 1208.7 1452.5 1217.0C1453.5 1225.3 1448.1 1232.0 1454.2 1241.1C1460.2 1250.2 1479.2 1261.3 1488.9 1271.7C1498.5 1282.1 1503.8 1299.2 1512.0 1303.6C1520.1 1308.1 1527.7 1298.9 1538.0 1298.4C1548.4 1297.9 1564.4 1299.2 1574.1 1300.7C1583.8 1302.2 1591.5 1305.5 1596.2 1307.3C1600.9 1309.2 1600.8 1310.2 1602.2 1311.8C1603.6 1313.3 1604.4 1314.5 1604.7 1316.7C1605.0 1318.9 1605.0 1322.1 1603.9 1324.7C1602.8 1327.4 1600.5 1330.5 1598.2 1332.7C1595.9 1334.8 1594.2 1336.1 1590.2 1337.6C1586.2 1339.1 1580.5 1340.8 1574.1 1341.9C1567.8 1342.9 1558.1 1343.9 1552.1 1343.9C1546.1 1343.8 1542.4 1342.6 1538.0 1341.4C1533.7 1340.3 1530.3 1339.5 1526.0 1336.8C1521.7 1334.1 1515.0 1327.2 1512.0 1325.1C1509.0 1323.0 1517.0 1321.0 1507.9 1324.0C1498.9 1327.1 1469.5 1340.0 1457.8 1343.6C1446.1 1347.2 1444.4 1345.4 1437.8 1345.8Z"/><path d="M1441.8 1342.5C1435.7 1343.0 1425.0 1343.6 1419.7 1343.1C1414.4 1342.5 1412.4 1340.6 1409.9 1339.2C1407.3 1337.8 1406.4 1338.4 1404.6 1334.4C1402.7 1330.4 1399.8 1328.2 1398.6 1315.1C1397.4 1302.0 1403.4 1269.3 1397.3 1255.6C1391.1 1241.9 1370.3 1239.8 1361.8 1233.1C1353.2 1226.4 1349.6 1219.9 1345.9 1215.4C1342.2 1210.8 1341.0 1212.4 1339.7 1205.7C1338.4 1199.0 1335.5 1183.0 1338.2 1175.2C1340.8 1167.4 1348.8 1164.0 1355.7 1159.1C1362.6 1154.2 1373.3 1148.4 1379.6 1145.7C1385.9 1143.0 1388.6 1142.7 1393.6 1142.9C1398.6 1143.1 1404.7 1144.7 1409.7 1146.9C1414.7 1149.0 1419.7 1152.4 1423.7 1155.8C1427.7 1159.2 1430.7 1162.8 1433.6 1167.1C1436.5 1171.4 1439.1 1176.3 1441.2 1181.6C1443.3 1187.0 1445.0 1192.9 1446.2 1199.3C1447.3 1205.7 1448.3 1213.0 1448.1 1220.2C1447.9 1227.4 1442.9 1237.1 1444.8 1242.7C1446.8 1248.3 1454.0 1248.7 1459.8 1253.7C1465.6 1258.8 1473.7 1264.7 1479.8 1273.3C1485.9 1281.9 1493.7 1299.0 1496.4 1305.4C1499.1 1311.9 1498.4 1308.4 1495.8 1311.9C1493.3 1315.4 1487.7 1321.7 1481.0 1326.3C1474.3 1331.0 1462.3 1337.2 1455.8 1339.9C1449.3 1342.6 1447.8 1342.0 1441.8 1342.5Z"/><path d="M1558.1 1337.6C1552.7 1337.4 1546.6 1336.4 1542.0 1335.0C1537.5 1333.7 1533.7 1332.1 1531.0 1329.6C1528.3 1327.0 1526.1 1322.9 1525.7 1319.9C1525.3 1317.0 1526.2 1314.3 1528.6 1311.9C1530.9 1309.4 1535.1 1306.4 1540.0 1305.1C1545.0 1303.8 1551.1 1303.8 1558.1 1304.0C1565.1 1304.1 1576.4 1305.1 1582.2 1306.1C1587.9 1307.2 1590.1 1308.8 1592.8 1310.3C1595.4 1311.8 1597.3 1312.7 1598.2 1315.1C1599.0 1317.5 1599.3 1322.0 1597.9 1324.7C1596.6 1327.5 1594.1 1329.5 1590.2 1331.5C1586.2 1333.4 1579.5 1335.4 1574.1 1336.4C1568.8 1337.4 1563.4 1337.8 1558.1 1337.6Z"/><path d="M1443.8 1339.4C1438.4 1340.1 1427.0 1340.9 1421.7 1340.3C1416.4 1339.8 1414.4 1337.5 1412.0 1336.0C1409.7 1334.5 1408.9 1334.6 1407.4 1331.2C1406.0 1327.7 1404.0 1323.4 1403.2 1315.1C1402.5 1306.8 1402.5 1289.6 1402.9 1281.3C1403.3 1273.0 1404.3 1270.1 1405.7 1265.2C1407.0 1260.4 1410.8 1255.1 1411.0 1252.4C1411.1 1249.7 1410.3 1250.7 1406.7 1249.2C1403.1 1247.6 1395.1 1245.6 1389.6 1242.9C1384.1 1240.3 1377.8 1236.3 1373.8 1233.1C1369.7 1229.8 1368.2 1227.7 1365.3 1223.4C1362.4 1219.1 1358.6 1212.7 1356.5 1207.3C1354.4 1202.0 1353.1 1195.5 1352.9 1191.3C1352.8 1187.0 1352.5 1186.5 1355.5 1181.7C1358.5 1176.9 1366.5 1167.1 1370.8 1162.3C1375.2 1157.5 1378.8 1154.8 1381.6 1152.8C1384.4 1150.8 1384.6 1150.8 1387.6 1150.1C1390.6 1149.4 1395.6 1148.3 1399.7 1148.5C1403.7 1148.8 1408.0 1150.1 1411.7 1151.6C1415.4 1153.1 1418.2 1154.6 1421.7 1157.8C1425.2 1160.9 1429.3 1164.5 1432.6 1170.4C1435.9 1176.2 1439.6 1185.1 1441.5 1192.9C1443.3 1200.6 1443.8 1210.3 1443.6 1217.0C1443.4 1223.7 1442.4 1228.3 1440.3 1233.1C1438.3 1237.9 1429.5 1242.3 1431.4 1245.9C1433.3 1249.5 1447.2 1252.2 1451.8 1254.6C1456.4 1257.1 1455.6 1257.0 1458.9 1260.4C1462.3 1263.8 1468.0 1269.0 1471.6 1274.9C1475.3 1280.8 1479.0 1290.7 1480.7 1295.8C1482.5 1300.9 1483.5 1301.1 1482.2 1305.4C1480.9 1309.7 1477.6 1316.4 1472.9 1321.5C1468.1 1326.6 1458.8 1333.0 1453.9 1336.0C1449.1 1339.0 1449.1 1338.7 1443.8 1339.4Z"/><path d="M1570.1 1331.3C1565.8 1331.8 1560.8 1332.2 1556.1 1331.5C1551.4 1330.8 1545.0 1328.5 1542.0 1327.1C1539.1 1325.7 1538.9 1325.1 1538.4 1323.1C1537.9 1321.1 1538.2 1317.1 1539.1 1315.1C1540.0 1313.0 1540.5 1311.8 1544.0 1310.8C1547.5 1309.8 1554.1 1309.0 1560.1 1308.9C1566.1 1308.7 1574.8 1308.8 1580.1 1310.0C1585.5 1311.1 1590.0 1314.0 1592.2 1315.9C1594.3 1317.8 1593.3 1320.0 1592.9 1321.5C1592.6 1323.0 1591.9 1323.5 1590.1 1324.7C1588.3 1326.0 1585.5 1327.8 1582.2 1328.9C1578.8 1330.0 1574.5 1330.9 1570.1 1331.3Z"/><path d="M1417.7 1240.0C1414.3 1241.0 1413.4 1241.0 1409.7 1240.5C1406.0 1240.1 1399.9 1238.9 1395.6 1237.4C1391.4 1235.9 1387.4 1233.8 1384.3 1231.5C1381.1 1229.1 1379.1 1227.2 1376.8 1223.4C1374.6 1219.7 1372.0 1213.8 1371.0 1209.0C1370.1 1204.1 1369.5 1200.6 1370.9 1194.5C1372.3 1188.3 1376.4 1178.1 1379.5 1172.0C1382.6 1165.8 1386.1 1160.6 1389.5 1157.5C1392.8 1154.4 1396.3 1153.9 1399.7 1153.5C1403.0 1153.0 1406.0 1153.2 1409.7 1154.7C1413.4 1156.1 1418.3 1159.2 1421.7 1162.1C1425.1 1165.0 1427.2 1166.6 1429.9 1172.0C1432.6 1177.3 1436.3 1186.8 1437.8 1194.1C1439.3 1201.3 1439.1 1210.0 1438.9 1215.4C1438.7 1220.8 1438.0 1223.4 1436.5 1226.6C1435.0 1229.9 1432.9 1232.4 1429.8 1234.7C1426.6 1236.9 1421.1 1239.1 1417.7 1240.0Z"/><path d="M1429.7 1337.6C1425.4 1337.7 1422.7 1337.4 1419.7 1336.0C1416.7 1334.5 1413.6 1332.8 1411.7 1329.0C1409.8 1325.3 1408.8 1318.7 1408.1 1313.5C1407.5 1308.2 1407.6 1302.8 1407.8 1297.4C1408.0 1292.0 1408.3 1286.4 1409.3 1281.3C1410.3 1276.2 1411.9 1270.6 1414.0 1266.8C1416.1 1263.1 1418.8 1260.9 1421.7 1259.1C1424.7 1257.3 1427.4 1256.0 1431.7 1256.1C1436.1 1256.1 1443.4 1257.4 1447.8 1259.5C1452.2 1261.5 1455.3 1265.3 1458.0 1268.5C1460.8 1271.6 1462.4 1272.7 1464.3 1278.1C1466.3 1283.5 1469.8 1293.9 1469.8 1300.6C1469.7 1307.3 1465.9 1314.3 1464.1 1318.3C1462.4 1322.3 1462.5 1321.9 1459.4 1324.7C1456.4 1327.6 1450.7 1333.3 1445.8 1335.4C1440.8 1337.6 1434.1 1337.5 1429.7 1337.6Z"/><path d="M1417.7 1231.9C1412.6 1232.2 1401.6 1231.1 1396.6 1229.9C1391.6 1228.6 1389.7 1226.3 1387.6 1224.2C1385.6 1222.0 1385.1 1219.5 1384.3 1217.0C1383.5 1214.5 1382.9 1212.2 1382.8 1209.0C1382.7 1205.7 1382.6 1203.3 1383.6 1197.7C1384.7 1192.1 1387.1 1181.1 1389.1 1175.2C1391.0 1169.3 1393.2 1165.1 1395.3 1162.3C1397.4 1159.5 1399.6 1159.1 1401.7 1158.5C1403.7 1157.9 1405.3 1158.0 1407.7 1158.7C1410.0 1159.3 1413.0 1160.3 1415.7 1162.3C1418.3 1164.3 1420.9 1165.3 1423.7 1170.6C1426.5 1176.0 1431.0 1187.3 1432.7 1194.5C1434.3 1201.7 1433.6 1209.0 1433.4 1213.8C1433.1 1218.6 1432.0 1221.0 1431.0 1223.4C1430.0 1225.8 1429.6 1226.8 1427.3 1228.3C1425.1 1229.7 1422.8 1231.6 1417.7 1231.9Z"/><path d="M1435.7 1332.9C1432.7 1333.2 1428.5 1333.9 1425.7 1333.4C1422.9 1332.8 1420.6 1331.0 1419.0 1329.6C1417.4 1328.1 1417.0 1327.9 1416.2 1324.7C1415.3 1321.5 1413.8 1317.0 1413.7 1310.3C1413.6 1303.6 1414.6 1290.8 1415.6 1284.5C1416.6 1278.3 1418.3 1275.5 1419.7 1272.8C1421.1 1270.0 1421.4 1269.4 1423.7 1267.9C1426.1 1266.4 1430.1 1264.1 1433.7 1263.7C1437.4 1263.3 1442.8 1264.2 1445.8 1265.6C1448.8 1266.9 1450.2 1269.6 1451.9 1271.7C1453.6 1273.8 1454.7 1273.8 1456.0 1278.1C1457.2 1282.4 1459.6 1290.4 1459.4 1297.4C1459.2 1304.4 1457.3 1314.3 1454.7 1319.9C1452.1 1325.5 1447.1 1329.0 1443.9 1331.2C1440.8 1333.3 1438.8 1332.5 1435.7 1332.9Z"/><path d="M1444.3 1010.1C1444.5 1011.9 1444.5 1013.7 1444.5 1015.5C1444.4 1017.2 1444.2 1019.0 1443.9 1020.7C1443.6 1022.4 1443.1 1024.1 1442.5 1025.7C1442.0 1027.3 1441.2 1028.9 1440.4 1030.4C1439.6 1031.9 1438.6 1033.3 1437.5 1034.7C1436.5 1036.0 1435.3 1037.2 1434.0 1038.4C1432.7 1039.5 1431.3 1040.5 1429.9 1041.4C1428.4 1042.4 1426.9 1043.2 1425.3 1043.8C1423.7 1044.5 1422.0 1045.0 1420.4 1045.4C1418.7 1045.8 1417.0 1046.0 1415.3 1046.1C1413.6 1046.2 1411.9 1046.1 1410.2 1045.9C1408.6 1045.7 1406.9 1045.4 1405.3 1044.9C1403.7 1044.4 1402.2 1043.7 1400.7 1042.9C1399.3 1042.1 1397.9 1041.2 1396.6 1040.1C1395.3 1039.0 1394.1 1037.8 1393.0 1036.5C1392.0 1035.1 1391.0 1033.7 1390.2 1032.1C1389.3 1030.6 1388.6 1028.9 1388.0 1027.2C1387.5 1025.4 1387.0 1023.6 1386.7 1021.8C1386.4 1019.9 1386.2 1018.0 1386.1 1016.0C1386.0 1014.1 1386.1 1012.1 1386.3 1010.1C1386.5 1008.1 1386.8 1006.1 1387.2 1004.2C1387.6 1002.2 1388.1 1000.3 1388.7 998.4C1389.3 996.6 1390.1 994.8 1390.9 993.0C1391.7 991.3 1392.5 989.6 1393.5 988.1C1394.4 986.5 1395.5 985.1 1396.5 983.7C1397.6 982.4 1398.7 981.2 1399.9 980.1C1401.1 979.0 1402.3 978.1 1403.5 977.3C1404.8 976.5 1406.1 975.8 1407.4 975.3C1408.6 974.8 1410.0 974.5 1411.3 974.3C1412.6 974.1 1414.0 974.0 1415.3 974.1C1416.6 974.2 1418.0 974.4 1419.3 974.8C1420.6 975.2 1421.9 975.7 1423.2 976.4C1424.5 977.0 1425.8 977.8 1427.1 978.8C1428.3 979.7 1429.5 980.7 1430.7 981.8C1431.9 983.0 1433.0 984.2 1434.1 985.5C1435.1 986.9 1436.2 988.3 1437.1 989.8C1438.0 991.3 1438.9 992.9 1439.7 994.5C1440.5 996.1 1441.2 997.8 1441.9 999.5C1442.5 1001.2 1443.0 1003.0 1443.4 1004.7C1443.8 1006.5 1444.1 1008.3 1444.3 1010.1Z"/><path d="M1440.2 1010.4C1440.4 1011.9 1440.4 1013.5 1440.4 1015.0C1440.3 1016.5 1440.2 1018.0 1439.9 1019.5C1439.6 1021.0 1439.2 1022.4 1438.7 1023.8C1438.2 1025.2 1437.6 1026.6 1436.9 1027.8C1436.2 1029.1 1435.3 1030.4 1434.4 1031.5C1433.5 1032.6 1432.5 1033.7 1431.4 1034.7C1430.3 1035.7 1429.1 1036.6 1427.8 1037.3C1426.6 1038.1 1425.2 1038.8 1423.9 1039.4C1422.5 1039.9 1421.1 1040.4 1419.7 1040.7C1418.2 1041.0 1416.7 1041.3 1415.3 1041.3C1413.8 1041.4 1412.4 1041.4 1410.9 1041.2C1409.5 1041.0 1408.1 1040.7 1406.7 1040.3C1405.3 1039.8 1404.0 1039.3 1402.8 1038.6C1401.5 1037.9 1400.3 1037.1 1399.2 1036.2C1398.1 1035.2 1397.1 1034.2 1396.2 1033.0C1395.2 1031.9 1394.4 1030.6 1393.7 1029.3C1393.0 1028.0 1392.4 1026.5 1391.9 1025.1C1391.4 1023.6 1391.0 1022.0 1390.7 1020.4C1390.4 1018.8 1390.3 1017.1 1390.2 1015.5C1390.1 1013.8 1390.2 1012.1 1390.4 1010.4C1390.5 1008.7 1390.8 1007.0 1391.1 1005.3C1391.5 1003.6 1391.9 1002.0 1392.5 1000.4C1393.0 998.8 1393.6 997.2 1394.3 995.7C1395.0 994.2 1395.7 992.8 1396.5 991.4C1397.4 990.1 1398.2 988.9 1399.2 987.7C1400.1 986.6 1401.1 985.5 1402.1 984.6C1403.1 983.7 1404.1 982.9 1405.2 982.2C1406.2 981.5 1407.4 980.9 1408.5 980.5C1409.6 980.0 1410.7 979.7 1411.9 979.6C1413.0 979.4 1414.1 979.3 1415.3 979.4C1416.4 979.5 1417.6 979.7 1418.7 980.0C1419.9 980.4 1421.0 980.8 1422.1 981.4C1423.2 982.0 1424.3 982.6 1425.4 983.4C1426.5 984.2 1427.5 985.1 1428.5 986.1C1429.5 987.0 1430.5 988.1 1431.4 989.3C1432.4 990.4 1433.2 991.6 1434.0 992.9C1434.9 994.2 1435.6 995.6 1436.3 997.0C1437.0 998.3 1437.6 999.8 1438.1 1001.3C1438.7 1002.7 1439.1 1004.3 1439.5 1005.8C1439.8 1007.3 1440.1 1008.8 1440.2 1010.4Z"/><path d="M1435.9 1010.7C1436.0 1011.9 1436.1 1013.2 1436.0 1014.5C1436.0 1015.7 1435.8 1017.0 1435.6 1018.2C1435.4 1019.4 1435.1 1020.6 1434.6 1021.8C1434.2 1022.9 1433.7 1024.0 1433.1 1025.1C1432.5 1026.2 1431.8 1027.2 1431.1 1028.1C1430.3 1029.1 1429.5 1029.9 1428.6 1030.8C1427.7 1031.6 1426.7 1032.3 1425.6 1032.9C1424.6 1033.6 1423.5 1034.1 1422.4 1034.6C1421.3 1035.1 1420.1 1035.5 1418.9 1035.7C1417.7 1036.0 1416.5 1036.2 1415.3 1036.2C1414.1 1036.3 1412.9 1036.3 1411.7 1036.1C1410.5 1036.0 1409.3 1035.7 1408.2 1035.4C1407.1 1035.0 1406.0 1034.5 1404.9 1034.0C1403.9 1033.4 1402.9 1032.7 1402.0 1032.0C1401.1 1031.2 1400.3 1030.3 1399.5 1029.4C1398.7 1028.5 1398.1 1027.4 1397.5 1026.3C1396.9 1025.2 1396.4 1024.0 1395.9 1022.8C1395.5 1021.6 1395.2 1020.3 1395.0 1019.0C1394.8 1017.6 1394.6 1016.3 1394.6 1014.9C1394.5 1013.5 1394.6 1012.1 1394.7 1010.7C1394.8 1009.3 1395.0 1007.9 1395.3 1006.5C1395.6 1005.1 1396.0 1003.7 1396.4 1002.4C1396.9 1001.1 1397.4 999.8 1397.9 998.6C1398.5 997.3 1399.1 996.1 1399.8 995.0C1400.5 993.9 1401.2 992.9 1402.0 992.0C1402.7 991.0 1403.5 990.2 1404.4 989.4C1405.2 988.6 1406.1 988.0 1406.9 987.4C1407.8 986.8 1408.7 986.4 1409.7 986.0C1410.6 985.6 1411.5 985.4 1412.5 985.2C1413.4 985.1 1414.3 985.1 1415.3 985.1C1416.2 985.2 1417.2 985.4 1418.1 985.6C1419.1 985.9 1420.0 986.3 1420.9 986.7C1421.8 987.2 1422.8 987.8 1423.6 988.4C1424.5 989.1 1425.4 989.8 1426.2 990.6C1427.1 991.4 1427.9 992.3 1428.6 993.2C1429.4 994.2 1430.1 995.2 1430.8 996.3C1431.4 997.3 1432.1 998.4 1432.6 999.6C1433.2 1000.7 1433.7 1001.9 1434.1 1003.2C1434.6 1004.4 1435.0 1005.6 1435.2 1006.9C1435.5 1008.1 1435.8 1009.4 1435.9 1010.7Z"/><path d="M1431.5 1011.0C1431.6 1012.0 1431.7 1013.0 1431.6 1014.0C1431.6 1015.0 1431.5 1016.0 1431.3 1016.9C1431.1 1017.9 1430.9 1018.8 1430.6 1019.7C1430.2 1020.6 1429.8 1021.5 1429.4 1022.4C1428.9 1023.2 1428.4 1024.0 1427.8 1024.7C1427.2 1025.5 1426.5 1026.2 1425.8 1026.8C1425.0 1027.4 1424.3 1028.0 1423.5 1028.5C1422.6 1029.0 1421.8 1029.5 1420.9 1029.9C1420.0 1030.2 1419.1 1030.5 1418.1 1030.7C1417.2 1030.9 1416.2 1031.1 1415.3 1031.1C1414.3 1031.2 1413.4 1031.2 1412.5 1031.0C1411.5 1030.9 1410.6 1030.7 1409.7 1030.4C1408.8 1030.2 1407.9 1029.8 1407.1 1029.4C1406.3 1028.9 1405.5 1028.4 1404.8 1027.8C1404.1 1027.2 1403.4 1026.5 1402.8 1025.7C1402.2 1025.0 1401.7 1024.2 1401.2 1023.3C1400.8 1022.4 1400.4 1021.5 1400.0 1020.5C1399.7 1019.6 1399.5 1018.5 1399.3 1017.5C1399.1 1016.5 1399.0 1015.4 1399.0 1014.3C1398.9 1013.2 1399.0 1012.1 1399.1 1011.0C1399.2 1009.9 1399.3 1008.8 1399.6 1007.7C1399.8 1006.6 1400.1 1005.5 1400.4 1004.5C1400.8 1003.4 1401.2 1002.4 1401.6 1001.4C1402.1 1000.5 1402.6 999.5 1403.1 998.7C1403.6 997.8 1404.2 997.0 1404.8 996.2C1405.4 995.5 1406.0 994.8 1406.7 994.2C1407.3 993.6 1408.0 993.1 1408.7 992.6C1409.4 992.2 1410.1 991.8 1410.8 991.5C1411.6 991.2 1412.3 991.0 1413.1 990.9C1413.8 990.8 1414.5 990.8 1415.3 990.8C1416.0 990.9 1416.8 991.0 1417.5 991.2C1418.3 991.4 1419.0 991.7 1419.7 992.1C1420.5 992.5 1421.2 992.9 1421.9 993.4C1422.6 993.9 1423.3 994.5 1423.9 995.1C1424.6 995.8 1425.2 996.5 1425.8 997.2C1426.4 998.0 1427.0 998.8 1427.5 999.6C1428.0 1000.4 1428.5 1001.3 1429.0 1002.2C1429.4 1003.1 1429.8 1004.1 1430.2 1005.0C1430.5 1006.0 1430.8 1007.0 1431.0 1008.0C1431.3 1009.0 1431.4 1010.0 1431.5 1011.0Z"/><path d="M1426.9 1011.3C1427.0 1012.0 1427.0 1012.7 1427.0 1013.4C1426.9 1014.1 1426.9 1014.9 1426.7 1015.5C1426.6 1016.2 1426.4 1016.9 1426.2 1017.5C1426.0 1018.2 1425.7 1018.8 1425.3 1019.4C1425.0 1020.0 1424.6 1020.6 1424.2 1021.1C1423.8 1021.7 1423.3 1022.2 1422.8 1022.6C1422.3 1023.1 1421.7 1023.5 1421.1 1023.8C1420.5 1024.2 1419.9 1024.5 1419.3 1024.8C1418.7 1025.0 1418.0 1025.3 1417.3 1025.4C1416.7 1025.6 1416.0 1025.7 1415.3 1025.7C1414.6 1025.7 1413.9 1025.7 1413.3 1025.6C1412.6 1025.6 1411.9 1025.4 1411.3 1025.2C1410.7 1025.0 1410.0 1024.7 1409.5 1024.4C1408.9 1024.1 1408.3 1023.7 1407.8 1023.3C1407.3 1022.9 1406.8 1022.4 1406.4 1021.8C1406.0 1021.3 1405.6 1020.7 1405.2 1020.1C1404.9 1019.5 1404.6 1018.8 1404.4 1018.1C1404.2 1017.4 1404.0 1016.7 1403.9 1016.0C1403.7 1015.2 1403.6 1014.4 1403.6 1013.7C1403.6 1012.9 1403.6 1012.1 1403.7 1011.3C1403.8 1010.5 1403.9 1009.7 1404.1 1008.9C1404.2 1008.2 1404.4 1007.4 1404.7 1006.6C1404.9 1005.9 1405.2 1005.2 1405.5 1004.5C1405.8 1003.8 1406.2 1003.1 1406.6 1002.5C1406.9 1001.9 1407.4 1001.3 1407.8 1000.8C1408.2 1000.2 1408.7 999.7 1409.1 999.3C1409.6 998.9 1410.1 998.5 1410.6 998.2C1411.1 997.9 1411.6 997.6 1412.1 997.4C1412.6 997.2 1413.2 997.0 1413.7 997.0C1414.2 996.9 1414.8 996.9 1415.3 996.9C1415.8 996.9 1416.4 997.0 1416.9 997.2C1417.4 997.3 1418.0 997.6 1418.5 997.8C1419.0 998.1 1419.5 998.4 1420.0 998.8C1420.5 999.1 1421.0 999.5 1421.4 1000.0C1421.9 1000.4 1422.4 1000.9 1422.8 1001.5C1423.2 1002.0 1423.6 1002.6 1424.0 1003.2C1424.4 1003.8 1424.7 1004.4 1425.1 1005.1C1425.4 1005.7 1425.7 1006.4 1425.9 1007.1C1426.2 1007.7 1426.4 1008.5 1426.5 1009.2C1426.7 1009.9 1426.8 1010.6 1426.9 1011.3Z"/><path d="M1421.7 1011.7C1421.7 1012.1 1421.7 1012.4 1421.7 1012.8C1421.7 1013.2 1421.7 1013.6 1421.6 1014.0C1421.5 1014.4 1421.4 1014.7 1421.3 1015.1C1421.2 1015.5 1421.0 1015.8 1420.8 1016.1C1420.6 1016.5 1420.4 1016.8 1420.2 1017.1C1420.0 1017.4 1419.7 1017.6 1419.4 1017.9C1419.1 1018.1 1418.8 1018.4 1418.5 1018.6C1418.2 1018.8 1417.8 1018.9 1417.5 1019.1C1417.1 1019.2 1416.8 1019.3 1416.4 1019.4C1416.0 1019.5 1415.7 1019.6 1415.3 1019.6C1414.9 1019.6 1414.5 1019.6 1414.2 1019.5C1413.8 1019.5 1413.4 1019.4 1413.1 1019.3C1412.7 1019.2 1412.4 1019.1 1412.1 1018.9C1411.8 1018.7 1411.5 1018.5 1411.2 1018.3C1410.9 1018.0 1410.6 1017.8 1410.4 1017.5C1410.2 1017.2 1410.0 1016.8 1409.8 1016.5C1409.6 1016.2 1409.4 1015.8 1409.3 1015.4C1409.2 1015.0 1409.1 1014.6 1409.0 1014.2C1408.9 1013.8 1408.9 1013.4 1408.9 1013.0C1408.9 1012.5 1408.9 1012.1 1408.9 1011.7C1409.0 1011.2 1409.0 1010.8 1409.1 1010.4C1409.2 1009.9 1409.3 1009.5 1409.5 1009.1C1409.6 1008.7 1409.7 1008.3 1409.9 1007.9C1410.1 1007.5 1410.3 1007.2 1410.5 1006.8C1410.7 1006.5 1410.9 1006.2 1411.2 1005.9C1411.4 1005.6 1411.7 1005.3 1411.9 1005.1C1412.2 1004.8 1412.4 1004.6 1412.7 1004.4C1413.0 1004.3 1413.3 1004.1 1413.5 1004.0C1413.8 1003.9 1414.1 1003.8 1414.4 1003.8C1414.7 1003.7 1415.0 1003.7 1415.3 1003.7C1415.6 1003.8 1415.9 1003.8 1416.2 1003.9C1416.5 1004.0 1416.8 1004.1 1417.0 1004.2C1417.3 1004.4 1417.6 1004.6 1417.9 1004.8C1418.2 1005.0 1418.4 1005.2 1418.7 1005.4C1418.9 1005.7 1419.2 1006.0 1419.4 1006.3C1419.7 1006.5 1419.9 1006.9 1420.1 1007.2C1420.3 1007.5 1420.5 1007.9 1420.7 1008.2C1420.8 1008.6 1421.0 1009.0 1421.1 1009.3C1421.3 1009.7 1421.4 1010.1 1421.5 1010.5C1421.6 1010.9 1421.6 1011.3 1421.7 1011.7Z"/></g><path d="M1417.7 907.5V1550.5M1052.8 1251.3H1695.8" stroke="#0000ff" stroke-width="2.6" stroke-dasharray="8.5 4.5"/><path d="M1258.3 1129.4C1264.8 1136.3 1283.8 1158.8 1297.2 1170.9C1310.6 1183.0 1325.7 1192.5 1338.7 1202.0C1351.7 1211.5 1363.8 1220.1 1375.0 1227.9C1386.2 1235.7 1400.9 1245.2 1406.1 1248.7" fill="none" stroke="#00ffff" stroke-width="5"/><path d="M1384.3 1095.7C1387.1 1102.2 1395.5 1120.3 1400.9 1134.6C1406.3 1148.9 1412.2 1166.6 1416.5 1181.3C1420.8 1196.0 1424.7 1212.3 1426.9 1222.7C1429.1 1233.1 1429.1 1240.0 1429.5 1243.5" fill="none" stroke="#00ffff" stroke-width="5"/><path d="M1432.1 1253.9C1439.9 1258.2 1462.4 1268.6 1478.8 1279.8C1495.2 1291.0 1514.2 1306.2 1530.6 1321.3C1547.0 1336.4 1569.5 1362.4 1577.3 1370.6" fill="none" stroke="#ff0000" stroke-width="5"/><path d="M1407.2 1266.8C1408.8 1276.8 1411.9 1309.6 1416.5 1326.5C1421.1 1343.4 1428.5 1353.7 1434.7 1368.0C1440.9 1382.3 1450.7 1404.8 1453.9 1412.1" fill="none" stroke="#ff0000" stroke-width="5"/></g><path d="M1411.7 1239.3 1417.7 1245.3 1423.7 1239.3 1429.7 1245.3 1423.7 1251.3 1429.7 1257.3 1423.7 1263.3 1417.7 1257.3 1411.7 1263.3 1405.7 1257.3 1411.7 1251.3 1405.7 1245.3Z" fill="#ff00ff" stroke="#fff" stroke-width="5" paint-order="stroke" stroke-linejoin="miter"/><text x="1076" y="990.6" font-size="25.85" text-anchor="start" font-weight="bold" fill="#000" font-family="'DejaVu Sans', 'Liberation Sans', sans-serif">(b) CO PV</text><text x="1506.8" y="991.9" font-size="25.8" text-anchor="start" font-weight="bold" font-style="italic" fill="#000" font-family="'DejaVu Sans', 'Liberation Sans', sans-serif">North</text><text x="1538" y="1528.8" font-size="26" text-anchor="start" font-weight="bold" font-style="italic" fill="#000" font-family="'DejaVu Sans', 'Liberation Sans', sans-serif">South</text><path d="M1659.6 1413V1520" stroke="#000" stroke-width="2.6"/><text x="1686" y="1466" font-size="25.8" text-anchor="middle" font-weight="bold" font-style="italic" fill="#000" transform="rotate(-90 1686 1466)" font-family="'DejaVu Sans', 'Liberation Sans', sans-serif">800 AU</text><rect x="1052.8" y="907.5" width="643" height="643" fill="none" stroke="#000" stroke-width="1.8"/><path d="M1056.71 1550.5v-8.6M1096.82 1550.5v-8.6M1136.93 1550.5v-8.6M1177.04 1550.5v-8.6M1257.26 1550.5v-8.6M1297.37 1550.5v-8.6M1337.48 1550.5v-8.6M1377.59 1550.5v-8.6M1457.81 1550.5v-8.6M1497.92 1550.5v-8.6M1538.03 1550.5v-8.6M1578.14 1550.5v-8.6M1658.36 1550.5v-8.6" stroke="#000" stroke-width="1.6" fill="none"/><path d="M1217.15 1550.5v-17M1417.7 1550.5v-17M1618.25 1550.5v-17" stroke="#000" stroke-width="1.6" fill="none"/><path d="M1056.71 907.5v8.6M1096.82 907.5v8.6M1136.93 907.5v8.6M1177.04 907.5v8.6M1257.26 907.5v8.6M1297.37 907.5v8.6M1337.48 907.5v8.6M1377.59 907.5v8.6M1457.81 907.5v8.6M1497.92 907.5v8.6M1538.03 907.5v8.6M1578.14 907.5v8.6M1658.36 907.5v8.6" stroke="#000" stroke-width="1.6" fill="none"/><path d="M1217.15 907.5v17M1417.7 907.5v17M1618.25 907.5v17" stroke="#000" stroke-width="1.6" fill="none"/><path d="M1052.8 1530.02h8.6M1052.8 1508.58h8.6M1052.8 1487.14h8.6M1052.8 1444.26h8.6M1052.8 1422.82h8.6M1052.8 1401.38h8.6M1052.8 1379.94h8.6M1052.8 1337.06h8.6M1052.8 1315.62h8.6M1052.8 1294.18h8.6M1052.8 1272.74h8.6M1052.8 1229.86h8.6M1052.8 1208.42h8.6M1052.8 1186.98h8.6M1052.8 1165.54h8.6M1052.8 1122.66h8.6M1052.8 1101.22h8.6M1052.8 1079.78h8.6M1052.8 1058.34h8.6M1052.8 1015.46h8.6M1052.8 994.02h8.6M1052.8 972.58h8.6M1052.8 951.14h8.6M1052.8 908.26h8.6" stroke="#000" stroke-width="1.6" fill="none"/><path d="M1052.8 1465.7h17M1052.8 1358.5h17M1052.8 1251.3h17M1052.8 1144.1h17M1052.8 1036.9h17M1052.8 929.7h17" stroke="#000" stroke-width="1.6" fill="none"/><path d="M1695.8 1530.02h-8.6M1695.8 1508.58h-8.6M1695.8 1487.14h-8.6M1695.8 1444.26h-8.6M1695.8 1422.82h-8.6M1695.8 1401.38h-8.6M1695.8 1379.94h-8.6M1695.8 1337.06h-8.6M1695.8 1315.62h-8.6M1695.8 1294.18h-8.6M1695.8 1272.74h-8.6M1695.8 1229.86h-8.6M1695.8 1208.42h-8.6M1695.8 1186.98h-8.6M1695.8 1165.54h-8.6M1695.8 1122.66h-8.6M1695.8 1101.22h-8.6M1695.8 1079.78h-8.6M1695.8 1058.34h-8.6M1695.8 1015.46h-8.6M1695.8 994.02h-8.6M1695.8 972.58h-8.6M1695.8 951.14h-8.6M1695.8 908.26h-8.6" stroke="#000" stroke-width="1.6" fill="none"/><path d="M1695.8 1465.7h-17M1695.8 1358.5h-17M1695.8 1251.3h-17M1695.8 1144.1h-17M1695.8 1036.9h-17M1695.8 929.7h-17" stroke="#000" stroke-width="1.6" fill="none"/><text x="1217.15" y="1576.9" font-size="26.7" text-anchor="middle" fill="#000" font-family="'DejaVu Sans', 'Liberation Sans', sans-serif">-50.0</text><text x="1417.7" y="1576.9" font-size="26.7" text-anchor="middle" fill="#000" font-family="'DejaVu Sans', 'Liberation Sans', sans-serif">0.0</text><text x="1618.25" y="1576.9" font-size="26.7" text-anchor="middle" fill="#000" font-family="'DejaVu Sans', 'Liberation Sans', sans-serif">50.0</text><text x="1047.5" y="937.7" font-size="26.5" text-anchor="end" fill="#000" font-family="'DejaVu Sans', 'Liberation Sans', sans-serif">6</text><text x="1047.5" y="1044.9" font-size="26.5" text-anchor="end" fill="#000" font-family="'DejaVu Sans', 'Liberation Sans', sans-serif">4</text><text x="1047.5" y="1152.1" font-size="26.5" text-anchor="end" fill="#000" font-family="'DejaVu Sans', 'Liberation Sans', sans-serif">2</text><text x="1047.5" y="1259.3" font-size="26.5" text-anchor="end" fill="#000" font-family="'DejaVu Sans', 'Liberation Sans', sans-serif">0</text><text x="1047.5" y="1366.5" font-size="26.5" text-anchor="end" fill="#000" font-family="'DejaVu Sans', 'Liberation Sans', sans-serif">-2</text><text x="1047.5" y="1473.7" font-size="26.5" text-anchor="end" fill="#000" font-family="'DejaVu Sans', 'Liberation Sans', sans-serif">-4</text><text x="1373" y="1615.4" font-size="25.8" text-anchor="middle" fill="#000" font-family="'DejaVu Sans', 'Liberation Sans', sans-serif">Velocity Offset (km s<tspan font-size="18" dy="-9.9">−1</tspan><tspan dy="9.9">)</tspan></text><text x="1004" y="1229" font-size="25.8" text-anchor="middle" fill="#000" transform="rotate(-90 1004 1229)" font-family="'DejaVu Sans', 'Liberation Sans', sans-serif">Position Offset (")</text><rect x="1699.2" y="905.6" width="32.5" height="651.5" fill="url(#cmapD)" stroke="#000" stroke-width="1.6"/><path d="M1731.7 934.2h-6.5M1731.7 993.5h-6.5M1731.7 1067.4h-6.5M1731.7 1172.4h-6.5" stroke="#000" stroke-width="1.4"/><text x="1738.4" y="941.8" font-size="21" text-anchor="start" fill="#000" font-family="'DejaVu Sans', 'Liberation Sans', sans-serif">40</text><text x="1738.4" y="1001.1" font-size="21" text-anchor="start" fill="#000" font-family="'DejaVu Sans', 'Liberation Sans', sans-serif">30</text><text x="1738.4" y="1075" font-size="21" text-anchor="start" fill="#000" font-family="'DejaVu Sans', 'Liberation Sans', sans-serif">20</text><text x="1738.4" y="1180" font-size="21" text-anchor="start" fill="#000" font-family="'DejaVu Sans', 'Liberation Sans', sans-serif">10</text><text x="1788" y="1229.3" font-size="21" text-anchor="middle" fill="#000" transform="rotate(-90 1788 1229.3)" font-family="'DejaVu Sans', 'Liberation Sans', sans-serif">(K)</text><g clip-path="url(#clipE)"><rect x="103.5" y="1688.3" width="700.1" height="699.0000000000002" fill="#00007f"/><rect x="103.5" y="1688.3" width="700.1" height="699.0000000000002" filter="url(#noiseE)"/><g filter="url(#blurE)"><ellipse cx="439.5" cy="2030.8" rx="73.5" ry="161.0" fill="#0060ff"/><ellipse cx="443.0" cy="2030.8" rx="56.0" ry="147.0" fill="#00a8ff"/><ellipse cx="404.5" cy="1995.9" rx="24.5" ry="63.0" fill="#10c0ff"/><ellipse cx="460.6" cy="1971.4" rx="40.6" ry="98.0" fill="#00e0ff"/><ellipse cx="450.0" cy="2107.7" rx="39.2" ry="71.4" fill="#00e0ff"/><ellipse cx="450.0" cy="2037.8" rx="24.5" ry="35.0" fill="#00e4f8"/></g><g filter="url(#blurE2)"><path d="M469.7 1870.7C477.2 1869.0 486.2 1879.1 492.1 1887.5C497.9 1895.9 502.8 1907.1 504.7 1921.1C506.5 1935.0 506.3 1955.4 503.3 1971.4C500.2 1987.4 491.5 2007.3 486.5 2016.8C481.4 2026.4 478.6 2027.5 473.2 2028.7C467.7 2029.9 459.4 2027.5 453.6 2023.8C447.7 2020.1 442.2 2015.1 438.1 2006.3C434.1 1997.6 430.0 1983.6 429.0 1971.4C428.1 1959.2 429.6 1945.2 432.5 1933.0C435.5 1920.7 440.4 1908.4 446.5 1898.0C452.7 1887.6 462.1 1872.5 469.7 1870.7Z" fill="#98ff68"/><path d="M471.1 1884.7C477.4 1883.7 484.2 1895.4 488.6 1901.5C492.9 1907.6 496.5 1906.6 497.0 1921.1C497.4 1935.5 495.1 1972.4 491.4 1988.2C487.6 2003.9 481.3 2009.8 474.6 2015.4C467.8 2021.0 456.9 2024.9 450.7 2021.7C444.6 2018.6 439.7 2007.7 437.4 1996.6C435.2 1985.4 435.2 1969.4 437.4 1954.6C439.7 1939.8 445.1 1919.4 450.7 1907.8C456.4 1896.1 464.8 1885.8 471.1 1884.7Z" fill="#ffd800"/><path d="M471.1 1899.4C476.2 1897.2 481.7 1909.8 483.7 1924.6C485.6 1939.4 485.6 1974.2 483.0 1988.2C480.3 2002.2 472.9 2004.8 467.6 2008.4C462.2 2012.1 454.4 2014.6 450.7 2009.8C447.1 2005.1 445.5 1991.8 445.8 1979.8C446.2 1967.8 448.6 1951.2 452.8 1937.8C457.1 1924.4 465.9 1901.6 471.1 1899.4Z" fill="#ff5a00"/><path d="M467.6 1934.3C470.9 1934.3 474.0 1945.1 474.6 1954.6C475.1 1964.2 473.6 1983.9 471.1 1991.7C468.5 1999.5 462.5 2002.0 459.2 2001.5C455.8 2000.9 451.6 1996.0 450.7 1988.2C449.9 1980.4 451.4 1963.6 454.3 1954.6C457.1 1945.6 464.2 1934.3 467.6 1934.3Z" fill="#c00000"/><path d="M473.2 2045.5C478.1 2050.6 484.0 2062.0 486.5 2072.1C488.9 2082.1 488.7 2092.9 487.9 2105.6C487.0 2118.3 485.4 2137.5 481.6 2148.2C477.7 2159.0 471.8 2164.9 464.8 2169.9C457.8 2174.9 447.9 2178.3 439.5 2178.3C431.1 2178.3 420.2 2176.4 414.3 2169.9C408.5 2163.4 405.0 2151.9 404.5 2139.2C404.1 2126.5 406.9 2107.7 411.5 2093.7C416.2 2079.7 425.0 2064.0 432.5 2055.3C440.1 2046.5 450.3 2042.9 457.1 2041.3C463.8 2039.7 468.3 2040.4 473.2 2045.5Z" fill="#98ff68"/><path d="M447.9 2053.9C453.9 2054.7 468.1 2055.0 473.2 2063.7C478.2 2072.3 478.6 2091.5 478.1 2105.6C477.5 2119.7 474.7 2138.7 469.7 2148.2C464.6 2157.8 455.2 2161.5 447.9 2162.9C440.7 2164.3 431.8 2163.3 426.2 2156.6C420.6 2150.0 414.7 2135.8 414.3 2123.1C414.0 2110.4 420.3 2091.2 424.1 2080.4C428.0 2069.7 433.5 2063.2 437.4 2058.8C441.4 2054.3 442.0 2053.1 447.9 2053.9Z" fill="#ffcc00"/><path d="M447.9 2059.5C453.8 2059.0 463.9 2061.6 467.6 2069.3C471.2 2076.9 470.7 2093.8 469.7 2105.6C468.6 2117.4 465.5 2132.5 461.3 2139.9C457.1 2147.2 450.0 2149.6 444.4 2149.6C438.8 2149.6 431.0 2147.2 427.6 2139.9C424.3 2132.5 423.3 2116.9 424.1 2105.6C425.0 2094.3 428.6 2079.7 432.5 2072.1C436.5 2064.4 442.1 2059.9 447.9 2059.5Z" fill="#ff4800"/><path d="M450.7 2074.1C454.4 2072.5 458.0 2075.8 459.2 2082.5C460.3 2089.3 459.6 2107.1 457.8 2114.7C455.9 2122.3 451.3 2127.2 447.9 2128.0C444.6 2128.8 439.2 2125.5 437.4 2119.6C435.7 2113.6 435.2 2099.9 437.4 2092.3C439.7 2084.7 447.1 2075.8 450.7 2074.1Z" fill="#b00000"/><ellipse cx="462.0" cy="1967.9" rx="8.4" ry="21.0" fill="#900000"/><ellipse cx="446.5" cy="2105.6" rx="8.4" ry="21.0" fill="#880000"/></g><g fill="none" stroke="#ff1010" stroke-width="3"><path d="M96.5 1905.0C102.3 1905.0 111.3 1905.9 131.5 1905.0C151.7 1904.1 189.6 1898.0 217.6 1899.4C245.6 1900.8 276.8 1912.9 299.5 1913.4C322.3 1913.8 339.6 1901.5 354.1 1902.2C368.7 1902.9 379.0 1914.5 387.0 1917.6C395.1 1920.6 396.6 1921.5 402.4 1920.4C408.3 1919.2 416.4 1914.9 422.0 1910.6C427.6 1906.3 431.7 1899.7 436.0 1894.5C440.4 1889.3 442.3 1883.1 447.9 1879.1C453.6 1875.2 462.3 1869.3 469.7 1870.7C477.0 1872.1 486.2 1879.1 492.1 1887.5C497.9 1895.9 502.8 1907.1 504.7 1921.1C506.5 1935.0 506.3 1955.4 503.3 1971.4C500.2 1987.4 491.5 2007.0 486.5 2016.8C481.4 2026.6 476.0 2026.7 473.2 2030.1C470.4 2033.5 469.7 2034.5 469.7 2037.1C469.7 2039.7 470.4 2039.7 473.2 2045.5C476.0 2051.3 484.0 2062.0 486.5 2072.1C488.9 2082.1 488.7 2092.9 487.9 2105.6C487.0 2118.3 485.4 2137.5 481.6 2148.2C477.7 2159.0 471.8 2164.9 464.8 2169.9C457.8 2174.9 447.9 2178.3 439.5 2178.3C431.1 2178.3 421.3 2174.7 414.3 2169.9C407.3 2165.1 402.3 2156.6 397.5 2149.6C392.8 2142.7 389.6 2135.2 385.6 2128.0C381.7 2120.7 378.8 2110.8 373.7 2106.3C368.7 2101.8 362.8 2101.1 355.5 2100.7C348.3 2100.4 339.7 2103.3 330.3 2104.2C321.0 2105.1 318.3 2106.0 299.5 2106.3C280.7 2106.7 242.1 2105.1 217.6 2106.3C193.1 2107.5 172.7 2111.4 152.5 2113.3C132.3 2115.2 105.8 2116.8 96.5 2117.5"/><path d="M471.1 1884.7C477.4 1883.7 484.2 1895.4 488.6 1901.5C492.9 1907.6 496.5 1906.6 497.0 1921.1C497.4 1935.5 495.1 1972.4 491.4 1988.2C487.6 2003.9 481.3 2009.8 474.6 2015.4C467.8 2021.0 456.9 2024.9 450.7 2021.7C444.6 2018.6 439.7 2007.7 437.4 1996.6C435.2 1985.4 435.2 1969.4 437.4 1954.6C439.7 1939.8 445.1 1919.4 450.7 1907.8C456.4 1896.1 464.8 1885.8 471.1 1884.7Z"/><path d="M471.1 1899.4C476.2 1897.2 481.7 1909.8 483.7 1924.6C485.6 1939.4 485.6 1974.2 483.0 1988.2C480.3 2002.2 472.9 2004.8 467.6 2008.4C462.2 2012.1 454.4 2014.6 450.7 2009.8C447.1 2005.1 445.5 1991.8 445.8 1979.8C446.2 1967.8 448.6 1951.2 452.8 1937.8C457.1 1924.4 465.9 1901.6 471.1 1899.4Z"/><path d="M467.6 1934.3C470.9 1934.3 474.0 1945.1 474.6 1954.6C475.1 1964.2 473.6 1983.9 471.1 1991.7C468.5 1999.5 462.5 2002.0 459.2 2001.5C455.8 2000.9 451.6 1996.0 450.7 1988.2C449.9 1980.4 451.4 1963.6 454.3 1954.6C457.1 1945.6 464.2 1934.3 467.6 1934.3Z"/><path d="M447.9 2053.9C453.9 2054.7 468.1 2055.0 473.2 2063.7C478.2 2072.3 478.6 2091.5 478.1 2105.6C477.5 2119.7 474.7 2138.7 469.7 2148.2C464.6 2157.8 455.2 2161.5 447.9 2162.9C440.7 2164.3 431.8 2163.3 426.2 2156.6C420.6 2150.0 414.7 2135.8 414.3 2123.1C414.0 2110.4 420.3 2091.2 424.1 2080.4C428.0 2069.7 433.5 2063.2 437.4 2058.8C441.4 2054.3 442.0 2053.1 447.9 2053.9Z"/><path d="M447.9 2059.5C453.8 2059.0 463.9 2061.6 467.6 2069.3C471.2 2076.9 470.7 2093.8 469.7 2105.6C468.6 2117.4 465.5 2132.5 461.3 2139.9C457.1 2147.2 450.0 2149.6 444.4 2149.6C438.8 2149.6 431.0 2147.2 427.6 2139.9C424.3 2132.5 423.3 2116.9 424.1 2105.6C425.0 2094.3 428.6 2079.7 432.5 2072.1C436.5 2064.4 442.1 2059.9 447.9 2059.5Z"/><path d="M450.7 2074.1C454.4 2072.5 458.0 2075.8 459.2 2082.5C460.3 2089.3 459.6 2107.1 457.8 2114.7C455.9 2122.3 451.3 2127.2 447.9 2128.0C444.6 2128.8 439.2 2125.5 437.4 2119.6C435.7 2113.6 435.2 2099.9 437.4 2092.3C439.7 2084.7 447.1 2075.8 450.7 2074.1Z"/><path d="M217.6 2051.8C227.7 2043.6 249.0 2016.9 261.7 2008.4C274.4 1999.9 286.2 1999.8 293.9 2000.8C301.6 2001.7 306.1 2005.5 307.9 2014.0C309.8 2022.5 313.8 2041.8 305.1 2051.8C296.5 2061.8 270.7 2070.0 256.1 2074.1C241.5 2078.3 230.3 2076.0 217.6 2076.9C204.9 2077.9 187.0 2081.1 179.8 2079.7C172.6 2078.3 170.6 2072.3 174.2 2068.6C177.8 2064.8 194.3 2060.2 201.5 2057.4C208.7 2054.6 207.6 2059.9 217.6 2051.8Z"/><path d="M313.5 1775.7C319.4 1769.0 332.2 1762.0 341.5 1760.3C350.9 1758.5 361.1 1760.9 369.5 1765.2C377.9 1769.5 388.0 1778.6 391.9 1786.2C395.9 1793.7 395.3 1802.5 393.3 1810.6C391.4 1818.8 385.2 1828.3 380.0 1835.1C374.9 1841.8 370.1 1849.1 362.5 1851.2C355.0 1853.3 343.3 1851.5 334.5 1847.7C325.8 1843.8 314.7 1836.0 310.0 1828.1C305.4 1820.2 305.9 1808.9 306.5 1800.1C307.1 1791.4 307.7 1782.3 313.5 1775.7Z"/><path d="M198.0 1751.2C202.7 1746.9 219.0 1738.0 229.5 1733.7C240.0 1729.4 253.1 1724.8 261.0 1725.3C269.0 1725.9 274.2 1731.8 277.1 1737.2C280.0 1742.7 283.0 1754.0 278.5 1758.2C274.1 1762.4 259.9 1761.9 250.5 1762.4C241.2 1762.9 230.7 1761.5 222.5 1761.0C214.3 1760.5 205.6 1761.2 201.5 1759.6C197.4 1758.0 193.3 1755.5 198.0 1751.2Z"/><ellipse cx="296.0" cy="1962.3" rx="11" ry="8"/></g><path d="M507.5 1688.3L390.5 2387.3" stroke="#ffff00" stroke-width="3.4" stroke-dasharray="13.5 6"/><ellipse cx="174.3" cy="2317.8" rx="17.4" ry="15" fill="#ff0000"/><rect x="713.8" y="2177.5" width="5.2" height="141.7" fill="#ff1a1a"/></g><path d="M442.6 2026.5 448.6 2032.5 454.6 2026.5 460.6 2032.5 454.6 2038.5 460.6 2044.5 454.6 2050.5 448.6 2044.5 442.6 2050.5 436.6 2044.5 442.6 2038.5 436.6 2032.5Z" fill="#ff00ff" stroke="#fff" stroke-width="5" paint-order="stroke" stroke-linejoin="miter"/><text x="173" y="1776.7" font-size="47" text-anchor="start" font-weight="bold" fill="#fff" font-family="'DejaVu Sans', 'Liberation Sans', sans-serif">(a) SiO</text><text x="776" y="2248.3" font-size="47" text-anchor="middle" fill="#f01818" transform="rotate(-90 776 2248.3)" font-family="'DejaVu Sans', 'Liberation Sans', sans-serif">800 AU</text><rect x="103.5" y="1688.3" width="700.1" height="699" fill="none" stroke="#000" stroke-width="2.9"/><path d="M117.5 2387.3v-7.4M145.51 2387.3v-7.4M201.51 2387.3v-7.4M229.52 2387.3v-7.4M257.52 2387.3v-7.4M285.53 2387.3v-7.4M341.53 2387.3v-7.4M369.54 2387.3v-7.4M397.54 2387.3v-7.4M425.55 2387.3v-7.4M481.55 2387.3v-7.4M509.56 2387.3v-7.4M537.56 2387.3v-7.4M565.57 2387.3v-7.4M621.57 2387.3v-7.4M649.58 2387.3v-7.4M677.58 2387.3v-7.4M705.59 2387.3v-7.4M761.59 2387.3v-7.4M789.6 2387.3v-7.4" stroke="#000" stroke-width="1.8" fill="none"/><path d="M173.51 2387.3v-19M313.53 2387.3v-19M453.55 2387.3v-19M593.57 2387.3v-19M733.59 2387.3v-19" stroke="#000" stroke-width="1.8" fill="none"/><path d="M103.5 2373.32h7.4M103.5 2345.36h7.4M103.5 2289.44h7.4M103.5 2261.48h7.4M103.5 2233.52h7.4M103.5 2205.56h7.4M103.5 2149.64h7.4M103.5 2121.68h7.4M103.5 2093.72h7.4M103.5 2065.76h7.4M103.5 2009.84h7.4M103.5 1981.88h7.4M103.5 1953.92h7.4M103.5 1925.96h7.4M103.5 1870.04h7.4M103.5 1842.08h7.4M103.5 1814.12h7.4M103.5 1786.16h7.4M103.5 1730.24h7.4M103.5 1702.28h7.4" stroke="#000" stroke-width="1.8" fill="none"/><path d="M103.5 2317.4h19M103.5 2177.6h19M103.5 2037.8h19M103.5 1898h19M103.5 1758.2h19" stroke="#000" stroke-width="1.8" fill="none"/><path d="M117.5 1688.3v7.4M145.51 1688.3v7.4M201.51 1688.3v7.4M229.52 1688.3v7.4M257.52 1688.3v7.4M285.53 1688.3v7.4M341.53 1688.3v7.4M369.54 1688.3v7.4M397.54 1688.3v7.4M425.55 1688.3v7.4M481.55 1688.3v7.4M509.56 1688.3v7.4M537.56 1688.3v7.4M565.57 1688.3v7.4M621.57 1688.3v7.4M649.58 1688.3v7.4M677.58 1688.3v7.4M705.59 1688.3v7.4M761.59 1688.3v7.4M789.6 1688.3v7.4" stroke="#000" stroke-width="1.8" fill="none"/><path d="M173.51 1688.3v19M313.53 1688.3v19M453.55 1688.3v19M593.57 1688.3v19M733.59 1688.3v19" stroke="#000" stroke-width="1.8" fill="none"/><path d="M803.6 2373.32h-7.4M803.6 2345.36h-7.4M803.6 2289.44h-7.4M803.6 2261.48h-7.4M803.6 2233.52h-7.4M803.6 2205.56h-7.4M803.6 2149.64h-7.4M803.6 2121.68h-7.4M803.6 2093.72h-7.4M803.6 2065.76h-7.4M803.6 2009.84h-7.4M803.6 1981.88h-7.4M803.6 1953.92h-7.4M803.6 1925.96h-7.4M803.6 1870.04h-7.4M803.6 1842.08h-7.4M803.6 1814.12h-7.4M803.6 1786.16h-7.4M803.6 1730.24h-7.4M803.6 1702.28h-7.4" stroke="#000" stroke-width="1.8" fill="none"/><path d="M803.6 2317.4h-19M803.6 2177.6h-19M803.6 2037.8h-19M803.6 1898h-19M803.6 1758.2h-19" stroke="#000" stroke-width="1.8" fill="none"/><text x="173.51" y="2422.7" font-size="30" text-anchor="middle" fill="#000" font-family="'DejaVu Sans', 'Liberation Sans', sans-serif">-4</text><text x="92.6" y="2328.3" font-size="30" text-anchor="end" fill="#000" font-family="'DejaVu Sans', 'Liberation Sans', sans-serif">-4</text><text x="313.53" y="2422.7" font-size="30" text-anchor="middle" fill="#000" font-family="'DejaVu Sans', 'Liberation Sans', sans-serif">-2</text><text x="92.6" y="2188.5" font-size="30" text-anchor="end" fill="#000" font-family="'DejaVu Sans', 'Liberation Sans', sans-serif">-2</text><text x="453.55" y="2422.7" font-size="30" text-anchor="middle" fill="#000" font-family="'DejaVu Sans', 'Liberation Sans', sans-serif">0</text><text x="92.6" y="2048.7" font-size="30" text-anchor="end" fill="#000" font-family="'DejaVu Sans', 'Liberation Sans', sans-serif">0</text><text x="593.57" y="2422.7" font-size="30" text-anchor="middle" fill="#000" font-family="'DejaVu Sans', 'Liberation Sans', sans-serif">2</text><text x="92.6" y="1908.9" font-size="30" text-anchor="end" fill="#000" font-family="'DejaVu Sans', 'Liberation Sans', sans-serif">2</text><text x="733.59" y="2422.7" font-size="30" text-anchor="middle" fill="#000" font-family="'DejaVu Sans', 'Liberation Sans', sans-serif">4</text><text x="92.6" y="1769.1" font-size="30" text-anchor="end" fill="#000" font-family="'DejaVu Sans', 'Liberation Sans', sans-serif">4</text><text x="452" y="2467.3" font-size="30" text-anchor="middle" fill="#000" font-family="'DejaVu Sans', 'Liberation Sans', sans-serif">Δ<tspan font-style="italic">α</tspan> (")</text><text x="39" y="2041" font-size="30" text-anchor="middle" fill="#000" transform="rotate(-90 39 2041)" font-family="'DejaVu Sans', 'Liberation Sans', sans-serif">Δ<tspan font-style="italic">δ</tspan> (")</text><rect x="804.6" y="1688.3" width="17.4" height="700.0" fill="url(#jet)" stroke="#000" stroke-width="2.4"/><path d="M822 1717.1h11M822 1760.4h11M822 1807.0h11M822 1857.6h11M822 1913.7h11M822 1977.2h11M822 2052.7h11M822 2151.0h11M822 2388.3h11" stroke="#000" stroke-width="1.8"/><text x="843.3" y="1728.9" font-size="32.5" text-anchor="start" fill="#000" font-family="'DejaVu Sans', 'Liberation Sans', sans-serif">160</text><text x="843.3" y="1772.25" font-size="32.5" text-anchor="start" fill="#000" font-family="'DejaVu Sans', 'Liberation Sans', sans-serif">140</text><text x="843.3" y="1818.83" font-size="32.5" text-anchor="start" fill="#000" font-family="'DejaVu Sans', 'Liberation Sans', sans-serif">120</text><text x="843.3" y="1869.48" font-size="32.5" text-anchor="start" fill="#000" font-family="'DejaVu Sans', 'Liberation Sans', sans-serif">100</text><text x="843.3" y="1925.51" font-size="32.5" text-anchor="start" fill="#000" font-family="'DejaVu Sans', 'Liberation Sans', sans-serif">80</text><text x="843.3" y="1989.1" font-size="32.5" text-anchor="start" fill="#000" font-family="'DejaVu Sans', 'Liberation Sans', sans-serif">60</text><text x="843.3" y="2064.53" font-size="32.5" text-anchor="start" fill="#000" font-family="'DejaVu Sans', 'Liberation Sans', sans-serif">40</text><text x="843.3" y="2162.83" font-size="32.5" text-anchor="start" fill="#000" font-family="'DejaVu Sans', 'Liberation Sans', sans-serif">20</text><text x="843.3" y="2400.15" font-size="32.5" text-anchor="start" fill="#000" font-family="'DejaVu Sans', 'Liberation Sans', sans-serif">0</text><text x="942.5" y="2037.2" font-size="31.6" text-anchor="middle" fill="#000" transform="rotate(-90 942.5 2037.2)" font-family="'DejaVu Sans', 'Liberation Sans', sans-serif">(K km/s)</text><g clip-path="url(#clipF)"><rect x="1027" y="1709" width="672.8" height="672.8000000000002" fill="#00007f"/><rect x="1027" y="1709" width="672.8" height="672.8000000000002" filter="url(#noiseF)"/><g filter="url(#blurF)"><path d="M1510.6 2196.3C1498.3 2198.7 1493.6 2198.5 1481.1 2197.2C1468.7 2195.8 1451.3 2190.5 1435.9 2188.0C1420.5 2185.6 1401.4 2183.3 1388.6 2182.6C1375.8 2181.9 1366.6 2184.1 1359.2 2183.8C1351.8 2183.6 1348.7 2182.8 1344.5 2181.1C1340.3 2179.5 1337.4 2177.2 1334.0 2174.0C1330.5 2170.8 1326.1 2165.2 1323.8 2161.8C1321.5 2158.4 1321.5 2158.1 1320.1 2153.7C1318.7 2149.3 1316.7 2143.3 1315.5 2135.6C1314.3 2127.8 1314.1 2114.5 1312.9 2107.2C1311.8 2099.9 1311.2 2097.2 1308.7 2091.6C1306.3 2086.1 1301.4 2077.5 1298.2 2073.8C1295.0 2070.0 1299.5 2072.4 1289.7 2068.9C1279.8 2065.5 1250.2 2058.0 1239.4 2053.3C1228.5 2048.6 1228.2 2044.1 1224.8 2040.7C1221.3 2037.2 1222.1 2040.3 1218.9 2032.6C1215.7 2025.0 1209.3 2003.8 1205.7 1994.8C1202.1 1985.7 1201.7 1984.3 1197.3 1978.2C1192.9 1972.0 1183.2 1963.0 1179.4 1957.9C1175.7 1952.9 1175.7 1951.9 1174.8 1947.8C1174.0 1943.8 1174.0 1938.8 1174.3 1933.7C1174.7 1928.7 1174.7 1923.0 1177.0 1917.6C1179.2 1912.2 1183.7 1906.2 1187.8 1901.4C1191.9 1896.6 1194.3 1893.2 1201.5 1888.7C1208.7 1884.1 1218.0 1878.1 1230.9 1874.1C1243.9 1870.0 1268.1 1866.1 1279.3 1864.4C1290.5 1862.7 1287.0 1862.5 1298.2 1864.0C1309.4 1865.6 1336.4 1871.4 1346.6 1873.8C1356.7 1876.3 1352.5 1872.2 1359.2 1878.8C1365.9 1885.4 1379.1 1902.7 1386.9 1913.5C1394.8 1924.4 1401.2 1933.7 1406.3 1943.8C1411.4 1953.9 1414.1 1962.8 1417.5 1974.1C1420.8 1985.4 1423.4 2002.8 1426.5 2011.6C1429.6 2020.3 1430.1 2021.5 1436.0 2026.6C1442.0 2031.6 1454.5 2036.5 1462.2 2041.9C1469.9 2047.3 1474.9 2053.7 1482.2 2058.9C1489.5 2064.0 1497.4 2069.1 1505.9 2073.0C1514.5 2076.9 1523.5 2078.3 1533.7 2082.2C1543.9 2086.0 1558.9 2091.0 1567.3 2096.2C1575.8 2101.4 1581.2 2108.5 1584.6 2113.4C1588.1 2118.2 1587.5 2121.4 1588.0 2125.5C1588.5 2129.5 1589.0 2131.9 1587.7 2137.6C1586.4 2143.3 1583.1 2154.1 1580.3 2159.8C1577.6 2165.5 1573.6 2168.9 1571.1 2171.9C1568.6 2174.9 1568.0 2176.0 1565.2 2177.7C1562.5 2179.5 1563.8 2179.4 1554.7 2182.5C1545.6 2185.6 1522.8 2193.8 1510.6 2196.3Z" fill="#0040e0"/><path d="M1508.5 2186.3C1499.0 2187.9 1493.8 2187.7 1485.3 2186.7C1476.9 2185.7 1466.1 2181.6 1458.0 2180.2C1450.0 2178.8 1448.6 2179.0 1437.0 2178.2C1425.4 2177.4 1400.9 2175.6 1388.6 2175.3C1376.4 2175.1 1370.1 2177.2 1363.4 2176.9C1356.7 2176.7 1352.5 2175.3 1348.7 2173.9C1344.8 2172.6 1343.7 2172.7 1340.3 2169.0C1336.9 2165.3 1331.2 2157.9 1328.4 2151.7C1325.6 2145.5 1324.3 2137.6 1323.4 2131.5C1322.4 2125.5 1323.7 2122.6 1322.7 2115.4C1321.6 2108.2 1319.9 2096.4 1317.1 2088.3C1314.4 2080.2 1309.3 2071.5 1306.2 2066.9C1303.0 2062.4 1308.3 2065.3 1298.2 2061.0C1288.1 2056.7 1256.7 2046.9 1245.7 2041.2C1234.6 2035.5 1236.2 2035.1 1232.0 2026.6C1227.7 2018.1 1223.7 2000.0 1220.1 1990.2C1216.4 1980.5 1214.7 1975.8 1210.1 1968.0C1205.6 1960.3 1195.9 1948.9 1192.9 1943.8C1189.9 1938.8 1191.9 1941.1 1192.2 1937.8C1192.5 1934.4 1192.8 1928.3 1194.8 1923.6C1196.8 1918.9 1201.6 1913.0 1204.4 1909.5C1207.3 1906.0 1206.6 1906.0 1212.0 1902.5C1217.5 1899.0 1225.3 1892.8 1237.2 1888.4C1249.2 1884.0 1273.7 1878.3 1283.5 1876.2C1293.3 1874.0 1287.4 1874.7 1296.1 1875.5C1304.9 1876.3 1327.3 1879.7 1336.1 1881.1C1344.8 1882.5 1345.5 1882.8 1348.7 1883.9C1351.8 1884.9 1349.7 1881.7 1355.1 1887.3C1360.4 1892.9 1373.5 1907.5 1381.0 1917.6C1388.5 1927.7 1395.1 1937.8 1400.0 1947.8C1404.9 1957.9 1407.3 1967.0 1410.3 1978.1C1413.3 1989.2 1415.1 2005.4 1418.2 2014.5C1421.2 2023.5 1422.3 2026.6 1428.6 2032.6C1434.9 2038.6 1447.5 2044.0 1455.9 2050.3C1464.3 2056.7 1470.6 2065.1 1479.0 2070.7C1487.4 2076.2 1497.6 2080.4 1506.4 2083.7C1515.1 2087.0 1522.5 2087.5 1531.6 2090.7C1540.7 2093.8 1553.6 2098.2 1561.0 2102.6C1568.5 2107.1 1573.3 2113.3 1576.3 2117.4C1579.3 2121.5 1578.6 2124.5 1579.0 2127.5C1579.4 2130.5 1579.8 2130.8 1578.6 2135.6C1577.4 2140.3 1574.3 2150.6 1571.8 2155.7C1569.2 2160.9 1565.6 2164.0 1563.1 2166.5C1560.6 2169.1 1560.3 2169.4 1556.8 2171.1C1553.3 2172.9 1550.2 2174.6 1542.1 2177.1C1534.1 2179.6 1517.9 2184.7 1508.5 2186.3Z" fill="#0098ff"/><path d="M1508.5 2178.3C1500.1 2179.4 1496.2 2179.5 1487.4 2178.0C1478.7 2176.5 1476.6 2170.1 1455.9 2169.2C1435.2 2168.3 1380.9 2172.6 1363.4 2172.7C1345.9 2172.8 1354.0 2170.8 1350.8 2169.7C1347.6 2168.5 1346.5 2168.2 1344.1 2165.8C1341.6 2163.5 1337.9 2158.8 1335.9 2155.7C1334.0 2152.7 1333.7 2152.0 1332.4 2147.7C1331.1 2143.3 1329.0 2134.9 1328.3 2129.5C1327.5 2124.1 1328.7 2122.4 1327.8 2115.4C1327.0 2108.3 1325.7 2096.0 1323.2 2087.1C1320.7 2078.2 1316.0 2067.4 1312.9 2062.0C1309.8 2056.7 1314.7 2060.5 1304.5 2055.0C1294.4 2049.5 1262.0 2035.0 1252.0 2029.2C1241.9 2023.5 1248.8 2032.1 1244.3 2020.5C1239.7 2008.9 1229.9 1973.5 1224.6 1959.7C1219.4 1945.9 1214.4 1942.8 1212.6 1937.8C1210.8 1932.7 1212.7 1932.4 1213.7 1929.7C1214.7 1927.0 1214.1 1925.8 1218.7 1921.6C1223.3 1917.4 1230.0 1910.4 1241.5 1904.6C1253.0 1898.8 1272.3 1889.6 1287.7 1886.8C1303.1 1884.0 1324.2 1887.2 1334.0 1887.7C1343.8 1888.2 1343.4 1888.8 1346.6 1889.8C1349.8 1890.7 1347.9 1888.4 1353.1 1893.3C1358.3 1898.3 1370.8 1910.5 1377.9 1919.6C1385.0 1928.7 1391.1 1938.4 1395.7 1947.8C1400.3 1957.3 1402.3 1964.3 1405.3 1976.1C1408.2 1987.9 1411.2 2009.7 1413.3 2018.5C1415.3 2027.2 1415.6 2025.2 1417.6 2028.6C1419.6 2031.9 1419.9 2034.0 1425.4 2038.7C1430.9 2043.4 1442.7 2050.0 1450.6 2056.8C1458.5 2063.7 1457.1 2072.3 1472.7 2079.6C1488.3 2087.0 1529.5 2096.0 1544.2 2100.9C1558.9 2105.8 1556.7 2105.9 1561.0 2109.0C1565.4 2112.1 1568.4 2116.0 1570.4 2119.4C1572.3 2122.8 1572.7 2126.5 1572.9 2129.5C1573.1 2132.5 1572.8 2133.9 1571.7 2137.6C1570.6 2141.3 1568.7 2147.8 1566.5 2151.7C1564.4 2155.6 1561.3 2158.8 1558.9 2161.2C1556.5 2163.5 1555.6 2164.1 1552.1 2165.8C1548.6 2167.5 1545.2 2169.3 1537.9 2171.4C1530.6 2173.4 1516.9 2177.2 1508.5 2178.3Z" fill="#00d0ff"/></g><g filter="url(#blurF2)"><ellipse cx="1224.6" cy="1964.7" rx="37.9" ry="60.6" fill="#60ff90"/><ellipse cx="1270.9" cy="1951.2" rx="37.9" ry="53.8" fill="#40ffc0"/><ellipse cx="1312.9" cy="1957.9" rx="25.3" ry="53.8" fill="#30f0e0"/><ellipse cx="1212.0" cy="1937.8" rx="21.1" ry="30.3" fill="#ffe000"/><ellipse cx="1233.0" cy="1978.1" rx="21.1" ry="50.5" fill="#ffa000"/><ellipse cx="1258.3" cy="1964.7" rx="25.3" ry="40.4" fill="#c0ff40"/><ellipse cx="1237.2" cy="1968.0" rx="10.9" ry="20.2" fill="#e02000"/><ellipse cx="1241.5" cy="2008.4" rx="13.5" ry="20.2" fill="#c00000"/><ellipse cx="1216.2" cy="1931.0" rx="12.6" ry="16.8" fill="#ffc000"/><ellipse cx="1346.6" cy="1971.4" rx="14.7" ry="40.4" fill="#0090ff"/><ellipse cx="1270.9" cy="1890.7" rx="63.1" ry="14.8" fill="#0018b0"/><ellipse cx="1203.6" cy="1907.5" rx="21.1" ry="12.1" fill="#0030d0"/><ellipse cx="1384.4" cy="1957.9" rx="14.7" ry="53.8" fill="#0028c8"/><ellipse cx="1397.0" cy="2005.0" rx="12.6" ry="20.2" fill="#0040e0"/><ellipse cx="1329.8" cy="1904.1" rx="21.1" ry="13.5" fill="#0030c0"/><ellipse cx="1388.6" cy="2112.7" rx="25.3" ry="47.1" fill="#40ffc0"/><ellipse cx="1439.1" cy="2112.7" rx="33.7" ry="37.0" fill="#a0ff60"/><ellipse cx="1481.1" cy="2129.5" rx="33.7" ry="26.9" fill="#c8ff40"/><ellipse cx="1531.6" cy="2132.9" rx="25.3" ry="16.8" fill="#ffc000"/><ellipse cx="1540.0" cy="2132.9" rx="10.5" ry="13.5" fill="#ff9000"/><ellipse cx="1413.9" cy="2153.0" rx="33.7" ry="20.2" fill="#40ffc0"/><ellipse cx="1455.9" cy="2092.5" rx="21.1" ry="20.2" fill="#60ffa0"/><ellipse cx="1371.8" cy="2132.9" rx="12.6" ry="40.4" fill="#80ff80"/></g><g fill="none" stroke="#ff0a0a" stroke-width="3"><path d="M1510.6 2196.3C1498.3 2198.7 1493.6 2198.5 1481.1 2197.2C1468.7 2195.8 1451.3 2190.5 1435.9 2188.0C1420.5 2185.6 1401.4 2183.3 1388.6 2182.6C1375.8 2181.9 1366.6 2184.1 1359.2 2183.8C1351.8 2183.6 1348.7 2182.8 1344.5 2181.1C1340.3 2179.5 1337.4 2177.2 1334.0 2174.0C1330.5 2170.8 1326.1 2165.2 1323.8 2161.8C1321.5 2158.4 1321.5 2158.1 1320.1 2153.7C1318.7 2149.3 1316.7 2143.3 1315.5 2135.6C1314.3 2127.8 1314.1 2114.5 1312.9 2107.2C1311.8 2099.9 1311.2 2097.2 1308.7 2091.6C1306.3 2086.1 1301.4 2077.5 1298.2 2073.8C1295.0 2070.0 1299.5 2072.4 1289.7 2068.9C1279.8 2065.5 1250.2 2058.0 1239.4 2053.3C1228.5 2048.6 1228.2 2044.1 1224.8 2040.7C1221.3 2037.2 1222.1 2040.3 1218.9 2032.6C1215.7 2025.0 1209.3 2003.8 1205.7 1994.8C1202.1 1985.7 1201.7 1984.3 1197.3 1978.2C1192.9 1972.0 1183.2 1963.0 1179.4 1957.9C1175.7 1952.9 1175.7 1951.9 1174.8 1947.8C1174.0 1943.8 1174.0 1938.8 1174.3 1933.7C1174.7 1928.7 1174.7 1923.0 1177.0 1917.6C1179.2 1912.2 1183.7 1906.2 1187.8 1901.4C1191.9 1896.6 1194.3 1893.2 1201.5 1888.7C1208.7 1884.1 1218.0 1878.1 1230.9 1874.1C1243.9 1870.0 1268.1 1866.1 1279.3 1864.4C1290.5 1862.7 1287.0 1862.5 1298.2 1864.0C1309.4 1865.6 1336.4 1871.4 1346.6 1873.8C1356.7 1876.3 1352.5 1872.2 1359.2 1878.8C1365.9 1885.4 1379.1 1902.7 1386.9 1913.5C1394.8 1924.4 1401.2 1933.7 1406.3 1943.8C1411.4 1953.9 1414.1 1962.8 1417.5 1974.1C1420.8 1985.4 1423.4 2002.8 1426.5 2011.6C1429.6 2020.3 1430.1 2021.5 1436.0 2026.6C1442.0 2031.6 1454.5 2036.5 1462.2 2041.9C1469.9 2047.3 1474.9 2053.7 1482.2 2058.9C1489.5 2064.0 1497.4 2069.1 1505.9 2073.0C1514.5 2076.9 1523.5 2078.3 1533.7 2082.2C1543.9 2086.0 1558.9 2091.0 1567.3 2096.2C1575.8 2101.4 1581.2 2108.5 1584.6 2113.4C1588.1 2118.2 1587.5 2121.4 1588.0 2125.5C1588.5 2129.5 1589.0 2131.9 1587.7 2137.6C1586.4 2143.3 1583.1 2154.1 1580.3 2159.8C1577.6 2165.5 1573.6 2168.9 1571.1 2171.9C1568.6 2174.9 1568.0 2176.0 1565.2 2177.7C1562.5 2179.5 1563.8 2179.4 1554.7 2182.5C1545.6 2185.6 1522.8 2193.8 1510.6 2196.3Z"/><path d="M1508.5 2188.5C1499.0 2190.2 1493.8 2189.9 1485.3 2189.0C1476.9 2188.0 1473.8 2184.9 1458.0 2182.8C1442.2 2180.8 1406.5 2177.4 1390.7 2176.7C1375.0 2175.9 1370.8 2178.5 1363.4 2178.1C1356.0 2177.8 1350.6 2176.1 1346.6 2174.7C1342.5 2173.4 1342.0 2172.7 1339.1 2169.9C1336.3 2167.0 1331.5 2160.8 1329.4 2157.8C1327.4 2154.7 1328.0 2155.7 1326.8 2151.7C1325.6 2147.7 1323.1 2139.4 1322.2 2133.5C1321.3 2127.7 1322.5 2123.8 1321.3 2116.4C1320.2 2109.0 1318.4 2097.1 1315.6 2089.1C1312.8 2081.1 1307.6 2072.7 1304.5 2068.3C1301.5 2063.9 1307.3 2067.0 1297.1 2062.9C1287.0 2058.8 1254.9 2049.5 1243.6 2043.8C1232.2 2038.1 1233.6 2037.2 1229.1 2028.6C1224.7 2020.0 1220.7 2002.0 1216.9 1992.2C1213.1 1982.5 1210.9 1976.9 1206.6 1970.0C1202.2 1963.2 1194.1 1955.3 1191.0 1950.9C1187.9 1946.6 1188.0 1948.7 1187.9 1943.8C1187.8 1938.9 1188.2 1927.7 1190.2 1921.6C1192.3 1915.5 1196.8 1911.3 1200.0 1907.5C1203.3 1903.6 1204.1 1902.3 1209.9 1898.5C1215.8 1894.8 1222.9 1889.2 1235.1 1885.0C1247.4 1880.8 1273.3 1875.4 1283.5 1873.4C1293.7 1871.4 1287.4 1871.9 1296.1 1872.9C1304.9 1873.9 1327.0 1877.7 1336.1 1879.3C1345.2 1880.9 1347.3 1881.4 1350.8 1882.7C1354.3 1884.0 1351.8 1881.1 1357.1 1886.9C1362.4 1892.7 1375.2 1907.8 1382.4 1917.6C1389.6 1927.4 1395.5 1936.1 1400.3 1945.8C1405.1 1955.6 1407.9 1964.7 1411.2 1976.1C1414.4 1987.5 1416.7 2005.1 1419.9 2014.5C1423.2 2023.8 1424.4 2026.5 1430.7 2032.2C1436.9 2037.9 1449.0 2042.6 1457.4 2048.8C1465.8 2054.9 1472.5 2063.2 1481.3 2068.9C1490.0 2074.7 1501.3 2079.7 1509.7 2083.1C1518.1 2086.4 1522.7 2085.9 1531.6 2089.0C1540.5 2092.2 1555.4 2097.4 1563.1 2102.0C1570.8 2106.6 1574.9 2112.5 1577.9 2116.7C1580.8 2121.0 1580.3 2124.3 1580.7 2127.5C1581.1 2130.6 1581.5 2130.8 1580.4 2135.6C1579.2 2140.3 1576.3 2150.5 1573.8 2155.7C1571.2 2161.0 1567.7 2164.2 1565.2 2167.0C1562.8 2169.7 1562.8 2170.1 1558.9 2172.2C1555.1 2174.2 1550.5 2176.4 1542.1 2179.1C1533.7 2181.8 1517.9 2186.9 1508.5 2188.5Z"/><path d="M1500.1 2184.0C1491.3 2185.3 1493.4 2184.4 1485.3 2182.9C1477.3 2181.5 1467.8 2176.9 1451.7 2175.3C1435.6 2173.8 1403.3 2173.7 1388.6 2173.6C1373.9 2173.6 1370.1 2175.4 1363.4 2175.1C1356.7 2174.8 1352.2 2173.0 1348.7 2171.8C1345.1 2170.6 1344.9 2170.5 1342.2 2167.8C1339.5 2165.2 1334.5 2158.8 1332.5 2155.7C1330.5 2152.7 1331.2 2153.7 1330.0 2149.7C1328.9 2145.6 1326.5 2137.2 1325.6 2131.5C1324.8 2125.8 1325.9 2122.8 1324.9 2115.4C1323.9 2108.0 1322.2 2095.6 1319.6 2087.1C1316.9 2078.6 1311.9 2069.3 1308.7 2064.5C1305.5 2059.7 1310.5 2062.9 1300.3 2058.1C1290.2 2053.4 1258.3 2041.7 1247.8 2036.0C1237.2 2030.4 1240.9 2032.3 1237.2 2024.4C1233.6 2016.4 1229.3 1998.1 1225.8 1988.2C1222.3 1978.3 1220.5 1973.0 1216.2 1964.9C1212.0 1956.8 1202.7 1946.3 1200.5 1939.8C1198.2 1933.2 1201.0 1930.2 1202.9 1925.6C1204.9 1921.1 1206.0 1917.8 1212.0 1912.6C1218.1 1907.5 1227.1 1900.2 1239.4 1894.8C1251.6 1889.5 1276.1 1883.0 1285.6 1880.5C1295.1 1878.0 1288.1 1879.3 1296.1 1879.8C1304.2 1880.3 1325.2 1882.5 1334.0 1883.7C1342.7 1884.8 1345.2 1885.5 1348.7 1886.7C1352.2 1887.8 1349.7 1885.1 1355.0 1890.5C1360.2 1896.0 1373.0 1909.8 1380.2 1919.3C1387.4 1928.9 1393.4 1938.0 1398.1 1947.8C1402.8 1957.6 1405.3 1966.7 1408.3 1978.1C1411.3 1989.6 1413.2 2007.1 1416.2 2016.5C1419.3 2025.9 1420.4 2028.5 1426.7 2034.6C1433.0 2040.7 1445.4 2046.5 1453.8 2053.2C1462.2 2059.8 1468.2 2068.9 1476.9 2074.5C1485.7 2080.1 1497.3 2083.6 1506.4 2086.7C1515.5 2089.9 1522.8 2090.3 1531.6 2093.2C1540.4 2096.1 1553.2 2101.5 1558.9 2104.2C1564.7 2106.9 1563.8 2107.0 1566.3 2109.3C1568.7 2111.6 1571.9 2114.7 1573.7 2118.1C1575.4 2121.5 1576.2 2126.3 1576.5 2129.5C1576.8 2132.7 1576.5 2133.5 1575.3 2137.6C1574.2 2141.6 1572.1 2149.2 1569.7 2153.7C1567.3 2158.2 1563.9 2161.9 1561.0 2164.6C1558.2 2167.2 1556.6 2168.0 1552.8 2169.9C1548.9 2171.7 1546.7 2173.2 1537.9 2175.5C1529.1 2177.9 1508.8 2182.8 1500.1 2184.0Z"/><path d="M1508.5 2176.3C1500.1 2177.3 1496.2 2177.4 1487.4 2175.7C1478.7 2174.1 1470.3 2167.1 1455.9 2166.3C1441.5 2165.5 1416.3 2170.2 1401.2 2171.1C1386.2 2172.0 1373.9 2172.3 1365.5 2171.8C1357.1 2171.4 1354.3 2169.7 1350.8 2168.5C1347.3 2167.3 1347.3 2168.1 1344.5 2164.6C1341.6 2161.2 1336.1 2153.5 1333.6 2147.7C1331.1 2141.8 1331.0 2139.6 1329.5 2129.5C1328.0 2119.4 1326.8 2097.9 1324.7 2087.1C1322.6 2076.3 1319.7 2070.2 1317.0 2064.9C1314.3 2059.6 1318.0 2060.9 1308.7 2055.2C1299.4 2049.5 1271.2 2036.4 1261.2 2030.6C1251.1 2024.8 1253.9 2033.0 1248.3 2020.5C1242.7 2008.1 1232.8 1969.7 1227.8 1955.9C1222.8 1942.1 1219.8 1941.8 1218.2 1937.8C1216.6 1933.7 1217.5 1933.9 1218.2 1931.7C1218.9 1929.5 1218.3 1928.4 1222.5 1924.5C1226.8 1920.6 1232.7 1914.2 1243.6 1908.4C1254.4 1902.6 1272.6 1893.0 1287.7 1889.8C1302.8 1886.6 1324.2 1889.1 1334.0 1889.4C1343.8 1889.6 1343.4 1890.4 1346.6 1891.4C1349.7 1892.3 1347.8 1890.3 1352.9 1895.0C1357.9 1899.7 1369.9 1910.8 1376.8 1919.6C1383.8 1928.4 1390.2 1938.4 1394.7 1947.8C1399.3 1957.3 1401.3 1964.0 1404.2 1976.1C1407.2 1988.2 1410.2 2011.4 1412.3 2020.5C1414.4 2029.6 1414.9 2027.4 1416.9 2030.6C1418.9 2033.8 1418.9 2035.2 1424.4 2039.9C1429.8 2044.6 1442.0 2051.9 1449.7 2058.9C1457.4 2065.8 1455.2 2074.8 1470.6 2081.9C1486.0 2088.9 1527.4 2096.8 1542.1 2101.4C1556.9 2106.0 1554.6 2106.3 1559.1 2109.3C1563.5 2112.3 1566.6 2116.0 1568.7 2119.4C1570.7 2122.8 1571.1 2126.5 1571.4 2129.5C1571.6 2132.5 1571.3 2133.9 1570.2 2137.6C1569.1 2141.3 1566.8 2148.0 1564.7 2151.7C1562.7 2155.4 1560.3 2157.6 1558.0 2159.8C1555.6 2162.0 1553.9 2163.1 1550.5 2164.8C1547.2 2166.4 1544.9 2167.7 1537.9 2169.6C1530.9 2171.5 1516.9 2175.3 1508.5 2176.3Z"/><path d="M1514.8 2168.1C1508.8 2169.2 1506.4 2169.8 1502.2 2169.7C1498.0 2169.7 1496.9 2170.4 1489.5 2167.9C1482.2 2165.3 1472.7 2154.7 1458.0 2154.6C1443.3 2154.5 1416.7 2164.8 1401.2 2167.1C1385.8 2169.4 1374.4 2169.2 1365.5 2168.3C1356.6 2167.4 1352.0 2164.6 1347.7 2161.8C1343.5 2159.0 1341.7 2154.7 1340.0 2151.7C1338.2 2148.7 1338.1 2147.7 1337.1 2143.6C1336.1 2139.6 1335.0 2137.2 1333.8 2127.5C1332.6 2117.7 1331.6 2096.2 1330.0 2085.1C1328.3 2074.0 1326.4 2066.6 1323.9 2060.9C1321.4 2055.2 1321.5 2055.5 1315.0 2050.8C1308.6 2046.1 1294.5 2039.2 1285.0 2032.6C1275.6 2026.1 1265.9 2027.3 1258.3 2011.5C1250.6 1995.6 1242.1 1951.0 1239.3 1937.8C1236.4 1924.5 1236.8 1935.7 1241.3 1931.7C1245.9 1927.7 1258.8 1918.5 1266.6 1913.5C1274.3 1908.5 1282.8 1904.1 1287.7 1901.7C1292.6 1899.4 1287.4 1900.4 1296.1 1899.4C1304.9 1898.4 1331.5 1896.0 1340.3 1895.9C1349.0 1895.8 1345.2 1896.6 1348.7 1898.7C1352.2 1900.7 1356.7 1904.0 1361.3 1908.2C1365.9 1912.4 1370.8 1916.0 1376.2 1923.6C1381.7 1931.2 1389.9 1944.8 1394.0 1953.9C1398.1 1963.0 1398.8 1966.7 1400.9 1978.1C1403.1 1989.6 1405.4 2013.8 1406.9 2022.5C1408.3 2031.3 1407.1 2026.9 1409.4 2030.6C1411.8 2034.3 1415.0 2038.9 1421.0 2044.7C1427.0 2050.6 1438.2 2058.0 1445.4 2065.8C1452.6 2073.6 1460.5 2086.9 1464.3 2091.6C1468.2 2096.4 1464.7 2093.6 1468.5 2094.2C1472.4 2094.8 1476.2 2093.8 1487.4 2095.4C1498.7 2097.1 1524.6 2101.2 1535.8 2104.0C1547.0 2106.8 1550.1 2109.4 1554.7 2112.3C1559.4 2115.2 1561.8 2118.6 1563.6 2121.4C1565.4 2124.3 1565.6 2126.8 1565.7 2129.5C1565.9 2132.2 1565.5 2134.5 1564.6 2137.6C1563.8 2140.6 1562.1 2144.8 1560.5 2147.7C1558.8 2150.5 1558.5 2151.9 1554.7 2154.5C1551.0 2157.1 1544.6 2160.9 1537.9 2163.2C1531.2 2165.4 1520.7 2167.0 1514.8 2168.1Z"/><path d="M1384.4 2164.0C1377.4 2164.5 1368.7 2164.8 1363.4 2164.1C1358.1 2163.4 1355.7 2161.5 1352.9 2159.8C1350.1 2158.0 1348.5 2156.1 1346.8 2153.7C1345.0 2151.4 1343.8 2150.0 1342.5 2145.6C1341.1 2141.3 1339.7 2136.6 1338.7 2127.5C1337.7 2118.4 1337.8 2103.1 1336.6 2091.2C1335.5 2079.2 1334.4 2063.2 1331.9 2055.6C1329.3 2048.0 1328.0 2050.8 1321.3 2045.6C1314.7 2040.4 1300.3 2031.4 1292.2 2024.5C1284.0 2017.7 1276.3 2009.1 1272.2 2004.4C1268.2 1999.6 1269.9 2005.7 1267.9 1996.3C1266.0 1986.9 1261.6 1956.9 1260.4 1947.8C1259.3 1938.8 1256.4 1946.8 1261.0 1941.8C1265.7 1936.7 1278.9 1923.6 1288.3 1917.6C1297.6 1911.5 1309.2 1908.1 1317.1 1905.6C1325.1 1903.1 1331.5 1902.7 1336.1 1902.3C1340.6 1902.0 1340.6 1902.0 1344.5 1903.5C1348.3 1905.1 1354.1 1907.9 1359.2 1911.9C1364.3 1915.9 1370.7 1922.0 1375.3 1927.7C1379.9 1933.3 1383.4 1938.8 1386.7 1945.8C1390.0 1952.9 1393.1 1960.6 1395.3 1970.0C1397.5 1979.5 1398.8 1991.9 1399.9 2002.3C1400.9 2012.8 1395.3 2021.2 1401.6 2032.6C1408.0 2044.1 1427.9 2057.9 1438.0 2071.0C1448.1 2084.0 1457.5 2104.3 1462.2 2111.1C1467.0 2117.8 1461.9 2112.4 1466.4 2111.3C1471.0 2110.2 1479.4 2105.2 1489.5 2104.5C1499.7 2103.9 1519.3 2106.5 1527.4 2107.4C1535.5 2108.3 1534.1 2108.4 1537.9 2109.7C1541.8 2111.1 1547.4 2113.8 1550.5 2115.7C1553.7 2117.7 1555.3 2119.4 1556.8 2121.3C1558.3 2123.3 1559.1 2124.8 1559.4 2127.5C1559.7 2130.2 1559.7 2134.2 1558.6 2137.6C1557.5 2140.9 1555.0 2144.9 1552.6 2147.6C1550.2 2150.2 1548.4 2151.8 1544.2 2153.7C1540.0 2155.7 1534.1 2157.8 1527.4 2159.1C1520.7 2160.4 1510.6 2161.7 1504.3 2161.6C1498.0 2161.5 1494.1 2160.0 1489.5 2158.5C1485.0 2157.1 1481.5 2156.1 1476.9 2152.7C1472.4 2149.3 1465.4 2140.7 1462.2 2138.0C1459.1 2135.4 1462.6 2134.9 1458.0 2136.7C1453.5 2138.5 1443.6 2145.0 1434.9 2149.1C1426.1 2153.2 1413.9 2158.8 1405.5 2161.3C1397.0 2163.8 1391.4 2163.5 1384.4 2164.0Z"/><path d="M1388.6 2159.9C1382.3 2160.6 1371.1 2161.3 1365.5 2160.6C1359.9 2159.9 1357.8 2157.6 1355.2 2155.7C1352.5 2153.9 1351.0 2151.7 1349.6 2149.7C1348.2 2147.7 1347.8 2147.7 1346.7 2143.6C1345.7 2139.6 1344.2 2140.9 1343.4 2125.5C1342.6 2110.0 1348.4 2067.9 1342.0 2050.8C1335.5 2033.6 1314.0 2031.3 1304.8 2022.5C1295.6 2013.8 1290.7 2004.2 1286.8 1998.3C1282.9 1992.4 1282.7 1994.6 1281.4 1987.2C1280.1 1979.8 1279.0 1960.5 1279.0 1953.9C1279.0 1947.3 1278.8 1951.2 1281.3 1947.8C1283.7 1944.5 1288.8 1938.4 1293.9 1933.7C1298.9 1929.0 1306.9 1923.0 1311.6 1919.6C1316.2 1916.2 1318.1 1915.2 1321.8 1913.5C1325.5 1911.9 1330.2 1910.4 1334.0 1909.8C1337.7 1909.3 1340.3 1909.1 1344.5 1910.3C1348.7 1911.5 1355.0 1914.4 1359.2 1916.9C1363.4 1919.5 1366.1 1921.5 1369.8 1925.6C1373.5 1929.8 1378.1 1936.1 1381.3 1941.8C1384.4 1947.5 1386.7 1953.2 1388.7 1960.0C1390.7 1966.7 1392.4 1974.4 1393.5 1982.2C1394.6 1989.9 1395.5 1997.6 1395.3 2006.4C1395.0 2015.1 1389.8 2027.6 1391.8 2034.6C1393.9 2041.7 1401.5 2042.1 1407.6 2048.5C1413.7 2054.9 1422.0 2061.8 1428.5 2073.0C1434.9 2084.1 1443.8 2107.0 1446.4 2115.4C1449.0 2123.8 1447.1 2119.1 1443.9 2123.4C1440.7 2127.8 1434.0 2136.1 1427.3 2141.6C1420.5 2147.1 1409.8 2153.5 1403.3 2156.6C1396.9 2159.6 1394.9 2159.2 1388.6 2159.9Z"/><path d="M1510.6 2153.7C1504.6 2153.3 1496.7 2151.8 1491.7 2149.7C1486.7 2147.7 1483.1 2145.0 1480.6 2141.6C1478.1 2138.2 1476.9 2132.5 1476.6 2129.5C1476.2 2126.5 1477.3 2125.5 1478.4 2123.4C1479.5 2121.4 1480.4 2119.3 1483.3 2117.4C1486.2 2115.5 1489.2 2113.0 1495.9 2112.1C1502.5 2111.3 1516.2 2111.9 1523.2 2112.4C1530.2 2112.8 1533.2 2113.1 1537.9 2114.9C1542.6 2116.8 1548.8 2121.0 1551.4 2123.4C1554.0 2125.9 1553.4 2127.5 1553.7 2129.5C1553.9 2131.5 1554.6 2132.9 1553.1 2135.6C1551.6 2138.2 1549.0 2142.9 1544.7 2145.6C1540.4 2148.4 1533.1 2150.9 1527.4 2152.2C1521.7 2153.6 1516.5 2154.2 1510.6 2153.7Z"/><path d="M1390.7 2156.0C1385.1 2156.9 1373.2 2157.8 1367.6 2157.1C1362.1 2156.4 1360.0 2153.6 1357.5 2151.7C1355.0 2149.8 1354.2 2150.0 1352.7 2145.6C1351.1 2141.3 1349.0 2135.9 1348.2 2125.5C1347.4 2115.0 1347.5 2093.5 1347.9 2083.1C1348.4 2072.6 1349.4 2068.9 1350.8 2062.9C1352.2 2056.8 1356.2 2050.1 1356.3 2046.7C1356.5 2043.4 1355.6 2044.7 1351.9 2042.7C1348.1 2040.7 1339.8 2038.3 1334.0 2034.9C1328.2 2031.5 1321.6 2026.7 1317.1 2022.3C1312.7 2017.9 1310.4 2014.1 1307.4 2008.4C1304.3 2002.7 1300.7 1994.9 1298.8 1988.2C1296.8 1981.5 1295.4 1973.4 1295.5 1968.0C1295.6 1962.6 1296.4 1961.3 1299.3 1955.9C1302.2 1950.5 1308.7 1941.1 1312.7 1935.7C1316.7 1930.4 1319.5 1926.7 1323.4 1923.6C1327.3 1920.5 1332.2 1918.4 1336.1 1917.3C1339.9 1916.1 1343.1 1916.2 1346.6 1916.7C1350.1 1917.2 1353.6 1918.4 1357.1 1920.3C1360.6 1922.2 1364.0 1924.1 1367.6 1928.0C1371.3 1931.9 1375.6 1936.5 1379.0 1943.8C1382.5 1951.2 1386.4 1962.3 1388.3 1972.1C1390.3 1981.8 1390.8 1993.9 1390.6 2002.3C1390.4 2010.8 1389.3 2016.5 1387.1 2022.5C1385.0 2028.6 1375.8 2034.2 1377.8 2038.7C1379.8 2043.2 1393.5 2045.6 1399.1 2049.6C1404.8 2053.6 1408.0 2058.3 1411.6 2062.9C1415.2 2067.5 1417.8 2070.3 1420.9 2077.0C1424.0 2083.7 1428.2 2097.2 1429.9 2103.3C1431.6 2109.3 1432.7 2108.0 1431.0 2113.4C1429.3 2118.7 1424.7 2129.2 1419.7 2135.6C1414.8 2141.9 1406.2 2148.3 1401.4 2151.7C1396.5 2155.1 1396.4 2155.1 1390.7 2156.0Z"/><path d="M1523.2 2145.9C1518.6 2146.4 1513.4 2147.0 1508.5 2146.1C1503.6 2145.2 1496.9 2142.6 1493.8 2140.5C1490.6 2138.4 1490.0 2136.4 1489.7 2133.5C1489.3 2130.7 1490.3 2125.8 1491.7 2123.4C1493.1 2121.1 1493.4 2120.3 1498.0 2119.4C1502.5 2118.5 1513.0 2117.9 1519.0 2117.9C1524.9 2117.8 1529.3 2117.8 1533.7 2119.0C1538.1 2120.3 1543.3 2123.4 1545.6 2125.5C1547.9 2127.5 1547.7 2129.5 1547.5 2131.5C1547.3 2133.5 1546.2 2135.7 1544.2 2137.5C1542.3 2139.4 1539.3 2141.4 1535.8 2142.8C1532.3 2144.1 1527.7 2145.3 1523.2 2145.9Z"/><path d="M1363.4 2031.3C1359.9 2032.5 1358.8 2032.4 1355.0 2031.9C1351.1 2031.3 1344.7 2029.9 1340.3 2028.0C1335.8 2026.1 1331.6 2023.4 1328.3 2020.5C1325.1 2017.6 1322.9 2015.1 1320.6 2010.4C1318.3 2005.7 1315.5 1998.3 1314.5 1992.2C1313.4 1986.2 1312.9 1981.8 1314.4 1974.1C1315.8 1966.3 1320.1 1953.6 1323.4 1945.8C1326.6 1938.1 1330.3 1931.5 1333.8 1927.7C1337.3 1923.8 1340.9 1923.2 1344.5 1922.6C1348.0 1922.0 1351.1 1922.3 1355.0 1924.1C1358.8 1925.9 1364.1 1929.9 1367.6 1933.5C1371.1 1937.1 1373.4 1939.1 1376.2 1945.8C1379.0 1952.5 1382.9 1964.5 1384.4 1973.6C1386.0 1982.6 1385.8 1993.5 1385.6 2000.3C1385.4 2007.1 1384.7 2010.4 1383.1 2014.5C1381.5 2018.5 1379.4 2021.7 1376.1 2024.5C1372.8 2027.3 1366.9 2030.1 1363.4 2031.3Z"/><path d="M1376.0 2153.8C1371.5 2153.9 1368.7 2153.5 1365.5 2151.7C1362.3 2149.9 1359.1 2147.6 1357.1 2142.9C1355.1 2138.2 1354.0 2130.1 1353.4 2123.4C1352.7 2116.8 1352.8 2110.0 1353.0 2103.3C1353.3 2096.5 1353.5 2089.5 1354.6 2083.1C1355.7 2076.7 1357.3 2069.6 1359.5 2064.9C1361.7 2060.3 1364.5 2057.4 1367.6 2055.1C1370.7 2052.9 1373.6 2051.3 1378.1 2051.4C1382.7 2051.5 1390.3 2053.1 1394.9 2055.7C1399.5 2058.3 1402.8 2063.0 1405.7 2066.9C1408.6 2070.8 1410.2 2072.3 1412.3 2079.0C1414.3 2085.8 1418.0 2098.9 1418.0 2107.3C1418.0 2115.7 1413.9 2124.5 1412.1 2129.5C1410.3 2134.5 1410.4 2134.0 1407.2 2137.6C1403.9 2141.2 1398.0 2148.3 1392.8 2151.0C1387.6 2153.7 1380.6 2153.7 1376.0 2153.8Z"/><path d="M1363.4 2021.0C1358.6 2021.6 1349.2 2020.7 1344.5 2019.6C1339.7 2018.5 1337.4 2016.5 1334.9 2014.5C1332.5 2012.4 1331.1 2010.5 1329.8 2007.2C1328.4 2003.8 1327.4 1999.4 1327.0 1994.3C1326.7 1989.1 1326.4 1984.8 1327.9 1976.1C1329.4 1967.4 1333.5 1949.2 1335.8 1941.8C1338.1 1934.4 1339.5 1933.9 1341.6 1931.7C1343.8 1929.5 1345.4 1928.1 1348.7 1928.4C1352.0 1928.8 1357.8 1931.1 1361.3 1933.7C1364.8 1936.3 1366.7 1937.4 1369.7 1944.1C1372.7 1950.8 1377.4 1965.1 1379.1 1974.1C1380.8 1983.1 1380.1 1992.2 1379.8 1998.3C1379.5 2004.4 1378.4 2007.4 1377.4 2010.4C1376.3 2013.4 1375.8 2014.7 1373.5 2016.5C1371.2 2018.2 1368.2 2020.5 1363.4 2021.0Z"/><path d="M1382.3 2147.8C1379.1 2148.2 1374.7 2149.1 1371.8 2148.5C1368.9 2147.8 1366.4 2145.4 1364.8 2143.6C1363.1 2141.8 1362.7 2141.6 1361.8 2137.6C1360.9 2133.5 1359.4 2127.8 1359.2 2119.4C1359.1 2111.0 1360.1 2095.0 1361.2 2087.1C1362.2 2079.3 1364.1 2075.8 1365.5 2072.4C1366.9 2068.9 1367.3 2068.1 1369.7 2066.2C1372.2 2064.3 1376.4 2061.4 1380.2 2060.9C1384.1 2060.5 1389.7 2061.6 1392.8 2063.3C1396.0 2065.0 1397.5 2068.3 1399.2 2071.0C1401.0 2073.6 1402.2 2073.7 1403.5 2079.0C1404.9 2084.4 1407.3 2094.5 1407.1 2103.3C1406.9 2112.0 1404.9 2124.5 1402.2 2131.5C1399.5 2138.6 1394.2 2142.9 1390.9 2145.6C1387.6 2148.4 1385.5 2147.3 1382.3 2147.8Z"/><path d="M1390.2 1735.9C1390.4 1737.9 1390.5 1739.9 1390.4 1741.9C1390.3 1743.8 1390.1 1745.8 1389.8 1747.7C1389.4 1749.6 1388.9 1751.5 1388.3 1753.3C1387.7 1755.1 1386.9 1756.8 1386.0 1758.5C1385.2 1760.1 1384.1 1761.7 1383.0 1763.2C1381.8 1764.7 1380.6 1766.1 1379.2 1767.3C1377.8 1768.6 1376.3 1769.7 1374.8 1770.7C1373.2 1771.8 1371.6 1772.6 1369.9 1773.4C1368.2 1774.1 1366.4 1774.7 1364.6 1775.1C1362.8 1775.5 1361.0 1775.8 1359.2 1775.9C1357.4 1776.0 1355.5 1776.0 1353.8 1775.7C1352.0 1775.5 1350.2 1775.1 1348.5 1774.5C1346.8 1774.0 1345.2 1773.2 1343.6 1772.4C1342.1 1771.5 1340.6 1770.4 1339.2 1769.2C1337.8 1768.0 1336.6 1766.7 1335.4 1765.2C1334.3 1763.7 1333.2 1762.1 1332.3 1760.4C1331.5 1758.7 1330.7 1756.8 1330.1 1754.9C1329.4 1753.0 1329.0 1750.9 1328.6 1748.9C1328.3 1746.8 1328.1 1744.6 1328.0 1742.5C1327.9 1740.3 1328.0 1738.1 1328.2 1735.9C1328.4 1733.7 1328.7 1731.5 1329.2 1729.3C1329.6 1727.2 1330.2 1725.0 1330.8 1723.0C1331.5 1720.9 1332.2 1718.9 1333.1 1716.9C1333.9 1715.0 1334.9 1713.2 1335.9 1711.4C1336.9 1709.7 1338.0 1708.1 1339.1 1706.6C1340.3 1705.2 1341.5 1703.8 1342.7 1702.6C1344.0 1701.4 1345.3 1700.3 1346.6 1699.5C1348.0 1698.6 1349.3 1697.8 1350.7 1697.3C1352.1 1696.7 1353.5 1696.3 1354.9 1696.1C1356.3 1695.9 1357.8 1695.8 1359.2 1695.9C1360.6 1696.0 1362.1 1696.3 1363.5 1696.7C1364.9 1697.1 1366.3 1697.7 1367.7 1698.5C1369.1 1699.2 1370.4 1700.1 1371.8 1701.1C1373.1 1702.1 1374.4 1703.2 1375.6 1704.5C1376.9 1705.8 1378.1 1707.2 1379.3 1708.6C1380.4 1710.1 1381.5 1711.7 1382.5 1713.4C1383.5 1715.0 1384.5 1716.8 1385.3 1718.6C1386.2 1720.4 1386.9 1722.2 1387.6 1724.1C1388.2 1726.0 1388.8 1728.0 1389.2 1730.0C1389.7 1731.9 1390.0 1733.9 1390.2 1735.9Z"/><path d="M1385.9 1736.3C1386.0 1738.0 1386.1 1739.8 1386.0 1741.4C1386.0 1743.1 1385.8 1744.8 1385.5 1746.5C1385.2 1748.1 1384.8 1749.7 1384.2 1751.3C1383.7 1752.8 1383.1 1754.3 1382.3 1755.7C1381.5 1757.2 1380.6 1758.5 1379.6 1759.8C1378.7 1761.1 1377.6 1762.3 1376.4 1763.3C1375.2 1764.4 1373.9 1765.4 1372.6 1766.3C1371.3 1767.2 1369.8 1767.9 1368.4 1768.5C1366.9 1769.2 1365.4 1769.7 1363.9 1770.0C1362.3 1770.4 1360.7 1770.6 1359.2 1770.7C1357.6 1770.8 1356.1 1770.8 1354.5 1770.6C1353.0 1770.4 1351.5 1770.0 1350.0 1769.6C1348.6 1769.1 1347.1 1768.4 1345.8 1767.7C1344.5 1766.9 1343.2 1766.0 1342.0 1765.0C1340.8 1764.0 1339.7 1762.8 1338.7 1761.5C1337.8 1760.2 1336.9 1758.8 1336.1 1757.4C1335.3 1755.9 1334.7 1754.3 1334.1 1752.6C1333.6 1751.0 1333.2 1749.2 1332.9 1747.5C1332.6 1745.7 1332.4 1743.8 1332.4 1742.0C1332.3 1740.1 1332.4 1738.2 1332.5 1736.3C1332.7 1734.4 1333.0 1732.5 1333.4 1730.7C1333.7 1728.8 1334.2 1727.0 1334.8 1725.2C1335.3 1723.4 1336.0 1721.7 1336.7 1720.0C1337.5 1718.4 1338.3 1716.8 1339.1 1715.3C1340.0 1713.8 1341.0 1712.4 1341.9 1711.1C1342.9 1709.9 1344.0 1708.7 1345.0 1707.7C1346.1 1706.7 1347.2 1705.7 1348.4 1705.0C1349.5 1704.2 1350.7 1703.6 1351.9 1703.1C1353.1 1702.6 1354.3 1702.3 1355.5 1702.1C1356.7 1701.9 1358.0 1701.8 1359.2 1701.9C1360.4 1702.0 1361.7 1702.3 1362.9 1702.6C1364.1 1703.0 1365.3 1703.5 1366.5 1704.1C1367.7 1704.7 1368.9 1705.5 1370.0 1706.4C1371.1 1707.2 1372.3 1708.2 1373.3 1709.3C1374.4 1710.4 1375.5 1711.6 1376.4 1712.9C1377.4 1714.1 1378.4 1715.5 1379.2 1716.9C1380.1 1718.4 1380.9 1719.9 1381.7 1721.4C1382.4 1723.0 1383.0 1724.6 1383.6 1726.2C1384.2 1727.8 1384.7 1729.5 1385.0 1731.2C1385.4 1732.9 1385.7 1734.6 1385.9 1736.3Z"/><path d="M1381.2 1736.8C1381.3 1738.2 1381.4 1739.6 1381.3 1741.0C1381.3 1742.4 1381.1 1743.8 1380.9 1745.1C1380.7 1746.5 1380.3 1747.8 1379.9 1749.1C1379.4 1750.4 1378.9 1751.6 1378.3 1752.8C1377.6 1754.0 1376.9 1755.1 1376.1 1756.2C1375.3 1757.2 1374.4 1758.2 1373.4 1759.1C1372.4 1760.0 1371.4 1760.8 1370.3 1761.5C1369.2 1762.2 1368.0 1762.9 1366.8 1763.4C1365.6 1763.9 1364.3 1764.3 1363.0 1764.6C1361.8 1764.9 1360.5 1765.1 1359.2 1765.2C1357.9 1765.3 1356.6 1765.2 1355.3 1765.1C1354.1 1764.9 1352.8 1764.6 1351.6 1764.2C1350.4 1763.8 1349.2 1763.3 1348.1 1762.7C1347.0 1762.0 1346.0 1761.3 1345.0 1760.4C1344.0 1759.6 1343.1 1758.6 1342.3 1757.6C1341.5 1756.5 1340.8 1755.4 1340.1 1754.2C1339.5 1752.9 1339.0 1751.6 1338.5 1750.2C1338.1 1748.9 1337.7 1747.4 1337.5 1746.0C1337.2 1744.5 1337.1 1743.0 1337.0 1741.4C1337.0 1739.9 1337.0 1738.3 1337.2 1736.8C1337.3 1735.2 1337.6 1733.7 1337.9 1732.1C1338.2 1730.6 1338.6 1729.1 1339.0 1727.6C1339.5 1726.1 1340.1 1724.7 1340.7 1723.3C1341.3 1722.0 1341.9 1720.6 1342.6 1719.4C1343.4 1718.2 1344.1 1717.0 1345.0 1716.0C1345.8 1714.9 1346.6 1714.0 1347.5 1713.1C1348.4 1712.3 1349.3 1711.5 1350.3 1710.9C1351.2 1710.3 1352.2 1709.8 1353.2 1709.4C1354.2 1709.0 1355.2 1708.7 1356.2 1708.5C1357.2 1708.4 1358.2 1708.3 1359.2 1708.4C1360.2 1708.5 1361.2 1708.6 1362.2 1709.0C1363.2 1709.3 1364.2 1709.7 1365.2 1710.2C1366.2 1710.7 1367.2 1711.3 1368.1 1712.1C1369.1 1712.8 1370.0 1713.6 1370.9 1714.5C1371.8 1715.4 1372.6 1716.4 1373.4 1717.4C1374.2 1718.5 1375.0 1719.6 1375.7 1720.8C1376.5 1721.9 1377.1 1723.2 1377.7 1724.5C1378.3 1725.7 1378.9 1727.1 1379.4 1728.4C1379.8 1729.8 1380.2 1731.2 1380.5 1732.6C1380.8 1734.0 1381.1 1735.4 1381.2 1736.8Z"/><path d="M1376.6 1737.2C1376.7 1738.3 1376.7 1739.5 1376.7 1740.6C1376.6 1741.7 1376.5 1742.8 1376.3 1743.8C1376.1 1744.9 1375.9 1745.9 1375.5 1746.9C1375.2 1748.0 1374.7 1748.9 1374.2 1749.9C1373.7 1750.8 1373.2 1751.7 1372.5 1752.5C1371.9 1753.3 1371.2 1754.1 1370.4 1754.8C1369.6 1755.5 1368.8 1756.2 1367.9 1756.7C1367.0 1757.3 1366.1 1757.8 1365.2 1758.2C1364.2 1758.6 1363.2 1758.9 1362.2 1759.2C1361.2 1759.4 1360.2 1759.6 1359.2 1759.6C1358.2 1759.7 1357.2 1759.7 1356.2 1759.5C1355.2 1759.4 1354.2 1759.2 1353.2 1758.9C1352.3 1758.6 1351.3 1758.1 1350.5 1757.6C1349.6 1757.1 1348.8 1756.6 1348.0 1755.9C1347.2 1755.2 1346.5 1754.5 1345.9 1753.6C1345.2 1752.8 1344.7 1751.9 1344.2 1750.9C1343.7 1750.0 1343.2 1748.9 1342.9 1747.9C1342.5 1746.8 1342.3 1745.6 1342.1 1744.5C1341.9 1743.3 1341.8 1742.1 1341.7 1740.9C1341.7 1739.7 1341.7 1738.5 1341.8 1737.2C1341.9 1736.0 1342.1 1734.8 1342.4 1733.6C1342.6 1732.3 1342.9 1731.1 1343.3 1730.0C1343.7 1728.8 1344.1 1727.7 1344.6 1726.6C1345.0 1725.5 1345.6 1724.5 1346.1 1723.5C1346.7 1722.6 1347.3 1721.7 1348.0 1720.8C1348.6 1720.0 1349.3 1719.2 1350.0 1718.6C1350.7 1717.9 1351.4 1717.3 1352.2 1716.8C1352.9 1716.3 1353.7 1715.9 1354.4 1715.6C1355.2 1715.3 1356.0 1715.1 1356.8 1714.9C1357.6 1714.8 1358.4 1714.8 1359.2 1714.8C1360.0 1714.9 1360.8 1715.0 1361.6 1715.3C1362.4 1715.5 1363.2 1715.8 1363.9 1716.3C1364.7 1716.7 1365.5 1717.2 1366.2 1717.7C1367.0 1718.3 1367.7 1718.9 1368.4 1719.6C1369.1 1720.3 1369.8 1721.1 1370.4 1722.0C1371.1 1722.8 1371.7 1723.7 1372.2 1724.6C1372.8 1725.5 1373.3 1726.5 1373.8 1727.5C1374.3 1728.5 1374.7 1729.6 1375.1 1730.6C1375.5 1731.7 1375.8 1732.8 1376.0 1733.9C1376.3 1735.0 1376.4 1736.1 1376.6 1737.2Z"/><path d="M1371.6 1737.7C1371.7 1738.5 1371.7 1739.3 1371.7 1740.1C1371.6 1740.9 1371.6 1741.7 1371.4 1742.4C1371.3 1743.2 1371.1 1743.9 1370.8 1744.7C1370.6 1745.4 1370.3 1746.1 1369.9 1746.7C1369.6 1747.4 1369.2 1748.0 1368.7 1748.6C1368.2 1749.2 1367.7 1749.8 1367.2 1750.3C1366.6 1750.8 1366.0 1751.2 1365.4 1751.6C1364.8 1752.0 1364.1 1752.4 1363.5 1752.7C1362.8 1753.0 1362.1 1753.2 1361.4 1753.4C1360.7 1753.6 1359.9 1753.7 1359.2 1753.7C1358.5 1753.8 1357.7 1753.7 1357.0 1753.6C1356.3 1753.5 1355.6 1753.4 1354.9 1753.2C1354.2 1752.9 1353.6 1752.6 1353.0 1752.3C1352.3 1751.9 1351.7 1751.5 1351.2 1751.0C1350.7 1750.6 1350.1 1750.0 1349.7 1749.4C1349.2 1748.8 1348.8 1748.2 1348.5 1747.5C1348.1 1746.8 1347.8 1746.1 1347.5 1745.3C1347.3 1744.5 1347.1 1743.7 1347.0 1742.9C1346.8 1742.1 1346.7 1741.2 1346.7 1740.3C1346.7 1739.5 1346.7 1738.6 1346.8 1737.7C1346.9 1736.8 1347.0 1735.9 1347.2 1735.1C1347.4 1734.2 1347.6 1733.4 1347.8 1732.5C1348.1 1731.7 1348.4 1730.9 1348.7 1730.1C1349.1 1729.4 1349.5 1728.6 1349.9 1727.9C1350.3 1727.2 1350.7 1726.6 1351.2 1726.0C1351.6 1725.4 1352.1 1724.9 1352.6 1724.4C1353.1 1723.9 1353.6 1723.5 1354.2 1723.1C1354.7 1722.8 1355.2 1722.5 1355.8 1722.3C1356.4 1722.0 1356.9 1721.9 1357.5 1721.8C1358.1 1721.7 1358.6 1721.7 1359.2 1721.7C1359.8 1721.8 1360.3 1721.9 1360.9 1722.0C1361.5 1722.2 1362.0 1722.4 1362.6 1722.7C1363.1 1723.0 1363.7 1723.4 1364.2 1723.8C1364.8 1724.2 1365.3 1724.6 1365.8 1725.1C1366.3 1725.7 1366.8 1726.2 1367.2 1726.8C1367.7 1727.4 1368.1 1728.0 1368.5 1728.7C1368.9 1729.4 1369.3 1730.1 1369.6 1730.8C1370.0 1731.5 1370.3 1732.2 1370.6 1733.0C1370.8 1733.8 1371.0 1734.5 1371.2 1735.3C1371.4 1736.1 1371.5 1736.9 1371.6 1737.7Z"/><path d="M1366.0 1738.3C1366.1 1738.7 1366.1 1739.1 1366.1 1739.6C1366.0 1740.0 1366.0 1740.4 1365.9 1740.8C1365.8 1741.3 1365.7 1741.7 1365.6 1742.1C1365.5 1742.5 1365.3 1742.9 1365.1 1743.2C1364.9 1743.6 1364.7 1743.9 1364.4 1744.3C1364.2 1744.6 1363.9 1744.9 1363.6 1745.2C1363.3 1745.4 1363.0 1745.7 1362.6 1745.9C1362.3 1746.1 1361.9 1746.3 1361.5 1746.5C1361.2 1746.7 1360.8 1746.8 1360.4 1746.9C1360.0 1747.0 1359.6 1747.0 1359.2 1747.1C1358.8 1747.1 1358.4 1747.1 1358.0 1747.0C1357.6 1747.0 1357.2 1746.9 1356.8 1746.8C1356.5 1746.6 1356.1 1746.5 1355.8 1746.3C1355.4 1746.1 1355.1 1745.8 1354.8 1745.6C1354.5 1745.3 1354.2 1745.0 1354.0 1744.7C1353.7 1744.4 1353.5 1744.0 1353.3 1743.6C1353.1 1743.3 1352.9 1742.8 1352.8 1742.4C1352.7 1742.0 1352.5 1741.6 1352.5 1741.1C1352.4 1740.6 1352.3 1740.2 1352.3 1739.7C1352.3 1739.2 1352.3 1738.7 1352.4 1738.3C1352.4 1737.8 1352.5 1737.3 1352.6 1736.8C1352.7 1736.3 1352.8 1735.9 1352.9 1735.4C1353.1 1734.9 1353.3 1734.5 1353.4 1734.1C1353.6 1733.7 1353.8 1733.2 1354.1 1732.9C1354.3 1732.5 1354.5 1732.1 1354.8 1731.8C1355.0 1731.5 1355.3 1731.2 1355.6 1730.9C1355.9 1730.7 1356.1 1730.4 1356.4 1730.2C1356.7 1730.0 1357.0 1729.9 1357.3 1729.8C1357.6 1729.6 1357.9 1729.5 1358.3 1729.5C1358.6 1729.4 1358.9 1729.4 1359.2 1729.5C1359.5 1729.5 1359.8 1729.5 1360.1 1729.6C1360.4 1729.7 1360.8 1729.9 1361.1 1730.0C1361.4 1730.2 1361.7 1730.4 1362.0 1730.6C1362.3 1730.8 1362.5 1731.1 1362.8 1731.3C1363.1 1731.6 1363.4 1731.9 1363.6 1732.2C1363.9 1732.6 1364.1 1732.9 1364.3 1733.3C1364.5 1733.7 1364.8 1734.0 1364.9 1734.4C1365.1 1734.8 1365.3 1735.2 1365.4 1735.7C1365.6 1736.1 1365.7 1736.5 1365.8 1736.9C1365.9 1737.4 1366.0 1737.8 1366.0 1738.3Z"/></g><path d="M1363.4 1709V2381.8M1027 2045.4H1699.8" stroke="#fff" stroke-width="2.6" stroke-dasharray="9 5"/><rect x="1152.3" y="2290.8" width="9.8" height="25.6" fill="#ff0000"/><path d="M1573.5 2180.3V2313.7" stroke="#fff" stroke-width="2.6"/></g><path d="M1356.9 2032.4 1363.4 2038.9 1369.9 2032.4 1376.4 2038.9 1369.9 2045.4 1376.4 2051.9 1369.9 2058.4 1363.4 2051.9 1356.9 2058.4 1350.4 2051.9 1356.9 2045.4 1350.4 2038.9Z" fill="#ff00ff" stroke="#fff" stroke-width="5" paint-order="stroke" stroke-linejoin="miter"/><text x="1151.6" y="1784" font-size="27" text-anchor="start" font-weight="bold" fill="#fff" font-family="'DejaVu Sans', 'Liberation Sans', sans-serif">(b) SiO PV</text><text x="1510.3" y="1785.3" font-size="27" text-anchor="start" font-weight="bold" font-style="italic" fill="#fff" font-family="'DejaVu Sans', 'Liberation Sans', sans-serif">North</text><text x="1469.4" y="2323.5" font-size="26.6" text-anchor="start" font-weight="bold" font-style="italic" fill="#fff" font-family="'DejaVu Sans', 'Liberation Sans', sans-serif">South</text><text x="1153.5" y="1936.7" font-size="25.8" text-anchor="start" font-weight="bold" font-style="italic" fill="#fff" font-family="'DejaVu Sans', 'Liberation Sans', sans-serif">B2</text><text x="1153.5" y="2019.6" font-size="25.8" text-anchor="start" font-weight="bold" font-style="italic" fill="#fff" font-family="'DejaVu Sans', 'Liberation Sans', sans-serif">B1</text><text x="1573" y="2122" font-size="25.8" text-anchor="start" font-weight="bold" font-style="italic" fill="#fff" font-family="'DejaVu Sans', 'Liberation Sans', sans-serif">R1</text><text x="1619" y="2248.4" font-size="26.4" text-anchor="middle" font-weight="bold" font-style="italic" fill="#fff" transform="rotate(-90 1619 2248.4)" font-family="'DejaVu Sans', 'Liberation Sans', sans-serif">800 AU</text><rect x="1027" y="1709" width="672.8" height="672.8" fill="none" stroke="#000" stroke-width="1.8"/><path d="M1027 2381.8v-8.6M1069.05 2381.8v-8.6M1111.1 2381.8v-8.6M1195.2 2381.8v-8.6M1237.25 2381.8v-8.6M1279.3 2381.8v-8.6M1321.35 2381.8v-8.6M1405.45 2381.8v-8.6M1447.5 2381.8v-8.6M1489.55 2381.8v-8.6M1531.6 2381.8v-8.6M1615.7 2381.8v-8.6M1657.75 2381.8v-8.6M1699.8 2381.8v-8.6" stroke="#000" stroke-width="1.6" fill="none"/><path d="M1153.15 2381.8v-17M1363.4 2381.8v-17M1573.65 2381.8v-17" stroke="#000" stroke-width="1.6" fill="none"/><path d="M1027 1709v8.6M1069.05 1709v8.6M1111.1 1709v8.6M1195.2 1709v8.6M1237.25 1709v8.6M1279.3 1709v8.6M1321.35 1709v8.6M1405.45 1709v8.6M1447.5 1709v8.6M1489.55 1709v8.6M1531.6 1709v8.6M1615.7 1709v8.6M1657.75 1709v8.6M1699.8 1709v8.6" stroke="#000" stroke-width="1.6" fill="none"/><path d="M1153.15 1709v17M1363.4 1709v17M1573.65 1709v17" stroke="#000" stroke-width="1.6" fill="none"/><path d="M1027 2368.34h8.6M1027 2341.43h8.6M1027 2287.61h8.6M1027 2260.7h8.6M1027 2233.78h8.6M1027 2206.87h8.6M1027 2153.05h8.6M1027 2126.14h8.6M1027 2099.22h8.6M1027 2072.31h8.6M1027 2018.49h8.6M1027 1991.58h8.6M1027 1964.66h8.6M1027 1937.75h8.6M1027 1883.93h8.6M1027 1857.02h8.6M1027 1830.1h8.6M1027 1803.19h8.6M1027 1749.37h8.6M1027 1722.46h8.6" stroke="#000" stroke-width="1.6" fill="none"/><path d="M1027 2314.52h17M1027 2179.96h17M1027 2045.4h17M1027 1910.84h17M1027 1776.28h17" stroke="#000" stroke-width="1.6" fill="none"/><path d="M1699.8 2368.34h-8.6M1699.8 2341.43h-8.6M1699.8 2287.61h-8.6M1699.8 2260.7h-8.6M1699.8 2233.78h-8.6M1699.8 2206.87h-8.6M1699.8 2153.05h-8.6M1699.8 2126.14h-8.6M1699.8 2099.22h-8.6M1699.8 2072.31h-8.6M1699.8 2018.49h-8.6M1699.8 1991.58h-8.6M1699.8 1964.66h-8.6M1699.8 1937.75h-8.6M1699.8 1883.93h-8.6M1699.8 1857.02h-8.6M1699.8 1830.1h-8.6M1699.8 1803.19h-8.6M1699.8 1749.37h-8.6M1699.8 1722.46h-8.6" stroke="#000" stroke-width="1.6" fill="none"/><path d="M1699.8 2314.52h-17M1699.8 2179.96h-17M1699.8 2045.4h-17M1699.8 1910.84h-17M1699.8 1776.28h-17" stroke="#000" stroke-width="1.6" fill="none"/><text x="1153.15" y="2417.3" font-size="27.4" text-anchor="middle" fill="#000" font-family="'DejaVu Sans', 'Liberation Sans', sans-serif">-50.0</text><text x="1363.4" y="2417.3" font-size="27.4" text-anchor="middle" fill="#000" font-family="'DejaVu Sans', 'Liberation Sans', sans-serif">0.0</text><text x="1573.65" y="2417.3" font-size="27.4" text-anchor="middle" fill="#000" font-family="'DejaVu Sans', 'Liberation Sans', sans-serif">50.0</text><text x="1023" y="1786.58" font-size="28" text-anchor="end" fill="#000" font-family="'DejaVu Sans', 'Liberation Sans', sans-serif">4</text><text x="1023" y="1921.14" font-size="28" text-anchor="end" fill="#000" font-family="'DejaVu Sans', 'Liberation Sans', sans-serif">2</text><text x="1023" y="2055.7" font-size="28" text-anchor="end" fill="#000" font-family="'DejaVu Sans', 'Liberation Sans', sans-serif">0</text><text x="1023" y="2190.26" font-size="28" text-anchor="end" fill="#000" font-family="'DejaVu Sans', 'Liberation Sans', sans-serif">-2</text><text x="1023" y="2324.82" font-size="28" text-anchor="end" fill="#000" font-family="'DejaVu Sans', 'Liberation Sans', sans-serif">-4</text><text x="1362.6" y="2448.5" font-size="27.1" text-anchor="middle" fill="#000" font-family="'DejaVu Sans', 'Liberation Sans', sans-serif">Velocity Offset (km s<tspan font-size="19" dy="-10.5">−1</tspan><tspan dy="10.5">)</tspan></text><text x="975" y="2045.5" font-size="27" text-anchor="middle" fill="#000" transform="rotate(-90 975 2045.5)" font-family="'DejaVu Sans', 'Liberation Sans', sans-serif">Position Offset (")</text><rect x="1702" y="1709" width="35.0" height="672.8" fill="url(#jetF)" stroke="#000" stroke-width="1.6"/><path d="M1737 1761.9h-7M1737 1863.2h-7M1737 1972.2h-7M1737 2092h-7M1737 2231h-7" stroke="#000" stroke-width="1.4"/><text x="1741.9" y="1772.1" font-size="28" text-anchor="start" fill="#000" font-family="'DejaVu Sans', 'Liberation Sans', sans-serif">2.5</text><text x="1741.9" y="1873.4" font-size="28" text-anchor="start" fill="#000" font-family="'DejaVu Sans', 'Liberation Sans', sans-serif">2.0</text><text x="1741.9" y="1982.4" font-size="28" text-anchor="start" fill="#000" font-family="'DejaVu Sans', 'Liberation Sans', sans-serif">1.5</text><text x="1741.9" y="2102.2" font-size="28" text-anchor="start" fill="#000" font-family="'DejaVu Sans', 'Liberation Sans', sans-serif">1.0</text><text x="1741.9" y="2241.2" font-size="28" text-anchor="start" fill="#000" font-family="'DejaVu Sans', 'Liberation Sans', sans-serif">0.5</text><text x="1813" y="2046.5" font-size="28" text-anchor="middle" fill="#000" transform="rotate(-90 1813 2046.5)" font-family="'DejaVu Sans', 'Liberation Sans', sans-serif">(K)</text>
</svg></body></html>
